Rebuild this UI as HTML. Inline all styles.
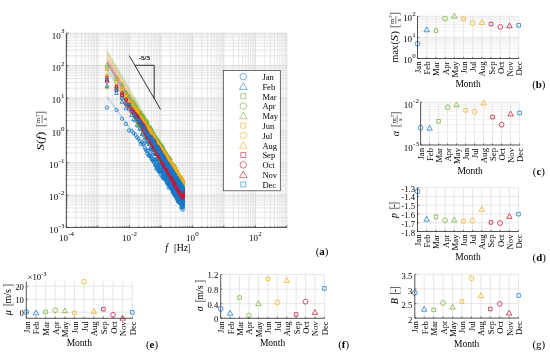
<!DOCTYPE html><html><head><meta charset="utf-8"><style>html,body{margin:0;padding:0;background:#fff;overflow:hidden}svg{display:block}</style></head><body><svg width="550" height="358" viewBox="0 0 550 358" font-family="'Liberation Serif', 'Times New Roman', serif">
<rect width="550" height="358" fill="#fff"/>
<path d="M75.83 33.2V227.42M81.38 33.2V227.42M85.31 33.2V227.42M88.37 33.2V227.42M90.86 33.2V227.42M92.97 33.2V227.42M94.8 33.2V227.42M96.41 33.2V227.42M107.33 33.2V227.42M112.88 33.2V227.42M116.81 33.2V227.42M119.87 33.2V227.42M122.36 33.2V227.42M124.47 33.2V227.42M126.3 33.2V227.42M127.91 33.2V227.42M138.83 33.2V227.42M144.38 33.2V227.42M148.31 33.2V227.42M151.37 33.2V227.42M153.86 33.2V227.42M155.97 33.2V227.42M157.8 33.2V227.42M159.41 33.2V227.42M170.33 33.2V227.42M175.88 33.2V227.42M179.81 33.2V227.42M182.87 33.2V227.42M185.36 33.2V227.42M187.47 33.2V227.42M189.3 33.2V227.42M190.91 33.2V227.42M201.83 33.2V227.42M207.38 33.2V227.42M211.31 33.2V227.42M214.37 33.2V227.42M216.86 33.2V227.42M218.97 33.2V227.42M220.8 33.2V227.42M222.41 33.2V227.42M233.33 33.2V227.42M238.88 33.2V227.42M242.81 33.2V227.42M245.87 33.2V227.42M248.36 33.2V227.42M250.47 33.2V227.42M252.3 33.2V227.42M253.91 33.2V227.42M264.83 33.2V227.42M270.38 33.2V227.42M274.31 33.2V227.42M277.37 33.2V227.42M279.86 33.2V227.42M281.97 33.2V227.42M283.8 33.2V227.42M285.41 33.2V227.42M66.35 217.68H286.85M66.35 211.98H286.85M66.35 207.93H286.85M66.35 204.79H286.85M66.35 202.23H286.85M66.35 200.06H286.85M66.35 198.19H286.85M66.35 196.53H286.85M66.35 185.31H286.85M66.35 179.61H286.85M66.35 175.56H286.85M66.35 172.42H286.85M66.35 169.86H286.85M66.35 167.69H286.85M66.35 165.82H286.85M66.35 164.16H286.85M66.35 152.94H286.85M66.35 147.24H286.85M66.35 143.19H286.85M66.35 140.05H286.85M66.35 137.49H286.85M66.35 135.32H286.85M66.35 133.45H286.85M66.35 131.79H286.85M66.35 120.57H286.85M66.35 114.87H286.85M66.35 110.82H286.85M66.35 107.68H286.85M66.35 105.12H286.85M66.35 102.95H286.85M66.35 101.08H286.85M66.35 99.42H286.85M66.35 88.2H286.85M66.35 82.5H286.85M66.35 78.45H286.85M66.35 75.31H286.85M66.35 72.75H286.85M66.35 70.58H286.85M66.35 68.71H286.85M66.35 67.05H286.85M66.35 55.83H286.85M66.35 50.13H286.85M66.35 46.08H286.85M66.35 42.94H286.85M66.35 40.38H286.85M66.35 38.21H286.85M66.35 36.34H286.85M66.35 34.68H286.85" stroke="#dddddd" stroke-width="0.7" fill="none"/>
<path d="M66.35 33.2V227.42M97.85 33.2V227.42M129.35 33.2V227.42M160.85 33.2V227.42M192.35 33.2V227.42M223.85 33.2V227.42M255.35 33.2V227.42M286.85 33.2V227.42M66.35 227.42H286.85M66.35 195.05H286.85M66.35 162.68H286.85M66.35 130.31H286.85M66.35 97.94H286.85M66.35 65.57H286.85M66.35 33.2H286.85" stroke="#d2d2d2" stroke-width="0.75" fill="none"/>
<path d="M107.01 96.62L182.87 201.23" stroke="#1978c8" stroke-opacity="0.25" stroke-width="1.5" fill="none"/>
<path d="M107.01 69.22L182.87 198.39" stroke="#1978c8" stroke-opacity="0.25" stroke-width="1.5" fill="none"/>
<path d="M107.01 66.15L182.87 193.53" stroke="#78af32" stroke-opacity="0.25" stroke-width="1.5" fill="none"/>
<path d="M107.01 52.29L182.87 182.55" stroke="#78af32" stroke-opacity="0.25" stroke-width="1.5" fill="none"/>
<path d="M107.01 50.78L182.87 180.57" stroke="#78af32" stroke-opacity="0.25" stroke-width="1.5" fill="none"/>
<path d="M107.01 53.59L182.87 184.71" stroke="#f0af19" stroke-opacity="0.25" stroke-width="1.5" fill="none"/>
<path d="M107.01 55.25L182.87 185.9" stroke="#f0af19" stroke-opacity="0.25" stroke-width="1.5" fill="none"/>
<path d="M107.01 60.03L182.87 180.39" stroke="#f0af19" stroke-opacity="0.25" stroke-width="1.5" fill="none"/>
<path d="M107.01 57.54L182.87 189.76" stroke="#c3193c" stroke-opacity="0.25" stroke-width="1.5" fill="none"/>
<path d="M107.01 62.69L182.87 195.45" stroke="#c3193c" stroke-opacity="0.25" stroke-width="1.5" fill="none"/>
<path d="M107.01 61.25L182.87 187.92" stroke="#c3193c" stroke-opacity="0.25" stroke-width="1.5" fill="none"/>
<path d="M107.01 62.67L182.87 187.48" stroke="#1978c8" stroke-opacity="0.25" stroke-width="1.5" fill="none"/>
<path d="M105.36 107.65a1.65 1.65 0 1 0 3.3 0a1.65 1.65 0 1 0 -3.3 0M114.84 110.03a1.65 1.65 0 1 0 3.3 0a1.65 1.65 0 1 0 -3.3 0M120.39 118.73a1.65 1.65 0 1 0 3.3 0a1.65 1.65 0 1 0 -3.3 0M124.32 123.89a1.65 1.65 0 1 0 3.3 0a1.65 1.65 0 1 0 -3.3 0M127.38 130.47a1.65 1.65 0 1 0 3.3 0a1.65 1.65 0 1 0 -3.3 0M129.87 130.68a1.65 1.65 0 1 0 3.3 0a1.65 1.65 0 1 0 -3.3 0M131.98 133.16a1.65 1.65 0 1 0 3.3 0a1.65 1.65 0 1 0 -3.3 0M133.81 134.75a1.65 1.65 0 1 0 3.3 0a1.65 1.65 0 1 0 -3.3 0M135.42 137.47a1.65 1.65 0 1 0 3.3 0a1.65 1.65 0 1 0 -3.3 0M136.86 138.6a1.65 1.65 0 1 0 3.3 0a1.65 1.65 0 1 0 -3.3 0M138.16 141.18a1.65 1.65 0 1 0 3.3 0a1.65 1.65 0 1 0 -3.3 0M139.35 144.25a1.65 1.65 0 1 0 3.3 0a1.65 1.65 0 1 0 -3.3 0M140.45 142.26a1.65 1.65 0 1 0 3.3 0a1.65 1.65 0 1 0 -3.3 0M141.46 143.72a1.65 1.65 0 1 0 3.3 0a1.65 1.65 0 1 0 -3.3 0M142.4 143.74a1.65 1.65 0 1 0 3.3 0a1.65 1.65 0 1 0 -3.3 0M143.29 147.7a1.65 1.65 0 1 0 3.3 0a1.65 1.65 0 1 0 -3.3 0M144.12 149.62a1.65 1.65 0 1 0 3.3 0a1.65 1.65 0 1 0 -3.3 0M144.9 150.98a1.65 1.65 0 1 0 3.3 0a1.65 1.65 0 1 0 -3.3 0M145.64 153.66a1.65 1.65 0 1 0 3.3 0a1.65 1.65 0 1 0 -3.3 0M146.34 150.58a1.65 1.65 0 1 0 3.3 0a1.65 1.65 0 1 0 -3.3 0M147.01 154.96a1.65 1.65 0 1 0 3.3 0a1.65 1.65 0 1 0 -3.3 0M147.64 156.06a1.65 1.65 0 1 0 3.3 0a1.65 1.65 0 1 0 -3.3 0M148.25 155.4a1.65 1.65 0 1 0 3.3 0a1.65 1.65 0 1 0 -3.3 0M148.83 153.54a1.65 1.65 0 1 0 3.3 0a1.65 1.65 0 1 0 -3.3 0M149.39 156.41a1.65 1.65 0 1 0 3.3 0a1.65 1.65 0 1 0 -3.3 0M149.93 159.27a1.65 1.65 0 1 0 3.3 0a1.65 1.65 0 1 0 -3.3 0M150.45 159.55a1.65 1.65 0 1 0 3.3 0a1.65 1.65 0 1 0 -3.3 0M150.94 158.14a1.65 1.65 0 1 0 3.3 0a1.65 1.65 0 1 0 -3.3 0M151.42 160.13a1.65 1.65 0 1 0 3.3 0a1.65 1.65 0 1 0 -3.3 0M151.89 161.82a1.65 1.65 0 1 0 3.3 0a1.65 1.65 0 1 0 -3.3 0M152.34 161.63a1.65 1.65 0 1 0 3.3 0a1.65 1.65 0 1 0 -3.3 0M152.77 160.71a1.65 1.65 0 1 0 3.3 0a1.65 1.65 0 1 0 -3.3 0M153.19 159.36a1.65 1.65 0 1 0 3.3 0a1.65 1.65 0 1 0 -3.3 0M153.6 165.19a1.65 1.65 0 1 0 3.3 0a1.65 1.65 0 1 0 -3.3 0M154 164.79a1.65 1.65 0 1 0 3.3 0a1.65 1.65 0 1 0 -3.3 0M154.38 165.66a1.65 1.65 0 1 0 3.3 0a1.65 1.65 0 1 0 -3.3 0M154.76 168.84a1.65 1.65 0 1 0 3.3 0a1.65 1.65 0 1 0 -3.3 0M155.12 166.98a1.65 1.65 0 1 0 3.3 0a1.65 1.65 0 1 0 -3.3 0M155.48 167.68a1.65 1.65 0 1 0 3.3 0a1.65 1.65 0 1 0 -3.3 0M155.82 164.72a1.65 1.65 0 1 0 3.3 0a1.65 1.65 0 1 0 -3.3 0M156.16 167.26a1.65 1.65 0 1 0 3.3 0a1.65 1.65 0 1 0 -3.3 0M156.49 170.16a1.65 1.65 0 1 0 3.3 0a1.65 1.65 0 1 0 -3.3 0M156.81 166.96a1.65 1.65 0 1 0 3.3 0a1.65 1.65 0 1 0 -3.3 0M157.13 169.05a1.65 1.65 0 1 0 3.3 0a1.65 1.65 0 1 0 -3.3 0M157.43 171.75a1.65 1.65 0 1 0 3.3 0a1.65 1.65 0 1 0 -3.3 0M157.73 170.34a1.65 1.65 0 1 0 3.3 0a1.65 1.65 0 1 0 -3.3 0M158.03 170.76a1.65 1.65 0 1 0 3.3 0a1.65 1.65 0 1 0 -3.3 0M158.32 171.65a1.65 1.65 0 1 0 3.3 0a1.65 1.65 0 1 0 -3.3 0M158.6 170.61a1.65 1.65 0 1 0 3.3 0a1.65 1.65 0 1 0 -3.3 0M158.88 174.71a1.65 1.65 0 1 0 3.3 0a1.65 1.65 0 1 0 -3.3 0M159.15 171.9a1.65 1.65 0 1 0 3.3 0a1.65 1.65 0 1 0 -3.3 0M159.41 170.22a1.65 1.65 0 1 0 3.3 0a1.65 1.65 0 1 0 -3.3 0M159.67 170.87a1.65 1.65 0 1 0 3.3 0a1.65 1.65 0 1 0 -3.3 0M159.93 170.83a1.65 1.65 0 1 0 3.3 0a1.65 1.65 0 1 0 -3.3 0M160.18 171.19a1.65 1.65 0 1 0 3.3 0a1.65 1.65 0 1 0 -3.3 0M160.43 170.96a1.65 1.65 0 1 0 3.3 0a1.65 1.65 0 1 0 -3.3 0M160.67 175.53a1.65 1.65 0 1 0 3.3 0a1.65 1.65 0 1 0 -3.3 0M160.91 172.71a1.65 1.65 0 1 0 3.3 0a1.65 1.65 0 1 0 -3.3 0M161.14 177.43a1.65 1.65 0 1 0 3.3 0a1.65 1.65 0 1 0 -3.3 0M161.37 175.74a1.65 1.65 0 1 0 3.3 0a1.65 1.65 0 1 0 -3.3 0M161.6 178.2a1.65 1.65 0 1 0 3.3 0a1.65 1.65 0 1 0 -3.3 0M161.82 173.73a1.65 1.65 0 1 0 3.3 0a1.65 1.65 0 1 0 -3.3 0M162.04 173.59a1.65 1.65 0 1 0 3.3 0a1.65 1.65 0 1 0 -3.3 0M162.25 176.39a1.65 1.65 0 1 0 3.3 0a1.65 1.65 0 1 0 -3.3 0M162.46 173.51a1.65 1.65 0 1 0 3.3 0a1.65 1.65 0 1 0 -3.3 0M162.67 177.79a1.65 1.65 0 1 0 3.3 0a1.65 1.65 0 1 0 -3.3 0M162.88 176.76a1.65 1.65 0 1 0 3.3 0a1.65 1.65 0 1 0 -3.3 0M163.08 177.05a1.65 1.65 0 1 0 3.3 0a1.65 1.65 0 1 0 -3.3 0M163.28 179.32a1.65 1.65 0 1 0 3.3 0a1.65 1.65 0 1 0 -3.3 0M163.48 177.18a1.65 1.65 0 1 0 3.3 0a1.65 1.65 0 1 0 -3.3 0M163.67 175.04a1.65 1.65 0 1 0 3.3 0a1.65 1.65 0 1 0 -3.3 0M163.86 180.12a1.65 1.65 0 1 0 3.3 0a1.65 1.65 0 1 0 -3.3 0M164.05 177.28a1.65 1.65 0 1 0 3.3 0a1.65 1.65 0 1 0 -3.3 0M164.24 179.26a1.65 1.65 0 1 0 3.3 0a1.65 1.65 0 1 0 -3.3 0M164.42 176.42a1.65 1.65 0 1 0 3.3 0a1.65 1.65 0 1 0 -3.3 0M164.6 178.77a1.65 1.65 0 1 0 3.3 0a1.65 1.65 0 1 0 -3.3 0M164.78 178.72a1.65 1.65 0 1 0 3.3 0a1.65 1.65 0 1 0 -3.3 0M164.96 179.04a1.65 1.65 0 1 0 3.3 0a1.65 1.65 0 1 0 -3.3 0M165.13 179.94a1.65 1.65 0 1 0 3.3 0a1.65 1.65 0 1 0 -3.3 0M165.31 182.85a1.65 1.65 0 1 0 3.3 0a1.65 1.65 0 1 0 -3.3 0M165.48 178.59a1.65 1.65 0 1 0 3.3 0a1.65 1.65 0 1 0 -3.3 0M165.64 183.31a1.65 1.65 0 1 0 3.3 0a1.65 1.65 0 1 0 -3.3 0M165.81 180.95a1.65 1.65 0 1 0 3.3 0a1.65 1.65 0 1 0 -3.3 0M165.97 180.59a1.65 1.65 0 1 0 3.3 0a1.65 1.65 0 1 0 -3.3 0M166.13 183.18a1.65 1.65 0 1 0 3.3 0a1.65 1.65 0 1 0 -3.3 0M166.29 181.83a1.65 1.65 0 1 0 3.3 0a1.65 1.65 0 1 0 -3.3 0M166.45 180.4a1.65 1.65 0 1 0 3.3 0a1.65 1.65 0 1 0 -3.3 0M166.61 182.57a1.65 1.65 0 1 0 3.3 0a1.65 1.65 0 1 0 -3.3 0M166.76 184.19a1.65 1.65 0 1 0 3.3 0a1.65 1.65 0 1 0 -3.3 0M166.92 187.7a1.65 1.65 0 1 0 3.3 0a1.65 1.65 0 1 0 -3.3 0M167.07 184.78a1.65 1.65 0 1 0 3.3 0a1.65 1.65 0 1 0 -3.3 0M167.22 184.38a1.65 1.65 0 1 0 3.3 0a1.65 1.65 0 1 0 -3.3 0M167.37 184.48a1.65 1.65 0 1 0 3.3 0a1.65 1.65 0 1 0 -3.3 0M167.51 185.42a1.65 1.65 0 1 0 3.3 0a1.65 1.65 0 1 0 -3.3 0M167.66 183.47a1.65 1.65 0 1 0 3.3 0a1.65 1.65 0 1 0 -3.3 0M167.8 185.22a1.65 1.65 0 1 0 3.3 0a1.65 1.65 0 1 0 -3.3 0M167.94 184.68a1.65 1.65 0 1 0 3.3 0a1.65 1.65 0 1 0 -3.3 0M168.08 183.61a1.65 1.65 0 1 0 3.3 0a1.65 1.65 0 1 0 -3.3 0M168.22 186.3a1.65 1.65 0 1 0 3.3 0a1.65 1.65 0 1 0 -3.3 0M168.36 185.6a1.65 1.65 0 1 0 3.3 0a1.65 1.65 0 1 0 -3.3 0M168.49 181.85a1.65 1.65 0 1 0 3.3 0a1.65 1.65 0 1 0 -3.3 0M168.63 184.14a1.65 1.65 0 1 0 3.3 0a1.65 1.65 0 1 0 -3.3 0M168.76 187.87a1.65 1.65 0 1 0 3.3 0a1.65 1.65 0 1 0 -3.3 0M168.89 186.12a1.65 1.65 0 1 0 3.3 0a1.65 1.65 0 1 0 -3.3 0M169.03 185.29a1.65 1.65 0 1 0 3.3 0a1.65 1.65 0 1 0 -3.3 0M169.16 184.42a1.65 1.65 0 1 0 3.3 0a1.65 1.65 0 1 0 -3.3 0M169.28 186.38a1.65 1.65 0 1 0 3.3 0a1.65 1.65 0 1 0 -3.3 0M169.41 187.69a1.65 1.65 0 1 0 3.3 0a1.65 1.65 0 1 0 -3.3 0M169.54 188.22a1.65 1.65 0 1 0 3.3 0a1.65 1.65 0 1 0 -3.3 0M169.66 186.2a1.65 1.65 0 1 0 3.3 0a1.65 1.65 0 1 0 -3.3 0M169.79 186.94a1.65 1.65 0 1 0 3.3 0a1.65 1.65 0 1 0 -3.3 0M169.91 188.48a1.65 1.65 0 1 0 3.3 0a1.65 1.65 0 1 0 -3.3 0M170.03 188.15a1.65 1.65 0 1 0 3.3 0a1.65 1.65 0 1 0 -3.3 0M170.15 188.71a1.65 1.65 0 1 0 3.3 0a1.65 1.65 0 1 0 -3.3 0M170.27 187.06a1.65 1.65 0 1 0 3.3 0a1.65 1.65 0 1 0 -3.3 0M170.39 189.54a1.65 1.65 0 1 0 3.3 0a1.65 1.65 0 1 0 -3.3 0M170.51 187.83a1.65 1.65 0 1 0 3.3 0a1.65 1.65 0 1 0 -3.3 0M170.62 187.43a1.65 1.65 0 1 0 3.3 0a1.65 1.65 0 1 0 -3.3 0M170.74 188.21a1.65 1.65 0 1 0 3.3 0a1.65 1.65 0 1 0 -3.3 0M170.85 190.53a1.65 1.65 0 1 0 3.3 0a1.65 1.65 0 1 0 -3.3 0M170.97 187.19a1.65 1.65 0 1 0 3.3 0a1.65 1.65 0 1 0 -3.3 0M171.08 190.65a1.65 1.65 0 1 0 3.3 0a1.65 1.65 0 1 0 -3.3 0M171.19 189.04a1.65 1.65 0 1 0 3.3 0a1.65 1.65 0 1 0 -3.3 0M171.3 191.13a1.65 1.65 0 1 0 3.3 0a1.65 1.65 0 1 0 -3.3 0M171.41 192.92a1.65 1.65 0 1 0 3.3 0a1.65 1.65 0 1 0 -3.3 0M171.52 189.9a1.65 1.65 0 1 0 3.3 0a1.65 1.65 0 1 0 -3.3 0M171.63 189.98a1.65 1.65 0 1 0 3.3 0a1.65 1.65 0 1 0 -3.3 0M171.74 190.75a1.65 1.65 0 1 0 3.3 0a1.65 1.65 0 1 0 -3.3 0M171.84 190.35a1.65 1.65 0 1 0 3.3 0a1.65 1.65 0 1 0 -3.3 0M171.95 192.02a1.65 1.65 0 1 0 3.3 0a1.65 1.65 0 1 0 -3.3 0M172.05 192.33a1.65 1.65 0 1 0 3.3 0a1.65 1.65 0 1 0 -3.3 0M172.16 191.58a1.65 1.65 0 1 0 3.3 0a1.65 1.65 0 1 0 -3.3 0M172.26 188.39a1.65 1.65 0 1 0 3.3 0a1.65 1.65 0 1 0 -3.3 0M172.36 190.32a1.65 1.65 0 1 0 3.3 0a1.65 1.65 0 1 0 -3.3 0M172.46 192.65a1.65 1.65 0 1 0 3.3 0a1.65 1.65 0 1 0 -3.3 0M172.56 191.07a1.65 1.65 0 1 0 3.3 0a1.65 1.65 0 1 0 -3.3 0M172.66 192.91a1.65 1.65 0 1 0 3.3 0a1.65 1.65 0 1 0 -3.3 0M172.76 193.04a1.65 1.65 0 1 0 3.3 0a1.65 1.65 0 1 0 -3.3 0M172.86 191.07a1.65 1.65 0 1 0 3.3 0a1.65 1.65 0 1 0 -3.3 0M172.96 193.47a1.65 1.65 0 1 0 3.3 0a1.65 1.65 0 1 0 -3.3 0M173.06 195.49a1.65 1.65 0 1 0 3.3 0a1.65 1.65 0 1 0 -3.3 0M173.16 194.4a1.65 1.65 0 1 0 3.3 0a1.65 1.65 0 1 0 -3.3 0M173.25 192.95a1.65 1.65 0 1 0 3.3 0a1.65 1.65 0 1 0 -3.3 0M173.35 193.04a1.65 1.65 0 1 0 3.3 0a1.65 1.65 0 1 0 -3.3 0M173.44 191.39a1.65 1.65 0 1 0 3.3 0a1.65 1.65 0 1 0 -3.3 0M173.54 194.71a1.65 1.65 0 1 0 3.3 0a1.65 1.65 0 1 0 -3.3 0M173.63 192.52a1.65 1.65 0 1 0 3.3 0a1.65 1.65 0 1 0 -3.3 0M173.72 193.17a1.65 1.65 0 1 0 3.3 0a1.65 1.65 0 1 0 -3.3 0M173.81 194.25a1.65 1.65 0 1 0 3.3 0a1.65 1.65 0 1 0 -3.3 0M173.9 192.8a1.65 1.65 0 1 0 3.3 0a1.65 1.65 0 1 0 -3.3 0M174 193.51a1.65 1.65 0 1 0 3.3 0a1.65 1.65 0 1 0 -3.3 0M174.09 195.85a1.65 1.65 0 1 0 3.3 0a1.65 1.65 0 1 0 -3.3 0M174.18 192.86a1.65 1.65 0 1 0 3.3 0a1.65 1.65 0 1 0 -3.3 0M174.26 196.72a1.65 1.65 0 1 0 3.3 0a1.65 1.65 0 1 0 -3.3 0M174.35 194.79a1.65 1.65 0 1 0 3.3 0a1.65 1.65 0 1 0 -3.3 0M174.44 195.03a1.65 1.65 0 1 0 3.3 0a1.65 1.65 0 1 0 -3.3 0M174.53 194.49a1.65 1.65 0 1 0 3.3 0a1.65 1.65 0 1 0 -3.3 0M174.62 196.49a1.65 1.65 0 1 0 3.3 0a1.65 1.65 0 1 0 -3.3 0M174.7 195.51a1.65 1.65 0 1 0 3.3 0a1.65 1.65 0 1 0 -3.3 0M174.79 195.82a1.65 1.65 0 1 0 3.3 0a1.65 1.65 0 1 0 -3.3 0M174.87 194.12a1.65 1.65 0 1 0 3.3 0a1.65 1.65 0 1 0 -3.3 0M174.96 197.16a1.65 1.65 0 1 0 3.3 0a1.65 1.65 0 1 0 -3.3 0M175.04 195.89a1.65 1.65 0 1 0 3.3 0a1.65 1.65 0 1 0 -3.3 0M175.13 196.57a1.65 1.65 0 1 0 3.3 0a1.65 1.65 0 1 0 -3.3 0M175.21 198.38a1.65 1.65 0 1 0 3.3 0a1.65 1.65 0 1 0 -3.3 0M175.29 192.09a1.65 1.65 0 1 0 3.3 0a1.65 1.65 0 1 0 -3.3 0M175.37 196.67a1.65 1.65 0 1 0 3.3 0a1.65 1.65 0 1 0 -3.3 0M175.46 199.09a1.65 1.65 0 1 0 3.3 0a1.65 1.65 0 1 0 -3.3 0M175.54 194.54a1.65 1.65 0 1 0 3.3 0a1.65 1.65 0 1 0 -3.3 0M175.62 198.68a1.65 1.65 0 1 0 3.3 0a1.65 1.65 0 1 0 -3.3 0M175.7 196.48a1.65 1.65 0 1 0 3.3 0a1.65 1.65 0 1 0 -3.3 0M175.78 195.81a1.65 1.65 0 1 0 3.3 0a1.65 1.65 0 1 0 -3.3 0M175.86 198.39a1.65 1.65 0 1 0 3.3 0a1.65 1.65 0 1 0 -3.3 0M175.94 198.16a1.65 1.65 0 1 0 3.3 0a1.65 1.65 0 1 0 -3.3 0M176.01 198.47a1.65 1.65 0 1 0 3.3 0a1.65 1.65 0 1 0 -3.3 0M176.09 197.93a1.65 1.65 0 1 0 3.3 0a1.65 1.65 0 1 0 -3.3 0M176.17 200.47a1.65 1.65 0 1 0 3.3 0a1.65 1.65 0 1 0 -3.3 0M176.25 199.97a1.65 1.65 0 1 0 3.3 0a1.65 1.65 0 1 0 -3.3 0M176.32 198.33a1.65 1.65 0 1 0 3.3 0a1.65 1.65 0 1 0 -3.3 0M176.4 196.54a1.65 1.65 0 1 0 3.3 0a1.65 1.65 0 1 0 -3.3 0M176.47 197.32a1.65 1.65 0 1 0 3.3 0a1.65 1.65 0 1 0 -3.3 0M176.55 195.67a1.65 1.65 0 1 0 3.3 0a1.65 1.65 0 1 0 -3.3 0M176.63 197.47a1.65 1.65 0 1 0 3.3 0a1.65 1.65 0 1 0 -3.3 0M176.7 199.54a1.65 1.65 0 1 0 3.3 0a1.65 1.65 0 1 0 -3.3 0M176.77 199.03a1.65 1.65 0 1 0 3.3 0a1.65 1.65 0 1 0 -3.3 0M176.85 202.24a1.65 1.65 0 1 0 3.3 0a1.65 1.65 0 1 0 -3.3 0M176.92 200.63a1.65 1.65 0 1 0 3.3 0a1.65 1.65 0 1 0 -3.3 0M176.99 200.84a1.65 1.65 0 1 0 3.3 0a1.65 1.65 0 1 0 -3.3 0M177.07 198.87a1.65 1.65 0 1 0 3.3 0a1.65 1.65 0 1 0 -3.3 0M177.14 198.38a1.65 1.65 0 1 0 3.3 0a1.65 1.65 0 1 0 -3.3 0M177.21 200.45a1.65 1.65 0 1 0 3.3 0a1.65 1.65 0 1 0 -3.3 0M177.28 200.61a1.65 1.65 0 1 0 3.3 0a1.65 1.65 0 1 0 -3.3 0M177.35 202.28a1.65 1.65 0 1 0 3.3 0a1.65 1.65 0 1 0 -3.3 0M177.42 200.1a1.65 1.65 0 1 0 3.3 0a1.65 1.65 0 1 0 -3.3 0M177.49 199.61a1.65 1.65 0 1 0 3.3 0a1.65 1.65 0 1 0 -3.3 0M177.56 199.4a1.65 1.65 0 1 0 3.3 0a1.65 1.65 0 1 0 -3.3 0M177.63 201.5a1.65 1.65 0 1 0 3.3 0a1.65 1.65 0 1 0 -3.3 0M177.7 197.13a1.65 1.65 0 1 0 3.3 0a1.65 1.65 0 1 0 -3.3 0M177.77 198.53a1.65 1.65 0 1 0 3.3 0a1.65 1.65 0 1 0 -3.3 0M177.84 200.73a1.65 1.65 0 1 0 3.3 0a1.65 1.65 0 1 0 -3.3 0M177.91 201.54a1.65 1.65 0 1 0 3.3 0a1.65 1.65 0 1 0 -3.3 0M177.98 201.31a1.65 1.65 0 1 0 3.3 0a1.65 1.65 0 1 0 -3.3 0M178.04 200.66a1.65 1.65 0 1 0 3.3 0a1.65 1.65 0 1 0 -3.3 0M178.11 201.04a1.65 1.65 0 1 0 3.3 0a1.65 1.65 0 1 0 -3.3 0M178.18 200.34a1.65 1.65 0 1 0 3.3 0a1.65 1.65 0 1 0 -3.3 0M178.24 199.99a1.65 1.65 0 1 0 3.3 0a1.65 1.65 0 1 0 -3.3 0M178.31 199.13a1.65 1.65 0 1 0 3.3 0a1.65 1.65 0 1 0 -3.3 0M178.38 199.59a1.65 1.65 0 1 0 3.3 0a1.65 1.65 0 1 0 -3.3 0M178.44 201.73a1.65 1.65 0 1 0 3.3 0a1.65 1.65 0 1 0 -3.3 0M178.51 201.03a1.65 1.65 0 1 0 3.3 0a1.65 1.65 0 1 0 -3.3 0M178.57 202.39a1.65 1.65 0 1 0 3.3 0a1.65 1.65 0 1 0 -3.3 0M178.64 202.82a1.65 1.65 0 1 0 3.3 0a1.65 1.65 0 1 0 -3.3 0M178.7 198.88a1.65 1.65 0 1 0 3.3 0a1.65 1.65 0 1 0 -3.3 0M178.77 202.82a1.65 1.65 0 1 0 3.3 0a1.65 1.65 0 1 0 -3.3 0M178.83 198.96a1.65 1.65 0 1 0 3.3 0a1.65 1.65 0 1 0 -3.3 0M178.89 202.85a1.65 1.65 0 1 0 3.3 0a1.65 1.65 0 1 0 -3.3 0M178.96 201.98a1.65 1.65 0 1 0 3.3 0a1.65 1.65 0 1 0 -3.3 0M179.02 200.73a1.65 1.65 0 1 0 3.3 0a1.65 1.65 0 1 0 -3.3 0M179.08 202.56a1.65 1.65 0 1 0 3.3 0a1.65 1.65 0 1 0 -3.3 0M179.14 202.06a1.65 1.65 0 1 0 3.3 0a1.65 1.65 0 1 0 -3.3 0M179.21 203.19a1.65 1.65 0 1 0 3.3 0a1.65 1.65 0 1 0 -3.3 0M179.27 203.67a1.65 1.65 0 1 0 3.3 0a1.65 1.65 0 1 0 -3.3 0M179.33 203.27a1.65 1.65 0 1 0 3.3 0a1.65 1.65 0 1 0 -3.3 0M179.39 204.15a1.65 1.65 0 1 0 3.3 0a1.65 1.65 0 1 0 -3.3 0M179.45 200.56a1.65 1.65 0 1 0 3.3 0a1.65 1.65 0 1 0 -3.3 0M179.51 203.57a1.65 1.65 0 1 0 3.3 0a1.65 1.65 0 1 0 -3.3 0M179.57 200.61a1.65 1.65 0 1 0 3.3 0a1.65 1.65 0 1 0 -3.3 0M179.63 207.84a1.65 1.65 0 1 0 3.3 0a1.65 1.65 0 1 0 -3.3 0M179.69 203.56a1.65 1.65 0 1 0 3.3 0a1.65 1.65 0 1 0 -3.3 0M179.75 202.78a1.65 1.65 0 1 0 3.3 0a1.65 1.65 0 1 0 -3.3 0M179.81 204.26a1.65 1.65 0 1 0 3.3 0a1.65 1.65 0 1 0 -3.3 0M179.87 202.11a1.65 1.65 0 1 0 3.3 0a1.65 1.65 0 1 0 -3.3 0M179.93 202.94a1.65 1.65 0 1 0 3.3 0a1.65 1.65 0 1 0 -3.3 0M179.99 204.52a1.65 1.65 0 1 0 3.3 0a1.65 1.65 0 1 0 -3.3 0M180.05 203.46a1.65 1.65 0 1 0 3.3 0a1.65 1.65 0 1 0 -3.3 0M180.1 199.71a1.65 1.65 0 1 0 3.3 0a1.65 1.65 0 1 0 -3.3 0M180.16 203.95a1.65 1.65 0 1 0 3.3 0a1.65 1.65 0 1 0 -3.3 0M180.22 203.96a1.65 1.65 0 1 0 3.3 0a1.65 1.65 0 1 0 -3.3 0M180.28 205.26a1.65 1.65 0 1 0 3.3 0a1.65 1.65 0 1 0 -3.3 0M180.33 204.42a1.65 1.65 0 1 0 3.3 0a1.65 1.65 0 1 0 -3.3 0M180.39 206.82a1.65 1.65 0 1 0 3.3 0a1.65 1.65 0 1 0 -3.3 0M180.45 205.14a1.65 1.65 0 1 0 3.3 0a1.65 1.65 0 1 0 -3.3 0M180.5 200.94a1.65 1.65 0 1 0 3.3 0a1.65 1.65 0 1 0 -3.3 0M180.56 203.28a1.65 1.65 0 1 0 3.3 0a1.65 1.65 0 1 0 -3.3 0M180.62 204.06a1.65 1.65 0 1 0 3.3 0a1.65 1.65 0 1 0 -3.3 0M180.67 203.4a1.65 1.65 0 1 0 3.3 0a1.65 1.65 0 1 0 -3.3 0M180.73 202.23a1.65 1.65 0 1 0 3.3 0a1.65 1.65 0 1 0 -3.3 0M180.78 204.41a1.65 1.65 0 1 0 3.3 0a1.65 1.65 0 1 0 -3.3 0M180.84 202.11a1.65 1.65 0 1 0 3.3 0a1.65 1.65 0 1 0 -3.3 0M180.89 203.81a1.65 1.65 0 1 0 3.3 0a1.65 1.65 0 1 0 -3.3 0M180.95 205.37a1.65 1.65 0 1 0 3.3 0a1.65 1.65 0 1 0 -3.3 0M181 202.94a1.65 1.65 0 1 0 3.3 0a1.65 1.65 0 1 0 -3.3 0M181.06 209.63a1.65 1.65 0 1 0 3.3 0a1.65 1.65 0 1 0 -3.3 0M181.11 206.82a1.65 1.65 0 1 0 3.3 0a1.65 1.65 0 1 0 -3.3 0M181.16 205.56a1.65 1.65 0 1 0 3.3 0a1.65 1.65 0 1 0 -3.3 0M181.22 207.55a1.65 1.65 0 1 0 3.3 0a1.65 1.65 0 1 0 -3.3 0" stroke="#1978c8" stroke-width="0.85" fill="none"/>
<path d="M107.01 84.15l1.9 3.3h-3.79zM116.49 91.09l1.9 3.3h-3.79zM122.04 99.98l1.9 3.3h-3.79zM125.97 106.02l1.9 3.3h-3.79zM129.03 106.92l1.9 3.3h-3.79zM131.52 113.17l1.9 3.3h-3.79zM133.63 117.25l1.9 3.3h-3.79zM135.46 118.58l1.9 3.3h-3.79zM137.07 122.89l1.9 3.3h-3.79zM138.51 123.9l1.9 3.3h-3.79zM139.81 126.59l1.9 3.3h-3.79zM141 127.04l1.9 3.3h-3.79zM142.1 132.24l1.9 3.3h-3.79zM143.11 131.39l1.9 3.3h-3.79zM144.05 133.64l1.9 3.3h-3.79zM144.94 136.5l1.9 3.3h-3.79zM145.77 135.32l1.9 3.3h-3.79zM146.55 138.78l1.9 3.3h-3.79zM147.29 137.15l1.9 3.3h-3.79zM147.99 139.54l1.9 3.3h-3.79zM148.66 140.41l1.9 3.3h-3.79zM149.29 142.14l1.9 3.3h-3.79zM149.9 142.19l1.9 3.3h-3.79zM150.48 146.27l1.9 3.3h-3.79zM151.04 144.98l1.9 3.3h-3.79zM151.58 146.65l1.9 3.3h-3.79zM152.1 146.46l1.9 3.3h-3.79zM152.59 147.64l1.9 3.3h-3.79zM153.07 147.67l1.9 3.3h-3.79zM153.54 150.07l1.9 3.3h-3.79zM153.99 147.77l1.9 3.3h-3.79zM154.42 147.94l1.9 3.3h-3.79zM154.84 151.49l1.9 3.3h-3.79zM155.25 151.94l1.9 3.3h-3.79zM155.65 152.24l1.9 3.3h-3.79zM156.03 151.76l1.9 3.3h-3.79zM156.41 151.66l1.9 3.3h-3.79zM156.77 155.77l1.9 3.3h-3.79zM157.13 155.68l1.9 3.3h-3.79zM157.47 156.76l1.9 3.3h-3.79zM157.81 157.37l1.9 3.3h-3.79zM158.14 158.51l1.9 3.3h-3.79zM158.46 156.76l1.9 3.3h-3.79zM158.78 159l1.9 3.3h-3.79zM159.08 156.49l1.9 3.3h-3.79zM159.38 157.66l1.9 3.3h-3.79zM159.68 160.34l1.9 3.3h-3.79zM159.97 160.81l1.9 3.3h-3.79zM160.25 160.8l1.9 3.3h-3.79zM160.53 158.98l1.9 3.3h-3.79zM160.8 161.97l1.9 3.3h-3.79zM161.06 163.14l1.9 3.3h-3.79zM161.32 161.93l1.9 3.3h-3.79zM161.58 161.87l1.9 3.3h-3.79zM161.83 163.45l1.9 3.3h-3.79zM162.08 161.28l1.9 3.3h-3.79zM162.32 163.24l1.9 3.3h-3.79zM162.56 163.39l1.9 3.3h-3.79zM162.79 165.26l1.9 3.3h-3.79zM163.02 164.71l1.9 3.3h-3.79zM163.25 165.22l1.9 3.3h-3.79zM163.47 167.98l1.9 3.3h-3.79zM163.69 165.44l1.9 3.3h-3.79zM163.9 168.16l1.9 3.3h-3.79zM164.11 166.5l1.9 3.3h-3.79zM164.32 168.49l1.9 3.3h-3.79zM164.53 164.87l1.9 3.3h-3.79zM164.73 167.12l1.9 3.3h-3.79zM164.93 166.84l1.9 3.3h-3.79zM165.13 167.1l1.9 3.3h-3.79zM165.32 169.97l1.9 3.3h-3.79zM165.51 171.37l1.9 3.3h-3.79zM165.7 169.47l1.9 3.3h-3.79zM165.89 168.38l1.9 3.3h-3.79zM166.07 169.6l1.9 3.3h-3.79zM166.25 169.11l1.9 3.3h-3.79zM166.43 169.24l1.9 3.3h-3.79zM166.61 172.28l1.9 3.3h-3.79zM166.78 170.55l1.9 3.3h-3.79zM166.96 168.94l1.9 3.3h-3.79zM167.13 172.09l1.9 3.3h-3.79zM167.29 174.02l1.9 3.3h-3.79zM167.46 172.26l1.9 3.3h-3.79zM167.62 172.79l1.9 3.3h-3.79zM167.78 172.06l1.9 3.3h-3.79zM167.94 173.81l1.9 3.3h-3.79zM168.1 172.96l1.9 3.3h-3.79zM168.26 175.83l1.9 3.3h-3.79zM168.41 172.61l1.9 3.3h-3.79zM168.57 172.03l1.9 3.3h-3.79zM168.72 172.61l1.9 3.3h-3.79zM168.87 176.04l1.9 3.3h-3.79zM169.02 174.21l1.9 3.3h-3.79zM169.16 178.2l1.9 3.3h-3.79zM169.31 174.73l1.9 3.3h-3.79zM169.45 175.36l1.9 3.3h-3.79zM169.59 176.66l1.9 3.3h-3.79zM169.73 175.37l1.9 3.3h-3.79zM169.87 175.83l1.9 3.3h-3.79zM170.01 175.15l1.9 3.3h-3.79zM170.14 176.3l1.9 3.3h-3.79zM170.28 176.4l1.9 3.3h-3.79zM170.41 179.09l1.9 3.3h-3.79zM170.54 178.42l1.9 3.3h-3.79zM170.68 177.86l1.9 3.3h-3.79zM170.81 177.2l1.9 3.3h-3.79zM170.93 177.76l1.9 3.3h-3.79zM171.06 176.26l1.9 3.3h-3.79zM171.19 179.16l1.9 3.3h-3.79zM171.31 178.65l1.9 3.3h-3.79zM171.44 178.3l1.9 3.3h-3.79zM171.56 179.05l1.9 3.3h-3.79zM171.68 178.43l1.9 3.3h-3.79zM171.8 179.84l1.9 3.3h-3.79zM171.92 177.78l1.9 3.3h-3.79zM172.04 179.95l1.9 3.3h-3.79zM172.16 178.52l1.9 3.3h-3.79zM172.27 180.01l1.9 3.3h-3.79zM172.39 178.48l1.9 3.3h-3.79zM172.5 181.94l1.9 3.3h-3.79zM172.62 179.96l1.9 3.3h-3.79zM172.73 181.22l1.9 3.3h-3.79zM172.84 180.66l1.9 3.3h-3.79zM172.95 179.75l1.9 3.3h-3.79zM173.06 182.57l1.9 3.3h-3.79zM173.17 182.96l1.9 3.3h-3.79zM173.28 182.78l1.9 3.3h-3.79zM173.39 181.54l1.9 3.3h-3.79zM173.49 184.14l1.9 3.3h-3.79zM173.6 182.07l1.9 3.3h-3.79zM173.7 183.81l1.9 3.3h-3.79zM173.81 183.82l1.9 3.3h-3.79zM173.91 183.11l1.9 3.3h-3.79zM174.01 182.43l1.9 3.3h-3.79zM174.11 183.74l1.9 3.3h-3.79zM174.21 183.76l1.9 3.3h-3.79zM174.31 183.42l1.9 3.3h-3.79zM174.41 183.84l1.9 3.3h-3.79zM174.51 186.73l1.9 3.3h-3.79zM174.61 184.35l1.9 3.3h-3.79zM174.71 183.93l1.9 3.3h-3.79zM174.81 182.94l1.9 3.3h-3.79zM174.9 182.03l1.9 3.3h-3.79zM175 183.75l1.9 3.3h-3.79zM175.09 184.57l1.9 3.3h-3.79zM175.19 185.91l1.9 3.3h-3.79zM175.28 184.87l1.9 3.3h-3.79zM175.37 184.24l1.9 3.3h-3.79zM175.46 183.85l1.9 3.3h-3.79zM175.55 186.43l1.9 3.3h-3.79zM175.65 185.32l1.9 3.3h-3.79zM175.74 184.81l1.9 3.3h-3.79zM175.83 183.78l1.9 3.3h-3.79zM175.91 185.74l1.9 3.3h-3.79zM176 186.79l1.9 3.3h-3.79zM176.09 187.11l1.9 3.3h-3.79zM176.18 186.88l1.9 3.3h-3.79zM176.27 187.35l1.9 3.3h-3.79zM176.35 185.82l1.9 3.3h-3.79zM176.44 185.69l1.9 3.3h-3.79zM176.52 186.22l1.9 3.3h-3.79zM176.61 185.83l1.9 3.3h-3.79zM176.69 187.84l1.9 3.3h-3.79zM176.78 187.03l1.9 3.3h-3.79zM176.86 188.04l1.9 3.3h-3.79zM176.94 187.69l1.9 3.3h-3.79zM177.02 186.49l1.9 3.3h-3.79zM177.11 188.05l1.9 3.3h-3.79zM177.19 190.26l1.9 3.3h-3.79zM177.27 188.57l1.9 3.3h-3.79zM177.35 189.23l1.9 3.3h-3.79zM177.43 190.26l1.9 3.3h-3.79zM177.51 189.58l1.9 3.3h-3.79zM177.59 187.73l1.9 3.3h-3.79zM177.66 187.04l1.9 3.3h-3.79zM177.74 189.63l1.9 3.3h-3.79zM177.82 188.07l1.9 3.3h-3.79zM177.9 188l1.9 3.3h-3.79zM177.97 190.77l1.9 3.3h-3.79zM178.05 189.63l1.9 3.3h-3.79zM178.12 189.76l1.9 3.3h-3.79zM178.2 189.64l1.9 3.3h-3.79zM178.28 191.77l1.9 3.3h-3.79zM178.35 190.48l1.9 3.3h-3.79zM178.42 189.01l1.9 3.3h-3.79zM178.5 188.91l1.9 3.3h-3.79zM178.57 188.38l1.9 3.3h-3.79zM178.64 190.96l1.9 3.3h-3.79zM178.72 188.58l1.9 3.3h-3.79zM178.79 190.07l1.9 3.3h-3.79zM178.86 192.48l1.9 3.3h-3.79zM178.93 190.2l1.9 3.3h-3.79zM179 191.58l1.9 3.3h-3.79zM179.07 190.71l1.9 3.3h-3.79zM179.14 191.53l1.9 3.3h-3.79zM179.21 190.16l1.9 3.3h-3.79zM179.28 191.36l1.9 3.3h-3.79zM179.35 192.08l1.9 3.3h-3.79zM179.42 190.78l1.9 3.3h-3.79zM179.49 191.7l1.9 3.3h-3.79zM179.56 192.57l1.9 3.3h-3.79zM179.63 190.77l1.9 3.3h-3.79zM179.69 192.79l1.9 3.3h-3.79zM179.76 193.17l1.9 3.3h-3.79zM179.83 193.17l1.9 3.3h-3.79zM179.89 194.33l1.9 3.3h-3.79zM179.96 193.4l1.9 3.3h-3.79zM180.03 190.78l1.9 3.3h-3.79zM180.09 194.03l1.9 3.3h-3.79zM180.16 193.1l1.9 3.3h-3.79zM180.22 194.47l1.9 3.3h-3.79zM180.29 194.01l1.9 3.3h-3.79zM180.35 191.71l1.9 3.3h-3.79zM180.42 192.52l1.9 3.3h-3.79zM180.48 194.33l1.9 3.3h-3.79zM180.54 193.74l1.9 3.3h-3.79zM180.61 194.79l1.9 3.3h-3.79zM180.67 194.85l1.9 3.3h-3.79zM180.73 195.1l1.9 3.3h-3.79zM180.79 195.18l1.9 3.3h-3.79zM180.86 193.9l1.9 3.3h-3.79zM180.92 193.7l1.9 3.3h-3.79zM180.98 193.92l1.9 3.3h-3.79zM181.04 194.77l1.9 3.3h-3.79zM181.1 196.22l1.9 3.3h-3.79zM181.16 194.86l1.9 3.3h-3.79zM181.22 195.93l1.9 3.3h-3.79zM181.28 193.99l1.9 3.3h-3.79zM181.34 194.45l1.9 3.3h-3.79zM181.4 194.34l1.9 3.3h-3.79zM181.46 195.68l1.9 3.3h-3.79zM181.52 197.43l1.9 3.3h-3.79zM181.58 194.39l1.9 3.3h-3.79zM181.64 194.19l1.9 3.3h-3.79zM181.7 197.36l1.9 3.3h-3.79zM181.75 195.62l1.9 3.3h-3.79zM181.81 194.52l1.9 3.3h-3.79zM181.87 197.18l1.9 3.3h-3.79zM181.93 194.06l1.9 3.3h-3.79zM181.98 196.55l1.9 3.3h-3.79zM182.04 197.47l1.9 3.3h-3.79zM182.1 194.79l1.9 3.3h-3.79zM182.15 196.11l1.9 3.3h-3.79zM182.21 197.27l1.9 3.3h-3.79zM182.27 195.63l1.9 3.3h-3.79zM182.32 198.94l1.9 3.3h-3.79zM182.38 194.76l1.9 3.3h-3.79zM182.43 197.83l1.9 3.3h-3.79zM182.49 196.67l1.9 3.3h-3.79zM182.54 197.54l1.9 3.3h-3.79zM182.6 196.69l1.9 3.3h-3.79zM182.65 196.27l1.9 3.3h-3.79zM182.71 198.3l1.9 3.3h-3.79zM182.76 196.56l1.9 3.3h-3.79zM182.81 197.88l1.9 3.3h-3.79zM182.87 198.41l1.9 3.3h-3.79z" stroke="#1978c8" stroke-width="0.85" fill="none"/>
<path d="M105.77 86.34h2.47v2.47h-2.47zM115.25 88.45h2.47v2.47h-2.47zM120.8 97.55h2.47v2.47h-2.47zM124.74 103.24h2.47v2.47h-2.47zM127.79 105.91h2.47v2.47h-2.47zM130.28 110.99h2.47v2.47h-2.47zM132.39 112.78h2.47v2.47h-2.47zM134.22 116.42h2.47v2.47h-2.47zM135.83 120.58h2.47v2.47h-2.47zM137.27 123.83h2.47v2.47h-2.47zM138.57 124.5h2.47v2.47h-2.47zM139.76 125.29h2.47v2.47h-2.47zM140.86 127.31h2.47v2.47h-2.47zM141.87 129.86h2.47v2.47h-2.47zM142.82 129.26h2.47v2.47h-2.47zM143.7 133.79h2.47v2.47h-2.47zM144.53 134.55h2.47v2.47h-2.47zM145.31 134.22h2.47v2.47h-2.47zM146.05 133.06h2.47v2.47h-2.47zM146.75 136.19h2.47v2.47h-2.47zM147.42 138.86h2.47v2.47h-2.47zM148.06 138.07h2.47v2.47h-2.47zM148.66 138.94h2.47v2.47h-2.47zM149.25 139.58h2.47v2.47h-2.47zM149.81 142h2.47v2.47h-2.47zM150.34 143.3h2.47v2.47h-2.47zM150.86 143.09h2.47v2.47h-2.47zM151.36 143.55h2.47v2.47h-2.47zM151.84 142.98h2.47v2.47h-2.47zM152.3 143.17h2.47v2.47h-2.47zM152.75 147.09h2.47v2.47h-2.47zM153.18 147.55h2.47v2.47h-2.47zM153.6 147.71h2.47v2.47h-2.47zM154.01 148.57h2.47v2.47h-2.47zM154.41 148.38h2.47v2.47h-2.47zM154.79 149h2.47v2.47h-2.47zM155.17 149.86h2.47v2.47h-2.47zM155.53 149.22h2.47v2.47h-2.47zM155.89 151.5h2.47v2.47h-2.47zM156.24 153.06h2.47v2.47h-2.47zM156.57 154.19h2.47v2.47h-2.47zM156.9 154.12h2.47v2.47h-2.47zM157.22 154.66h2.47v2.47h-2.47zM157.54 156.11h2.47v2.47h-2.47zM157.85 153.73h2.47v2.47h-2.47zM158.15 154.75h2.47v2.47h-2.47zM158.44 155.92h2.47v2.47h-2.47zM158.73 156.91h2.47v2.47h-2.47zM159.01 158.15h2.47v2.47h-2.47zM159.29 157.85h2.47v2.47h-2.47zM159.56 155.16h2.47v2.47h-2.47zM159.82 160.18h2.47v2.47h-2.47zM160.09 157.94h2.47v2.47h-2.47zM160.34 157.67h2.47v2.47h-2.47zM160.59 158.77h2.47v2.47h-2.47zM160.84 159.68h2.47v2.47h-2.47zM161.08 158.85h2.47v2.47h-2.47zM161.32 161.35h2.47v2.47h-2.47zM161.55 159.85h2.47v2.47h-2.47zM161.78 159.23h2.47v2.47h-2.47zM162.01 162.4h2.47v2.47h-2.47zM162.23 162.51h2.47v2.47h-2.47zM162.45 161.79h2.47v2.47h-2.47zM162.67 161.17h2.47v2.47h-2.47zM162.88 161.12h2.47v2.47h-2.47zM163.09 162.2h2.47v2.47h-2.47zM163.29 164.07h2.47v2.47h-2.47zM163.49 164.9h2.47v2.47h-2.47zM163.69 163.69h2.47v2.47h-2.47zM163.89 163.83h2.47v2.47h-2.47zM164.09 165.85h2.47v2.47h-2.47zM164.28 164.84h2.47v2.47h-2.47zM164.47 164.84h2.47v2.47h-2.47zM164.65 164.34h2.47v2.47h-2.47zM164.83 166.94h2.47v2.47h-2.47zM165.02 165.48h2.47v2.47h-2.47zM165.19 167.73h2.47v2.47h-2.47zM165.37 167.18h2.47v2.47h-2.47zM165.55 167.07h2.47v2.47h-2.47zM165.72 165.54h2.47v2.47h-2.47zM165.89 163.78h2.47v2.47h-2.47zM166.06 167.52h2.47v2.47h-2.47zM166.22 167.52h2.47v2.47h-2.47zM166.39 167.21h2.47v2.47h-2.47zM166.55 170.15h2.47v2.47h-2.47zM166.71 168h2.47v2.47h-2.47zM166.87 170.54h2.47v2.47h-2.47zM167.02 167.54h2.47v2.47h-2.47zM167.18 168h2.47v2.47h-2.47zM167.33 169.32h2.47v2.47h-2.47zM167.48 171.05h2.47v2.47h-2.47zM167.63 168.49h2.47v2.47h-2.47zM167.78 170.33h2.47v2.47h-2.47zM167.92 170.73h2.47v2.47h-2.47zM168.07 170.44h2.47v2.47h-2.47zM168.21 173.27h2.47v2.47h-2.47zM168.35 171.07h2.47v2.47h-2.47zM168.49 170.66h2.47v2.47h-2.47zM168.63 171.63h2.47v2.47h-2.47zM168.77 172.08h2.47v2.47h-2.47zM168.91 173.54h2.47v2.47h-2.47zM169.04 171.95h2.47v2.47h-2.47zM169.17 172.67h2.47v2.47h-2.47zM169.31 173.11h2.47v2.47h-2.47zM169.44 173.97h2.47v2.47h-2.47zM169.57 172.57h2.47v2.47h-2.47zM169.7 172.34h2.47v2.47h-2.47zM169.82 173.52h2.47v2.47h-2.47zM169.95 173.15h2.47v2.47h-2.47zM170.07 172.87h2.47v2.47h-2.47zM170.2 172.78h2.47v2.47h-2.47zM170.32 174.52h2.47v2.47h-2.47zM170.44 175.22h2.47v2.47h-2.47zM170.56 175.64h2.47v2.47h-2.47zM170.68 175.35h2.47v2.47h-2.47zM170.8 174.94h2.47v2.47h-2.47zM170.92 174.69h2.47v2.47h-2.47zM171.03 176.43h2.47v2.47h-2.47zM171.15 175.96h2.47v2.47h-2.47zM171.26 177.45h2.47v2.47h-2.47zM171.38 175.07h2.47v2.47h-2.47zM171.49 177.13h2.47v2.47h-2.47zM171.6 176.47h2.47v2.47h-2.47zM171.71 177.87h2.47v2.47h-2.47zM171.82 177.57h2.47v2.47h-2.47zM171.93 178.19h2.47v2.47h-2.47zM172.04 175.66h2.47v2.47h-2.47zM172.15 177.36h2.47v2.47h-2.47zM172.25 178.13h2.47v2.47h-2.47zM172.36 179.19h2.47v2.47h-2.47zM172.46 178.98h2.47v2.47h-2.47zM172.57 177.81h2.47v2.47h-2.47zM172.67 176.74h2.47v2.47h-2.47zM172.77 180.42h2.47v2.47h-2.47zM172.88 180h2.47v2.47h-2.47zM172.98 179.33h2.47v2.47h-2.47zM173.08 180h2.47v2.47h-2.47zM173.18 181.33h2.47v2.47h-2.47zM173.28 179.59h2.47v2.47h-2.47zM173.37 178.93h2.47v2.47h-2.47zM173.47 181.72h2.47v2.47h-2.47zM173.57 179.86h2.47v2.47h-2.47zM173.66 179.16h2.47v2.47h-2.47zM173.76 179.3h2.47v2.47h-2.47zM173.85 181.04h2.47v2.47h-2.47zM173.95 178.11h2.47v2.47h-2.47zM174.04 180.24h2.47v2.47h-2.47zM174.13 181.94h2.47v2.47h-2.47zM174.23 180.06h2.47v2.47h-2.47zM174.32 182.6h2.47v2.47h-2.47zM174.41 180.46h2.47v2.47h-2.47zM174.5 183.05h2.47v2.47h-2.47zM174.59 180.87h2.47v2.47h-2.47zM174.68 182.58h2.47v2.47h-2.47zM174.77 180.78h2.47v2.47h-2.47zM174.85 181.37h2.47v2.47h-2.47zM174.94 181.84h2.47v2.47h-2.47zM175.03 182.42h2.47v2.47h-2.47zM175.11 181.4h2.47v2.47h-2.47zM175.2 184.82h2.47v2.47h-2.47zM175.29 182.42h2.47v2.47h-2.47zM175.37 182.58h2.47v2.47h-2.47zM175.45 182.55h2.47v2.47h-2.47zM175.54 182.39h2.47v2.47h-2.47zM175.62 179.27h2.47v2.47h-2.47zM175.7 183.47h2.47v2.47h-2.47zM175.79 182.82h2.47v2.47h-2.47zM175.87 183.7h2.47v2.47h-2.47zM175.95 182.22h2.47v2.47h-2.47zM176.03 186.43h2.47v2.47h-2.47zM176.11 182.34h2.47v2.47h-2.47zM176.19 185.17h2.47v2.47h-2.47zM176.27 187.09h2.47v2.47h-2.47zM176.35 185.88h2.47v2.47h-2.47zM176.43 184.99h2.47v2.47h-2.47zM176.5 184.7h2.47v2.47h-2.47zM176.58 185.09h2.47v2.47h-2.47zM176.66 184.24h2.47v2.47h-2.47zM176.74 185.34h2.47v2.47h-2.47zM176.81 185.49h2.47v2.47h-2.47zM176.89 187.97h2.47v2.47h-2.47zM176.96 185.12h2.47v2.47h-2.47zM177.04 184.65h2.47v2.47h-2.47zM177.11 186.39h2.47v2.47h-2.47zM177.19 188.16h2.47v2.47h-2.47zM177.26 187.67h2.47v2.47h-2.47zM177.33 184.38h2.47v2.47h-2.47zM177.41 187.09h2.47v2.47h-2.47zM177.48 187.27h2.47v2.47h-2.47zM177.55 187.57h2.47v2.47h-2.47zM177.62 185.98h2.47v2.47h-2.47zM177.69 187.54h2.47v2.47h-2.47zM177.77 187.97h2.47v2.47h-2.47zM177.84 188.81h2.47v2.47h-2.47zM177.91 187.34h2.47v2.47h-2.47zM177.98 186.2h2.47v2.47h-2.47zM178.05 187.62h2.47v2.47h-2.47zM178.12 186.57h2.47v2.47h-2.47zM178.18 187.48h2.47v2.47h-2.47zM178.25 187.62h2.47v2.47h-2.47zM178.32 187.7h2.47v2.47h-2.47zM178.39 187.98h2.47v2.47h-2.47zM178.46 186.96h2.47v2.47h-2.47zM178.52 187.68h2.47v2.47h-2.47zM178.59 189h2.47v2.47h-2.47zM178.66 188.31h2.47v2.47h-2.47zM178.72 188.65h2.47v2.47h-2.47zM178.79 188.12h2.47v2.47h-2.47zM178.86 188.58h2.47v2.47h-2.47zM178.92 188.42h2.47v2.47h-2.47zM178.99 190.67h2.47v2.47h-2.47zM179.05 188.67h2.47v2.47h-2.47zM179.11 187.72h2.47v2.47h-2.47zM179.18 190.84h2.47v2.47h-2.47zM179.24 187.6h2.47v2.47h-2.47zM179.31 189.19h2.47v2.47h-2.47zM179.37 189.86h2.47v2.47h-2.47zM179.43 191.78h2.47v2.47h-2.47zM179.49 188.6h2.47v2.47h-2.47zM179.56 191.03h2.47v2.47h-2.47zM179.62 190.62h2.47v2.47h-2.47zM179.68 189.52h2.47v2.47h-2.47zM179.74 191.4h2.47v2.47h-2.47zM179.8 191.46h2.47v2.47h-2.47zM179.86 191.75h2.47v2.47h-2.47zM179.92 190.67h2.47v2.47h-2.47zM179.99 189.98h2.47v2.47h-2.47zM180.05 190.28h2.47v2.47h-2.47zM180.11 190.38h2.47v2.47h-2.47zM180.16 191.33h2.47v2.47h-2.47zM180.22 190.88h2.47v2.47h-2.47zM180.28 191.91h2.47v2.47h-2.47zM180.34 188.97h2.47v2.47h-2.47zM180.4 191.11h2.47v2.47h-2.47zM180.46 193.64h2.47v2.47h-2.47zM180.52 192.73h2.47v2.47h-2.47zM180.58 189.8h2.47v2.47h-2.47zM180.63 193.26h2.47v2.47h-2.47zM180.69 192.3h2.47v2.47h-2.47zM180.75 191.44h2.47v2.47h-2.47zM180.8 193.23h2.47v2.47h-2.47zM180.86 190.88h2.47v2.47h-2.47zM180.92 190.27h2.47v2.47h-2.47zM180.97 193.2h2.47v2.47h-2.47zM181.03 191.08h2.47v2.47h-2.47zM181.08 193.46h2.47v2.47h-2.47zM181.14 193.68h2.47v2.47h-2.47zM181.2 192.36h2.47v2.47h-2.47zM181.25 192.46h2.47v2.47h-2.47zM181.31 193.49h2.47v2.47h-2.47zM181.36 191.95h2.47v2.47h-2.47zM181.41 194.66h2.47v2.47h-2.47zM181.47 194.06h2.47v2.47h-2.47zM181.52 194.4h2.47v2.47h-2.47zM181.58 192.4h2.47v2.47h-2.47zM181.63 192.44h2.47v2.47h-2.47z" stroke="#78af32" stroke-width="0.85" fill="none"/>
<path d="M105.36 69.13a1.65 1.65 0 1 0 3.3 0a1.65 1.65 0 1 0 -3.3 0M114.84 78.49a1.65 1.65 0 1 0 3.3 0a1.65 1.65 0 1 0 -3.3 0M120.39 88.64a1.65 1.65 0 1 0 3.3 0a1.65 1.65 0 1 0 -3.3 0M124.32 92.79a1.65 1.65 0 1 0 3.3 0a1.65 1.65 0 1 0 -3.3 0M127.38 96.98a1.65 1.65 0 1 0 3.3 0a1.65 1.65 0 1 0 -3.3 0M129.87 103.09a1.65 1.65 0 1 0 3.3 0a1.65 1.65 0 1 0 -3.3 0M131.98 105.4a1.65 1.65 0 1 0 3.3 0a1.65 1.65 0 1 0 -3.3 0M133.81 106.54a1.65 1.65 0 1 0 3.3 0a1.65 1.65 0 1 0 -3.3 0M135.42 108.96a1.65 1.65 0 1 0 3.3 0a1.65 1.65 0 1 0 -3.3 0M136.86 111.7a1.65 1.65 0 1 0 3.3 0a1.65 1.65 0 1 0 -3.3 0M138.16 113.4a1.65 1.65 0 1 0 3.3 0a1.65 1.65 0 1 0 -3.3 0M139.35 115.51a1.65 1.65 0 1 0 3.3 0a1.65 1.65 0 1 0 -3.3 0M140.45 117.42a1.65 1.65 0 1 0 3.3 0a1.65 1.65 0 1 0 -3.3 0M141.46 119.31a1.65 1.65 0 1 0 3.3 0a1.65 1.65 0 1 0 -3.3 0M142.4 121.66a1.65 1.65 0 1 0 3.3 0a1.65 1.65 0 1 0 -3.3 0M143.29 122.35a1.65 1.65 0 1 0 3.3 0a1.65 1.65 0 1 0 -3.3 0M144.12 123.84a1.65 1.65 0 1 0 3.3 0a1.65 1.65 0 1 0 -3.3 0M144.9 122a1.65 1.65 0 1 0 3.3 0a1.65 1.65 0 1 0 -3.3 0M145.64 125.5a1.65 1.65 0 1 0 3.3 0a1.65 1.65 0 1 0 -3.3 0M146.34 126.93a1.65 1.65 0 1 0 3.3 0a1.65 1.65 0 1 0 -3.3 0M147.01 128.24a1.65 1.65 0 1 0 3.3 0a1.65 1.65 0 1 0 -3.3 0M147.64 129.12a1.65 1.65 0 1 0 3.3 0a1.65 1.65 0 1 0 -3.3 0M148.25 130.27a1.65 1.65 0 1 0 3.3 0a1.65 1.65 0 1 0 -3.3 0M148.83 130.28a1.65 1.65 0 1 0 3.3 0a1.65 1.65 0 1 0 -3.3 0M149.39 131.83a1.65 1.65 0 1 0 3.3 0a1.65 1.65 0 1 0 -3.3 0M149.93 131.73a1.65 1.65 0 1 0 3.3 0a1.65 1.65 0 1 0 -3.3 0M150.45 134.27a1.65 1.65 0 1 0 3.3 0a1.65 1.65 0 1 0 -3.3 0M150.94 133.89a1.65 1.65 0 1 0 3.3 0a1.65 1.65 0 1 0 -3.3 0M151.42 134.06a1.65 1.65 0 1 0 3.3 0a1.65 1.65 0 1 0 -3.3 0M151.89 137.11a1.65 1.65 0 1 0 3.3 0a1.65 1.65 0 1 0 -3.3 0M152.34 136.34a1.65 1.65 0 1 0 3.3 0a1.65 1.65 0 1 0 -3.3 0M152.77 136.95a1.65 1.65 0 1 0 3.3 0a1.65 1.65 0 1 0 -3.3 0M153.19 138.29a1.65 1.65 0 1 0 3.3 0a1.65 1.65 0 1 0 -3.3 0M153.6 139.12a1.65 1.65 0 1 0 3.3 0a1.65 1.65 0 1 0 -3.3 0M154 141.31a1.65 1.65 0 1 0 3.3 0a1.65 1.65 0 1 0 -3.3 0M154.38 138.53a1.65 1.65 0 1 0 3.3 0a1.65 1.65 0 1 0 -3.3 0M154.76 141.5a1.65 1.65 0 1 0 3.3 0a1.65 1.65 0 1 0 -3.3 0M155.12 142.43a1.65 1.65 0 1 0 3.3 0a1.65 1.65 0 1 0 -3.3 0M155.48 140.86a1.65 1.65 0 1 0 3.3 0a1.65 1.65 0 1 0 -3.3 0M155.82 144.24a1.65 1.65 0 1 0 3.3 0a1.65 1.65 0 1 0 -3.3 0M156.16 141.62a1.65 1.65 0 1 0 3.3 0a1.65 1.65 0 1 0 -3.3 0M156.49 142.76a1.65 1.65 0 1 0 3.3 0a1.65 1.65 0 1 0 -3.3 0M156.81 143.1a1.65 1.65 0 1 0 3.3 0a1.65 1.65 0 1 0 -3.3 0M157.13 144.47a1.65 1.65 0 1 0 3.3 0a1.65 1.65 0 1 0 -3.3 0M157.43 146.17a1.65 1.65 0 1 0 3.3 0a1.65 1.65 0 1 0 -3.3 0M157.73 147.42a1.65 1.65 0 1 0 3.3 0a1.65 1.65 0 1 0 -3.3 0M158.03 144.1a1.65 1.65 0 1 0 3.3 0a1.65 1.65 0 1 0 -3.3 0M158.32 146.76a1.65 1.65 0 1 0 3.3 0a1.65 1.65 0 1 0 -3.3 0M158.6 147.27a1.65 1.65 0 1 0 3.3 0a1.65 1.65 0 1 0 -3.3 0M158.88 145.34a1.65 1.65 0 1 0 3.3 0a1.65 1.65 0 1 0 -3.3 0M159.15 148.29a1.65 1.65 0 1 0 3.3 0a1.65 1.65 0 1 0 -3.3 0M159.41 148.28a1.65 1.65 0 1 0 3.3 0a1.65 1.65 0 1 0 -3.3 0M159.67 148.7a1.65 1.65 0 1 0 3.3 0a1.65 1.65 0 1 0 -3.3 0M159.93 149.01a1.65 1.65 0 1 0 3.3 0a1.65 1.65 0 1 0 -3.3 0M160.18 150.44a1.65 1.65 0 1 0 3.3 0a1.65 1.65 0 1 0 -3.3 0M160.43 150.3a1.65 1.65 0 1 0 3.3 0a1.65 1.65 0 1 0 -3.3 0M160.67 148.61a1.65 1.65 0 1 0 3.3 0a1.65 1.65 0 1 0 -3.3 0M160.91 149.59a1.65 1.65 0 1 0 3.3 0a1.65 1.65 0 1 0 -3.3 0M161.14 154.21a1.65 1.65 0 1 0 3.3 0a1.65 1.65 0 1 0 -3.3 0M161.37 153.43a1.65 1.65 0 1 0 3.3 0a1.65 1.65 0 1 0 -3.3 0M161.6 151.2a1.65 1.65 0 1 0 3.3 0a1.65 1.65 0 1 0 -3.3 0M161.82 152.07a1.65 1.65 0 1 0 3.3 0a1.65 1.65 0 1 0 -3.3 0M162.04 152.73a1.65 1.65 0 1 0 3.3 0a1.65 1.65 0 1 0 -3.3 0M162.25 151.48a1.65 1.65 0 1 0 3.3 0a1.65 1.65 0 1 0 -3.3 0M162.46 155.03a1.65 1.65 0 1 0 3.3 0a1.65 1.65 0 1 0 -3.3 0M162.67 151.99a1.65 1.65 0 1 0 3.3 0a1.65 1.65 0 1 0 -3.3 0M162.88 153.54a1.65 1.65 0 1 0 3.3 0a1.65 1.65 0 1 0 -3.3 0M163.08 153.4a1.65 1.65 0 1 0 3.3 0a1.65 1.65 0 1 0 -3.3 0M163.28 154.06a1.65 1.65 0 1 0 3.3 0a1.65 1.65 0 1 0 -3.3 0M163.48 153.71a1.65 1.65 0 1 0 3.3 0a1.65 1.65 0 1 0 -3.3 0M163.67 155.27a1.65 1.65 0 1 0 3.3 0a1.65 1.65 0 1 0 -3.3 0M163.86 155.92a1.65 1.65 0 1 0 3.3 0a1.65 1.65 0 1 0 -3.3 0M164.05 154.73a1.65 1.65 0 1 0 3.3 0a1.65 1.65 0 1 0 -3.3 0M164.24 155.72a1.65 1.65 0 1 0 3.3 0a1.65 1.65 0 1 0 -3.3 0M164.42 157.64a1.65 1.65 0 1 0 3.3 0a1.65 1.65 0 1 0 -3.3 0M164.6 154.99a1.65 1.65 0 1 0 3.3 0a1.65 1.65 0 1 0 -3.3 0M164.78 155.44a1.65 1.65 0 1 0 3.3 0a1.65 1.65 0 1 0 -3.3 0M164.96 155.47a1.65 1.65 0 1 0 3.3 0a1.65 1.65 0 1 0 -3.3 0M165.13 157.3a1.65 1.65 0 1 0 3.3 0a1.65 1.65 0 1 0 -3.3 0M165.31 157.27a1.65 1.65 0 1 0 3.3 0a1.65 1.65 0 1 0 -3.3 0M165.48 158.38a1.65 1.65 0 1 0 3.3 0a1.65 1.65 0 1 0 -3.3 0M165.64 159.33a1.65 1.65 0 1 0 3.3 0a1.65 1.65 0 1 0 -3.3 0M165.81 158.43a1.65 1.65 0 1 0 3.3 0a1.65 1.65 0 1 0 -3.3 0M165.97 158.57a1.65 1.65 0 1 0 3.3 0a1.65 1.65 0 1 0 -3.3 0M166.13 159.79a1.65 1.65 0 1 0 3.3 0a1.65 1.65 0 1 0 -3.3 0M166.29 157.23a1.65 1.65 0 1 0 3.3 0a1.65 1.65 0 1 0 -3.3 0M166.45 161.39a1.65 1.65 0 1 0 3.3 0a1.65 1.65 0 1 0 -3.3 0M166.61 160.74a1.65 1.65 0 1 0 3.3 0a1.65 1.65 0 1 0 -3.3 0M166.76 160.83a1.65 1.65 0 1 0 3.3 0a1.65 1.65 0 1 0 -3.3 0M166.92 158.86a1.65 1.65 0 1 0 3.3 0a1.65 1.65 0 1 0 -3.3 0M167.07 160.87a1.65 1.65 0 1 0 3.3 0a1.65 1.65 0 1 0 -3.3 0M167.22 161.19a1.65 1.65 0 1 0 3.3 0a1.65 1.65 0 1 0 -3.3 0M167.37 162.07a1.65 1.65 0 1 0 3.3 0a1.65 1.65 0 1 0 -3.3 0M167.51 162.17a1.65 1.65 0 1 0 3.3 0a1.65 1.65 0 1 0 -3.3 0M167.66 163.02a1.65 1.65 0 1 0 3.3 0a1.65 1.65 0 1 0 -3.3 0M167.8 160.63a1.65 1.65 0 1 0 3.3 0a1.65 1.65 0 1 0 -3.3 0M167.94 161.33a1.65 1.65 0 1 0 3.3 0a1.65 1.65 0 1 0 -3.3 0M168.08 161.13a1.65 1.65 0 1 0 3.3 0a1.65 1.65 0 1 0 -3.3 0M168.22 163.23a1.65 1.65 0 1 0 3.3 0a1.65 1.65 0 1 0 -3.3 0M168.36 159.86a1.65 1.65 0 1 0 3.3 0a1.65 1.65 0 1 0 -3.3 0M168.49 164.04a1.65 1.65 0 1 0 3.3 0a1.65 1.65 0 1 0 -3.3 0M168.63 165.48a1.65 1.65 0 1 0 3.3 0a1.65 1.65 0 1 0 -3.3 0M168.76 163.7a1.65 1.65 0 1 0 3.3 0a1.65 1.65 0 1 0 -3.3 0M168.89 163.44a1.65 1.65 0 1 0 3.3 0a1.65 1.65 0 1 0 -3.3 0M169.03 162.95a1.65 1.65 0 1 0 3.3 0a1.65 1.65 0 1 0 -3.3 0M169.16 165.17a1.65 1.65 0 1 0 3.3 0a1.65 1.65 0 1 0 -3.3 0M169.28 163.56a1.65 1.65 0 1 0 3.3 0a1.65 1.65 0 1 0 -3.3 0M169.41 162.51a1.65 1.65 0 1 0 3.3 0a1.65 1.65 0 1 0 -3.3 0M169.54 165.62a1.65 1.65 0 1 0 3.3 0a1.65 1.65 0 1 0 -3.3 0M169.66 165.7a1.65 1.65 0 1 0 3.3 0a1.65 1.65 0 1 0 -3.3 0M169.79 166.99a1.65 1.65 0 1 0 3.3 0a1.65 1.65 0 1 0 -3.3 0M169.91 164.99a1.65 1.65 0 1 0 3.3 0a1.65 1.65 0 1 0 -3.3 0M170.03 164.5a1.65 1.65 0 1 0 3.3 0a1.65 1.65 0 1 0 -3.3 0M170.15 164.8a1.65 1.65 0 1 0 3.3 0a1.65 1.65 0 1 0 -3.3 0M170.27 164.92a1.65 1.65 0 1 0 3.3 0a1.65 1.65 0 1 0 -3.3 0M170.39 164.46a1.65 1.65 0 1 0 3.3 0a1.65 1.65 0 1 0 -3.3 0M170.51 166.11a1.65 1.65 0 1 0 3.3 0a1.65 1.65 0 1 0 -3.3 0M170.62 165.37a1.65 1.65 0 1 0 3.3 0a1.65 1.65 0 1 0 -3.3 0M170.74 167.72a1.65 1.65 0 1 0 3.3 0a1.65 1.65 0 1 0 -3.3 0M170.85 167.73a1.65 1.65 0 1 0 3.3 0a1.65 1.65 0 1 0 -3.3 0M170.97 166.75a1.65 1.65 0 1 0 3.3 0a1.65 1.65 0 1 0 -3.3 0M171.08 168.13a1.65 1.65 0 1 0 3.3 0a1.65 1.65 0 1 0 -3.3 0M171.19 166.74a1.65 1.65 0 1 0 3.3 0a1.65 1.65 0 1 0 -3.3 0M171.3 166.02a1.65 1.65 0 1 0 3.3 0a1.65 1.65 0 1 0 -3.3 0M171.41 167.3a1.65 1.65 0 1 0 3.3 0a1.65 1.65 0 1 0 -3.3 0M171.52 168.77a1.65 1.65 0 1 0 3.3 0a1.65 1.65 0 1 0 -3.3 0M171.63 168.96a1.65 1.65 0 1 0 3.3 0a1.65 1.65 0 1 0 -3.3 0M171.74 166.75a1.65 1.65 0 1 0 3.3 0a1.65 1.65 0 1 0 -3.3 0M171.84 169.37a1.65 1.65 0 1 0 3.3 0a1.65 1.65 0 1 0 -3.3 0M171.95 168.54a1.65 1.65 0 1 0 3.3 0a1.65 1.65 0 1 0 -3.3 0M172.05 169.11a1.65 1.65 0 1 0 3.3 0a1.65 1.65 0 1 0 -3.3 0M172.16 168.93a1.65 1.65 0 1 0 3.3 0a1.65 1.65 0 1 0 -3.3 0M172.26 167.92a1.65 1.65 0 1 0 3.3 0a1.65 1.65 0 1 0 -3.3 0M172.36 169.94a1.65 1.65 0 1 0 3.3 0a1.65 1.65 0 1 0 -3.3 0M172.46 171.1a1.65 1.65 0 1 0 3.3 0a1.65 1.65 0 1 0 -3.3 0M172.56 168.02a1.65 1.65 0 1 0 3.3 0a1.65 1.65 0 1 0 -3.3 0M172.66 169.58a1.65 1.65 0 1 0 3.3 0a1.65 1.65 0 1 0 -3.3 0M172.76 169.18a1.65 1.65 0 1 0 3.3 0a1.65 1.65 0 1 0 -3.3 0M172.86 170.19a1.65 1.65 0 1 0 3.3 0a1.65 1.65 0 1 0 -3.3 0M172.96 169.45a1.65 1.65 0 1 0 3.3 0a1.65 1.65 0 1 0 -3.3 0M173.06 169.06a1.65 1.65 0 1 0 3.3 0a1.65 1.65 0 1 0 -3.3 0M173.16 169.1a1.65 1.65 0 1 0 3.3 0a1.65 1.65 0 1 0 -3.3 0M173.25 171.12a1.65 1.65 0 1 0 3.3 0a1.65 1.65 0 1 0 -3.3 0M173.35 171.37a1.65 1.65 0 1 0 3.3 0a1.65 1.65 0 1 0 -3.3 0M173.44 170.68a1.65 1.65 0 1 0 3.3 0a1.65 1.65 0 1 0 -3.3 0M173.54 171.05a1.65 1.65 0 1 0 3.3 0a1.65 1.65 0 1 0 -3.3 0M173.63 170.79a1.65 1.65 0 1 0 3.3 0a1.65 1.65 0 1 0 -3.3 0M173.72 172.4a1.65 1.65 0 1 0 3.3 0a1.65 1.65 0 1 0 -3.3 0M173.81 174.38a1.65 1.65 0 1 0 3.3 0a1.65 1.65 0 1 0 -3.3 0M173.9 171.39a1.65 1.65 0 1 0 3.3 0a1.65 1.65 0 1 0 -3.3 0M174 171.16a1.65 1.65 0 1 0 3.3 0a1.65 1.65 0 1 0 -3.3 0M174.09 171.47a1.65 1.65 0 1 0 3.3 0a1.65 1.65 0 1 0 -3.3 0M174.18 170.47a1.65 1.65 0 1 0 3.3 0a1.65 1.65 0 1 0 -3.3 0M174.26 171.53a1.65 1.65 0 1 0 3.3 0a1.65 1.65 0 1 0 -3.3 0M174.35 173.08a1.65 1.65 0 1 0 3.3 0a1.65 1.65 0 1 0 -3.3 0M174.44 171.67a1.65 1.65 0 1 0 3.3 0a1.65 1.65 0 1 0 -3.3 0M174.53 173.03a1.65 1.65 0 1 0 3.3 0a1.65 1.65 0 1 0 -3.3 0M174.62 171.65a1.65 1.65 0 1 0 3.3 0a1.65 1.65 0 1 0 -3.3 0M174.7 172.95a1.65 1.65 0 1 0 3.3 0a1.65 1.65 0 1 0 -3.3 0M174.79 172.85a1.65 1.65 0 1 0 3.3 0a1.65 1.65 0 1 0 -3.3 0M174.87 173.25a1.65 1.65 0 1 0 3.3 0a1.65 1.65 0 1 0 -3.3 0M174.96 173.58a1.65 1.65 0 1 0 3.3 0a1.65 1.65 0 1 0 -3.3 0M175.04 175.48a1.65 1.65 0 1 0 3.3 0a1.65 1.65 0 1 0 -3.3 0M175.13 173.86a1.65 1.65 0 1 0 3.3 0a1.65 1.65 0 1 0 -3.3 0M175.21 176.64a1.65 1.65 0 1 0 3.3 0a1.65 1.65 0 1 0 -3.3 0M175.29 173.64a1.65 1.65 0 1 0 3.3 0a1.65 1.65 0 1 0 -3.3 0M175.37 173.21a1.65 1.65 0 1 0 3.3 0a1.65 1.65 0 1 0 -3.3 0M175.46 172.15a1.65 1.65 0 1 0 3.3 0a1.65 1.65 0 1 0 -3.3 0M175.54 174.18a1.65 1.65 0 1 0 3.3 0a1.65 1.65 0 1 0 -3.3 0M175.62 175.55a1.65 1.65 0 1 0 3.3 0a1.65 1.65 0 1 0 -3.3 0M175.7 176.68a1.65 1.65 0 1 0 3.3 0a1.65 1.65 0 1 0 -3.3 0M175.78 172.8a1.65 1.65 0 1 0 3.3 0a1.65 1.65 0 1 0 -3.3 0M175.86 176.76a1.65 1.65 0 1 0 3.3 0a1.65 1.65 0 1 0 -3.3 0M175.94 174.26a1.65 1.65 0 1 0 3.3 0a1.65 1.65 0 1 0 -3.3 0M176.01 178.02a1.65 1.65 0 1 0 3.3 0a1.65 1.65 0 1 0 -3.3 0M176.09 175.59a1.65 1.65 0 1 0 3.3 0a1.65 1.65 0 1 0 -3.3 0M176.17 174.89a1.65 1.65 0 1 0 3.3 0a1.65 1.65 0 1 0 -3.3 0M176.25 175.42a1.65 1.65 0 1 0 3.3 0a1.65 1.65 0 1 0 -3.3 0M176.32 175.96a1.65 1.65 0 1 0 3.3 0a1.65 1.65 0 1 0 -3.3 0M176.4 176.98a1.65 1.65 0 1 0 3.3 0a1.65 1.65 0 1 0 -3.3 0M176.47 177.2a1.65 1.65 0 1 0 3.3 0a1.65 1.65 0 1 0 -3.3 0M176.55 175.15a1.65 1.65 0 1 0 3.3 0a1.65 1.65 0 1 0 -3.3 0M176.63 175.93a1.65 1.65 0 1 0 3.3 0a1.65 1.65 0 1 0 -3.3 0M176.7 176.73a1.65 1.65 0 1 0 3.3 0a1.65 1.65 0 1 0 -3.3 0M176.77 176.43a1.65 1.65 0 1 0 3.3 0a1.65 1.65 0 1 0 -3.3 0M176.85 177.84a1.65 1.65 0 1 0 3.3 0a1.65 1.65 0 1 0 -3.3 0M176.92 175.76a1.65 1.65 0 1 0 3.3 0a1.65 1.65 0 1 0 -3.3 0M176.99 175.61a1.65 1.65 0 1 0 3.3 0a1.65 1.65 0 1 0 -3.3 0M177.07 178.04a1.65 1.65 0 1 0 3.3 0a1.65 1.65 0 1 0 -3.3 0M177.14 177.16a1.65 1.65 0 1 0 3.3 0a1.65 1.65 0 1 0 -3.3 0M177.21 176.21a1.65 1.65 0 1 0 3.3 0a1.65 1.65 0 1 0 -3.3 0M177.28 178.24a1.65 1.65 0 1 0 3.3 0a1.65 1.65 0 1 0 -3.3 0M177.35 175.33a1.65 1.65 0 1 0 3.3 0a1.65 1.65 0 1 0 -3.3 0M177.42 176.04a1.65 1.65 0 1 0 3.3 0a1.65 1.65 0 1 0 -3.3 0M177.49 178.19a1.65 1.65 0 1 0 3.3 0a1.65 1.65 0 1 0 -3.3 0M177.56 176.88a1.65 1.65 0 1 0 3.3 0a1.65 1.65 0 1 0 -3.3 0M177.63 176.22a1.65 1.65 0 1 0 3.3 0a1.65 1.65 0 1 0 -3.3 0M177.7 179.63a1.65 1.65 0 1 0 3.3 0a1.65 1.65 0 1 0 -3.3 0M177.77 177.63a1.65 1.65 0 1 0 3.3 0a1.65 1.65 0 1 0 -3.3 0M177.84 178.61a1.65 1.65 0 1 0 3.3 0a1.65 1.65 0 1 0 -3.3 0M177.91 178.81a1.65 1.65 0 1 0 3.3 0a1.65 1.65 0 1 0 -3.3 0M177.98 177.87a1.65 1.65 0 1 0 3.3 0a1.65 1.65 0 1 0 -3.3 0M178.04 179.33a1.65 1.65 0 1 0 3.3 0a1.65 1.65 0 1 0 -3.3 0M178.11 180.48a1.65 1.65 0 1 0 3.3 0a1.65 1.65 0 1 0 -3.3 0M178.18 180.62a1.65 1.65 0 1 0 3.3 0a1.65 1.65 0 1 0 -3.3 0M178.24 179.14a1.65 1.65 0 1 0 3.3 0a1.65 1.65 0 1 0 -3.3 0M178.31 178.52a1.65 1.65 0 1 0 3.3 0a1.65 1.65 0 1 0 -3.3 0M178.38 179.37a1.65 1.65 0 1 0 3.3 0a1.65 1.65 0 1 0 -3.3 0M178.44 179.62a1.65 1.65 0 1 0 3.3 0a1.65 1.65 0 1 0 -3.3 0M178.51 179.6a1.65 1.65 0 1 0 3.3 0a1.65 1.65 0 1 0 -3.3 0M178.57 178.21a1.65 1.65 0 1 0 3.3 0a1.65 1.65 0 1 0 -3.3 0M178.64 179.18a1.65 1.65 0 1 0 3.3 0a1.65 1.65 0 1 0 -3.3 0M178.7 180.73a1.65 1.65 0 1 0 3.3 0a1.65 1.65 0 1 0 -3.3 0M178.77 180.32a1.65 1.65 0 1 0 3.3 0a1.65 1.65 0 1 0 -3.3 0M178.83 178.73a1.65 1.65 0 1 0 3.3 0a1.65 1.65 0 1 0 -3.3 0M178.89 180.86a1.65 1.65 0 1 0 3.3 0a1.65 1.65 0 1 0 -3.3 0M178.96 180.76a1.65 1.65 0 1 0 3.3 0a1.65 1.65 0 1 0 -3.3 0M179.02 180.44a1.65 1.65 0 1 0 3.3 0a1.65 1.65 0 1 0 -3.3 0M179.08 181.72a1.65 1.65 0 1 0 3.3 0a1.65 1.65 0 1 0 -3.3 0M179.14 179.6a1.65 1.65 0 1 0 3.3 0a1.65 1.65 0 1 0 -3.3 0M179.21 183.21a1.65 1.65 0 1 0 3.3 0a1.65 1.65 0 1 0 -3.3 0M179.27 179.18a1.65 1.65 0 1 0 3.3 0a1.65 1.65 0 1 0 -3.3 0M179.33 181.42a1.65 1.65 0 1 0 3.3 0a1.65 1.65 0 1 0 -3.3 0M179.39 182.46a1.65 1.65 0 1 0 3.3 0a1.65 1.65 0 1 0 -3.3 0M179.45 180.82a1.65 1.65 0 1 0 3.3 0a1.65 1.65 0 1 0 -3.3 0M179.51 183.18a1.65 1.65 0 1 0 3.3 0a1.65 1.65 0 1 0 -3.3 0M179.57 180.73a1.65 1.65 0 1 0 3.3 0a1.65 1.65 0 1 0 -3.3 0M179.63 180.56a1.65 1.65 0 1 0 3.3 0a1.65 1.65 0 1 0 -3.3 0M179.69 182.19a1.65 1.65 0 1 0 3.3 0a1.65 1.65 0 1 0 -3.3 0M179.75 182.08a1.65 1.65 0 1 0 3.3 0a1.65 1.65 0 1 0 -3.3 0M179.81 180.66a1.65 1.65 0 1 0 3.3 0a1.65 1.65 0 1 0 -3.3 0M179.87 182.6a1.65 1.65 0 1 0 3.3 0a1.65 1.65 0 1 0 -3.3 0M179.93 181.91a1.65 1.65 0 1 0 3.3 0a1.65 1.65 0 1 0 -3.3 0M179.99 181.64a1.65 1.65 0 1 0 3.3 0a1.65 1.65 0 1 0 -3.3 0M180.05 180.36a1.65 1.65 0 1 0 3.3 0a1.65 1.65 0 1 0 -3.3 0M180.1 182.8a1.65 1.65 0 1 0 3.3 0a1.65 1.65 0 1 0 -3.3 0M180.16 182.28a1.65 1.65 0 1 0 3.3 0a1.65 1.65 0 1 0 -3.3 0M180.22 181.14a1.65 1.65 0 1 0 3.3 0a1.65 1.65 0 1 0 -3.3 0M180.28 185.41a1.65 1.65 0 1 0 3.3 0a1.65 1.65 0 1 0 -3.3 0M180.33 182.92a1.65 1.65 0 1 0 3.3 0a1.65 1.65 0 1 0 -3.3 0M180.39 184.87a1.65 1.65 0 1 0 3.3 0a1.65 1.65 0 1 0 -3.3 0M180.45 184.89a1.65 1.65 0 1 0 3.3 0a1.65 1.65 0 1 0 -3.3 0M180.5 180.68a1.65 1.65 0 1 0 3.3 0a1.65 1.65 0 1 0 -3.3 0M180.56 182.75a1.65 1.65 0 1 0 3.3 0a1.65 1.65 0 1 0 -3.3 0M180.62 181.4a1.65 1.65 0 1 0 3.3 0a1.65 1.65 0 1 0 -3.3 0M180.67 183.45a1.65 1.65 0 1 0 3.3 0a1.65 1.65 0 1 0 -3.3 0M180.73 182.66a1.65 1.65 0 1 0 3.3 0a1.65 1.65 0 1 0 -3.3 0M180.78 183.85a1.65 1.65 0 1 0 3.3 0a1.65 1.65 0 1 0 -3.3 0M180.84 184.07a1.65 1.65 0 1 0 3.3 0a1.65 1.65 0 1 0 -3.3 0M180.89 183.63a1.65 1.65 0 1 0 3.3 0a1.65 1.65 0 1 0 -3.3 0M180.95 183.49a1.65 1.65 0 1 0 3.3 0a1.65 1.65 0 1 0 -3.3 0M181 181.99a1.65 1.65 0 1 0 3.3 0a1.65 1.65 0 1 0 -3.3 0M181.06 184.04a1.65 1.65 0 1 0 3.3 0a1.65 1.65 0 1 0 -3.3 0M181.11 183.48a1.65 1.65 0 1 0 3.3 0a1.65 1.65 0 1 0 -3.3 0M181.16 184.29a1.65 1.65 0 1 0 3.3 0a1.65 1.65 0 1 0 -3.3 0M181.22 183.92a1.65 1.65 0 1 0 3.3 0a1.65 1.65 0 1 0 -3.3 0" stroke="#78af32" stroke-width="0.85" fill="none"/>
<path d="M107.01 63.11l1.9 3.3h-3.79zM116.49 77.35l1.9 3.3h-3.79zM122.04 82.52l1.9 3.3h-3.79zM125.97 90.09l1.9 3.3h-3.79zM129.03 93.99l1.9 3.3h-3.79zM131.52 98.02l1.9 3.3h-3.79zM133.63 99.86l1.9 3.3h-3.79zM135.46 103.18l1.9 3.3h-3.79zM137.07 106.23l1.9 3.3h-3.79zM138.51 108.27l1.9 3.3h-3.79zM139.81 110.1l1.9 3.3h-3.79zM141 111.48l1.9 3.3h-3.79zM142.1 113.47l1.9 3.3h-3.79zM143.11 114.18l1.9 3.3h-3.79zM144.05 115.28l1.9 3.3h-3.79zM144.94 117.81l1.9 3.3h-3.79zM145.77 121.31l1.9 3.3h-3.79zM146.55 119.07l1.9 3.3h-3.79zM147.29 119.78l1.9 3.3h-3.79zM147.99 123.75l1.9 3.3h-3.79zM148.66 124.86l1.9 3.3h-3.79zM149.29 127.74l1.9 3.3h-3.79zM149.9 125.49l1.9 3.3h-3.79zM150.48 128.44l1.9 3.3h-3.79zM151.04 126.12l1.9 3.3h-3.79zM151.58 131.86l1.9 3.3h-3.79zM152.1 129.79l1.9 3.3h-3.79zM152.59 129.91l1.9 3.3h-3.79zM153.07 131.9l1.9 3.3h-3.79zM153.54 133.09l1.9 3.3h-3.79zM153.99 132.63l1.9 3.3h-3.79zM154.42 134.2l1.9 3.3h-3.79zM154.84 134.67l1.9 3.3h-3.79zM155.25 134.99l1.9 3.3h-3.79zM155.65 136.21l1.9 3.3h-3.79zM156.03 136.46l1.9 3.3h-3.79zM156.41 135.91l1.9 3.3h-3.79zM156.77 137.84l1.9 3.3h-3.79zM157.13 137.78l1.9 3.3h-3.79zM157.47 139.38l1.9 3.3h-3.79zM157.81 138.04l1.9 3.3h-3.79zM158.14 141.07l1.9 3.3h-3.79zM158.46 139.05l1.9 3.3h-3.79zM158.78 144.07l1.9 3.3h-3.79zM159.08 142.17l1.9 3.3h-3.79zM159.38 143.43l1.9 3.3h-3.79zM159.68 140.95l1.9 3.3h-3.79zM159.97 142.27l1.9 3.3h-3.79zM160.25 144.51l1.9 3.3h-3.79zM160.53 144.13l1.9 3.3h-3.79zM160.8 142.4l1.9 3.3h-3.79zM161.06 144.43l1.9 3.3h-3.79zM161.32 144.15l1.9 3.3h-3.79zM161.58 146.91l1.9 3.3h-3.79zM161.83 147.32l1.9 3.3h-3.79zM162.08 145.37l1.9 3.3h-3.79zM162.32 143.8l1.9 3.3h-3.79zM162.56 147.41l1.9 3.3h-3.79zM162.79 146.52l1.9 3.3h-3.79zM163.02 148.63l1.9 3.3h-3.79zM163.25 146.51l1.9 3.3h-3.79zM163.47 148.81l1.9 3.3h-3.79zM163.69 149.15l1.9 3.3h-3.79zM163.9 151.15l1.9 3.3h-3.79zM164.11 149.83l1.9 3.3h-3.79zM164.32 149.49l1.9 3.3h-3.79zM164.53 148.47l1.9 3.3h-3.79zM164.73 151.7l1.9 3.3h-3.79zM164.93 149.58l1.9 3.3h-3.79zM165.13 151.41l1.9 3.3h-3.79zM165.32 151.66l1.9 3.3h-3.79zM165.51 152.72l1.9 3.3h-3.79zM165.7 153.89l1.9 3.3h-3.79zM165.89 153.64l1.9 3.3h-3.79zM166.07 150.73l1.9 3.3h-3.79zM166.25 154.22l1.9 3.3h-3.79zM166.43 153.66l1.9 3.3h-3.79zM166.61 152.2l1.9 3.3h-3.79zM166.78 156.14l1.9 3.3h-3.79zM166.96 153.52l1.9 3.3h-3.79zM167.13 154.89l1.9 3.3h-3.79zM167.29 154.37l1.9 3.3h-3.79zM167.46 153.88l1.9 3.3h-3.79zM167.62 155.3l1.9 3.3h-3.79zM167.78 155.62l1.9 3.3h-3.79zM167.94 154.83l1.9 3.3h-3.79zM168.1 155.19l1.9 3.3h-3.79zM168.26 156.99l1.9 3.3h-3.79zM168.41 156.64l1.9 3.3h-3.79zM168.57 158.2l1.9 3.3h-3.79zM168.72 155.46l1.9 3.3h-3.79zM168.87 158.54l1.9 3.3h-3.79zM169.02 157.2l1.9 3.3h-3.79zM169.16 155.68l1.9 3.3h-3.79zM169.31 156.98l1.9 3.3h-3.79zM169.45 158.46l1.9 3.3h-3.79zM169.59 159.18l1.9 3.3h-3.79zM169.73 159.3l1.9 3.3h-3.79zM169.87 157.77l1.9 3.3h-3.79zM170.01 158.65l1.9 3.3h-3.79zM170.14 159.26l1.9 3.3h-3.79zM170.28 156.53l1.9 3.3h-3.79zM170.41 160.64l1.9 3.3h-3.79zM170.54 160.47l1.9 3.3h-3.79zM170.68 160.55l1.9 3.3h-3.79zM170.81 160.09l1.9 3.3h-3.79zM170.93 160.2l1.9 3.3h-3.79zM171.06 161.07l1.9 3.3h-3.79zM171.19 160.13l1.9 3.3h-3.79zM171.31 160.56l1.9 3.3h-3.79zM171.44 161.72l1.9 3.3h-3.79zM171.56 164.36l1.9 3.3h-3.79zM171.68 160.89l1.9 3.3h-3.79zM171.8 163.07l1.9 3.3h-3.79zM171.92 162.93l1.9 3.3h-3.79zM172.04 162.55l1.9 3.3h-3.79zM172.16 163.99l1.9 3.3h-3.79zM172.27 163.7l1.9 3.3h-3.79zM172.39 162.91l1.9 3.3h-3.79zM172.5 163.57l1.9 3.3h-3.79zM172.62 163.02l1.9 3.3h-3.79zM172.73 164.54l1.9 3.3h-3.79zM172.84 164.02l1.9 3.3h-3.79zM172.95 165.14l1.9 3.3h-3.79zM173.06 164.44l1.9 3.3h-3.79zM173.17 163.98l1.9 3.3h-3.79zM173.28 164.76l1.9 3.3h-3.79zM173.39 166.28l1.9 3.3h-3.79zM173.49 165.05l1.9 3.3h-3.79zM173.6 164.84l1.9 3.3h-3.79zM173.7 163.9l1.9 3.3h-3.79zM173.81 165.4l1.9 3.3h-3.79zM173.91 165.99l1.9 3.3h-3.79zM174.01 167.02l1.9 3.3h-3.79zM174.11 163.6l1.9 3.3h-3.79zM174.21 167.1l1.9 3.3h-3.79zM174.31 167.47l1.9 3.3h-3.79zM174.41 166.52l1.9 3.3h-3.79zM174.51 168.58l1.9 3.3h-3.79zM174.61 165.46l1.9 3.3h-3.79zM174.71 166.63l1.9 3.3h-3.79zM174.81 166.44l1.9 3.3h-3.79zM174.9 168.26l1.9 3.3h-3.79zM175 167.89l1.9 3.3h-3.79zM175.09 166.49l1.9 3.3h-3.79zM175.19 166.6l1.9 3.3h-3.79zM175.28 164.56l1.9 3.3h-3.79zM175.37 166.68l1.9 3.3h-3.79zM175.46 170.22l1.9 3.3h-3.79zM175.55 168.12l1.9 3.3h-3.79zM175.65 168.78l1.9 3.3h-3.79zM175.74 167.28l1.9 3.3h-3.79zM175.83 168.77l1.9 3.3h-3.79zM175.91 168.26l1.9 3.3h-3.79zM176 169.32l1.9 3.3h-3.79zM176.09 168.41l1.9 3.3h-3.79zM176.18 167.59l1.9 3.3h-3.79zM176.27 170.08l1.9 3.3h-3.79zM176.35 171.84l1.9 3.3h-3.79zM176.44 170.84l1.9 3.3h-3.79zM176.52 168.04l1.9 3.3h-3.79zM176.61 169.7l1.9 3.3h-3.79zM176.69 170.43l1.9 3.3h-3.79zM176.78 171.32l1.9 3.3h-3.79zM176.86 169.18l1.9 3.3h-3.79zM176.94 170.18l1.9 3.3h-3.79zM177.02 170.77l1.9 3.3h-3.79zM177.11 171.39l1.9 3.3h-3.79zM177.19 171.08l1.9 3.3h-3.79zM177.27 171.4l1.9 3.3h-3.79zM177.35 170.53l1.9 3.3h-3.79zM177.43 169.86l1.9 3.3h-3.79zM177.51 173.66l1.9 3.3h-3.79zM177.59 173.21l1.9 3.3h-3.79zM177.66 171.81l1.9 3.3h-3.79zM177.74 171.74l1.9 3.3h-3.79zM177.82 173.71l1.9 3.3h-3.79zM177.9 172.79l1.9 3.3h-3.79zM177.97 172.67l1.9 3.3h-3.79zM178.05 172.84l1.9 3.3h-3.79zM178.12 172.99l1.9 3.3h-3.79zM178.2 172.69l1.9 3.3h-3.79zM178.28 171.71l1.9 3.3h-3.79zM178.35 172l1.9 3.3h-3.79zM178.42 172.29l1.9 3.3h-3.79zM178.5 172.77l1.9 3.3h-3.79zM178.57 174.02l1.9 3.3h-3.79zM178.64 173.87l1.9 3.3h-3.79zM178.72 172.66l1.9 3.3h-3.79zM178.79 173.44l1.9 3.3h-3.79zM178.86 172.78l1.9 3.3h-3.79zM178.93 173.5l1.9 3.3h-3.79zM179 173.85l1.9 3.3h-3.79zM179.07 173.54l1.9 3.3h-3.79zM179.14 175.9l1.9 3.3h-3.79zM179.21 174.45l1.9 3.3h-3.79zM179.28 175.05l1.9 3.3h-3.79zM179.35 173.55l1.9 3.3h-3.79zM179.42 175.38l1.9 3.3h-3.79zM179.49 174.47l1.9 3.3h-3.79zM179.56 175.34l1.9 3.3h-3.79zM179.63 174.42l1.9 3.3h-3.79zM179.69 174.26l1.9 3.3h-3.79zM179.76 175.43l1.9 3.3h-3.79zM179.83 175.18l1.9 3.3h-3.79zM179.89 175.21l1.9 3.3h-3.79zM179.96 174.65l1.9 3.3h-3.79zM180.03 176.01l1.9 3.3h-3.79zM180.09 175.7l1.9 3.3h-3.79zM180.16 176.34l1.9 3.3h-3.79zM180.22 177.05l1.9 3.3h-3.79zM180.29 175.88l1.9 3.3h-3.79zM180.35 175.7l1.9 3.3h-3.79zM180.42 177.21l1.9 3.3h-3.79zM180.48 174.61l1.9 3.3h-3.79zM180.54 177.35l1.9 3.3h-3.79zM180.61 175.76l1.9 3.3h-3.79zM180.67 176.29l1.9 3.3h-3.79zM180.73 178.75l1.9 3.3h-3.79zM180.79 176.95l1.9 3.3h-3.79zM180.86 178.81l1.9 3.3h-3.79zM180.92 177.25l1.9 3.3h-3.79zM180.98 176.47l1.9 3.3h-3.79zM181.04 175.24l1.9 3.3h-3.79zM181.1 176.55l1.9 3.3h-3.79zM181.16 179.27l1.9 3.3h-3.79zM181.22 178.04l1.9 3.3h-3.79zM181.28 176.04l1.9 3.3h-3.79zM181.34 177.64l1.9 3.3h-3.79zM181.4 175.94l1.9 3.3h-3.79zM181.46 178.86l1.9 3.3h-3.79zM181.52 178.77l1.9 3.3h-3.79zM181.58 179.77l1.9 3.3h-3.79zM181.64 178.77l1.9 3.3h-3.79zM181.7 177.01l1.9 3.3h-3.79zM181.75 179.58l1.9 3.3h-3.79zM181.81 177.68l1.9 3.3h-3.79zM181.87 178.2l1.9 3.3h-3.79zM181.93 177.92l1.9 3.3h-3.79zM181.98 179.21l1.9 3.3h-3.79zM182.04 178.98l1.9 3.3h-3.79zM182.1 176.68l1.9 3.3h-3.79zM182.15 180.61l1.9 3.3h-3.79zM182.21 178.43l1.9 3.3h-3.79zM182.27 177.66l1.9 3.3h-3.79zM182.32 178.95l1.9 3.3h-3.79zM182.38 177.69l1.9 3.3h-3.79zM182.43 183.02l1.9 3.3h-3.79zM182.49 180.1l1.9 3.3h-3.79zM182.54 181.17l1.9 3.3h-3.79zM182.6 180.41l1.9 3.3h-3.79zM182.65 180.15l1.9 3.3h-3.79zM182.71 179.58l1.9 3.3h-3.79zM182.76 181.18l1.9 3.3h-3.79zM182.81 179.31l1.9 3.3h-3.79zM182.87 182.18l1.9 3.3h-3.79z" stroke="#78af32" stroke-width="0.85" fill="none"/>
<path d="M105.77 68.22h2.47v2.47h-2.47zM115.25 78.43h2.47v2.47h-2.47zM120.8 87.8h2.47v2.47h-2.47zM124.74 95.35h2.47v2.47h-2.47zM127.79 99.94h2.47v2.47h-2.47zM130.28 103.75h2.47v2.47h-2.47zM132.39 106.08h2.47v2.47h-2.47zM134.22 107.64h2.47v2.47h-2.47zM135.83 108.78h2.47v2.47h-2.47zM137.27 111.64h2.47v2.47h-2.47zM138.57 116.09h2.47v2.47h-2.47zM139.76 119.06h2.47v2.47h-2.47zM140.86 118.53h2.47v2.47h-2.47zM141.87 121.41h2.47v2.47h-2.47zM142.82 121.49h2.47v2.47h-2.47zM143.7 123.48h2.47v2.47h-2.47zM144.53 121.11h2.47v2.47h-2.47zM145.31 127.23h2.47v2.47h-2.47zM146.05 126.1h2.47v2.47h-2.47zM146.75 125.48h2.47v2.47h-2.47zM147.42 129.13h2.47v2.47h-2.47zM148.06 130.57h2.47v2.47h-2.47zM148.66 128.76h2.47v2.47h-2.47zM149.25 134.01h2.47v2.47h-2.47zM149.81 134.46h2.47v2.47h-2.47zM150.34 134.77h2.47v2.47h-2.47zM150.86 133.76h2.47v2.47h-2.47zM151.36 134.14h2.47v2.47h-2.47zM151.84 135.94h2.47v2.47h-2.47zM152.3 134.07h2.47v2.47h-2.47zM152.75 137.51h2.47v2.47h-2.47zM153.18 137.98h2.47v2.47h-2.47zM153.6 139.01h2.47v2.47h-2.47zM154.01 137.92h2.47v2.47h-2.47zM154.41 139.95h2.47v2.47h-2.47zM154.79 141.04h2.47v2.47h-2.47zM155.17 139.28h2.47v2.47h-2.47zM155.53 140.32h2.47v2.47h-2.47zM155.89 141.22h2.47v2.47h-2.47zM156.24 144.37h2.47v2.47h-2.47zM156.57 144.69h2.47v2.47h-2.47zM156.9 144.28h2.47v2.47h-2.47zM157.22 144.83h2.47v2.47h-2.47zM157.54 145.53h2.47v2.47h-2.47zM157.85 145.8h2.47v2.47h-2.47zM158.15 145.29h2.47v2.47h-2.47zM158.44 147.67h2.47v2.47h-2.47zM158.73 146.7h2.47v2.47h-2.47zM159.01 147.89h2.47v2.47h-2.47zM159.29 148.44h2.47v2.47h-2.47zM159.56 148.66h2.47v2.47h-2.47zM159.82 147.93h2.47v2.47h-2.47zM160.09 148.87h2.47v2.47h-2.47zM160.34 150.51h2.47v2.47h-2.47zM160.59 149.64h2.47v2.47h-2.47zM160.84 150.27h2.47v2.47h-2.47zM161.08 150.34h2.47v2.47h-2.47zM161.32 151.5h2.47v2.47h-2.47zM161.55 150.44h2.47v2.47h-2.47zM161.78 151.52h2.47v2.47h-2.47zM162.01 153.63h2.47v2.47h-2.47zM162.23 154.15h2.47v2.47h-2.47zM162.45 154.65h2.47v2.47h-2.47zM162.67 152.94h2.47v2.47h-2.47zM162.88 154.53h2.47v2.47h-2.47zM163.09 154.49h2.47v2.47h-2.47zM163.29 154.5h2.47v2.47h-2.47zM163.49 153.36h2.47v2.47h-2.47zM163.69 152.6h2.47v2.47h-2.47zM163.89 155.53h2.47v2.47h-2.47zM164.09 153.46h2.47v2.47h-2.47zM164.28 155.41h2.47v2.47h-2.47zM164.47 154.98h2.47v2.47h-2.47zM164.65 156.97h2.47v2.47h-2.47zM164.83 158.37h2.47v2.47h-2.47zM165.02 156.71h2.47v2.47h-2.47zM165.19 156.08h2.47v2.47h-2.47zM165.37 159.62h2.47v2.47h-2.47zM165.55 158.2h2.47v2.47h-2.47zM165.72 158.17h2.47v2.47h-2.47zM165.89 158.02h2.47v2.47h-2.47zM166.06 160.21h2.47v2.47h-2.47zM166.22 159.89h2.47v2.47h-2.47zM166.39 158.47h2.47v2.47h-2.47zM166.55 157.74h2.47v2.47h-2.47zM166.71 159.94h2.47v2.47h-2.47zM166.87 159.21h2.47v2.47h-2.47zM167.02 160.38h2.47v2.47h-2.47zM167.18 160.34h2.47v2.47h-2.47zM167.33 161.53h2.47v2.47h-2.47zM167.48 161.6h2.47v2.47h-2.47zM167.63 162.24h2.47v2.47h-2.47zM167.78 161.72h2.47v2.47h-2.47zM167.92 160.82h2.47v2.47h-2.47zM168.07 162.1h2.47v2.47h-2.47zM168.21 161.81h2.47v2.47h-2.47zM168.35 163.52h2.47v2.47h-2.47zM168.49 162.21h2.47v2.47h-2.47zM168.63 166.85h2.47v2.47h-2.47zM168.77 165.11h2.47v2.47h-2.47zM168.91 164.1h2.47v2.47h-2.47zM169.04 166.01h2.47v2.47h-2.47zM169.17 163.52h2.47v2.47h-2.47zM169.31 164.14h2.47v2.47h-2.47zM169.44 165.64h2.47v2.47h-2.47zM169.57 164.71h2.47v2.47h-2.47zM169.7 166.75h2.47v2.47h-2.47zM169.82 166.27h2.47v2.47h-2.47zM169.95 165.89h2.47v2.47h-2.47zM170.07 167.49h2.47v2.47h-2.47zM170.2 164.67h2.47v2.47h-2.47zM170.32 166.82h2.47v2.47h-2.47zM170.44 165.11h2.47v2.47h-2.47zM170.56 166.64h2.47v2.47h-2.47zM170.68 166.32h2.47v2.47h-2.47zM170.8 167.91h2.47v2.47h-2.47zM170.92 167.41h2.47v2.47h-2.47zM171.03 167.74h2.47v2.47h-2.47zM171.15 167.18h2.47v2.47h-2.47zM171.26 166.08h2.47v2.47h-2.47zM171.38 168.47h2.47v2.47h-2.47zM171.49 168.2h2.47v2.47h-2.47zM171.6 167.79h2.47v2.47h-2.47zM171.71 167.41h2.47v2.47h-2.47zM171.82 168.7h2.47v2.47h-2.47zM171.93 169.19h2.47v2.47h-2.47zM172.04 169.6h2.47v2.47h-2.47zM172.15 169.1h2.47v2.47h-2.47zM172.25 169.01h2.47v2.47h-2.47zM172.36 170.24h2.47v2.47h-2.47zM172.46 169.99h2.47v2.47h-2.47zM172.57 168.95h2.47v2.47h-2.47zM172.67 170.01h2.47v2.47h-2.47zM172.77 170.81h2.47v2.47h-2.47zM172.88 169.52h2.47v2.47h-2.47zM172.98 169.68h2.47v2.47h-2.47zM173.08 169.97h2.47v2.47h-2.47zM173.18 170.07h2.47v2.47h-2.47zM173.28 171.44h2.47v2.47h-2.47zM173.37 170.92h2.47v2.47h-2.47zM173.47 170.96h2.47v2.47h-2.47zM173.57 171.34h2.47v2.47h-2.47zM173.66 173.63h2.47v2.47h-2.47zM173.76 171.82h2.47v2.47h-2.47zM173.85 171.56h2.47v2.47h-2.47zM173.95 171.55h2.47v2.47h-2.47zM174.04 172.61h2.47v2.47h-2.47zM174.13 172.39h2.47v2.47h-2.47zM174.23 174.63h2.47v2.47h-2.47zM174.32 174.43h2.47v2.47h-2.47zM174.41 176.25h2.47v2.47h-2.47zM174.5 173.3h2.47v2.47h-2.47zM174.59 171.34h2.47v2.47h-2.47zM174.68 171.35h2.47v2.47h-2.47zM174.77 174.76h2.47v2.47h-2.47zM174.85 172.89h2.47v2.47h-2.47zM174.94 172.35h2.47v2.47h-2.47zM175.03 174.27h2.47v2.47h-2.47zM175.11 176.3h2.47v2.47h-2.47zM175.2 172.6h2.47v2.47h-2.47zM175.29 174.76h2.47v2.47h-2.47zM175.37 174.94h2.47v2.47h-2.47zM175.45 172.69h2.47v2.47h-2.47zM175.54 174.24h2.47v2.47h-2.47zM175.62 173.96h2.47v2.47h-2.47zM175.7 173.23h2.47v2.47h-2.47zM175.79 175.35h2.47v2.47h-2.47zM175.87 176.43h2.47v2.47h-2.47zM175.95 174.56h2.47v2.47h-2.47zM176.03 175.58h2.47v2.47h-2.47zM176.11 174.87h2.47v2.47h-2.47zM176.19 175.39h2.47v2.47h-2.47zM176.27 176.84h2.47v2.47h-2.47zM176.35 176.07h2.47v2.47h-2.47zM176.43 176.61h2.47v2.47h-2.47zM176.5 176.63h2.47v2.47h-2.47zM176.58 176.53h2.47v2.47h-2.47zM176.66 176.22h2.47v2.47h-2.47zM176.74 176.51h2.47v2.47h-2.47zM176.81 178.31h2.47v2.47h-2.47zM176.89 176.28h2.47v2.47h-2.47zM176.96 178.75h2.47v2.47h-2.47zM177.04 174.73h2.47v2.47h-2.47zM177.11 178.23h2.47v2.47h-2.47zM177.19 177.56h2.47v2.47h-2.47zM177.26 176.1h2.47v2.47h-2.47zM177.33 177.96h2.47v2.47h-2.47zM177.41 179.3h2.47v2.47h-2.47zM177.48 179.6h2.47v2.47h-2.47zM177.55 177.78h2.47v2.47h-2.47zM177.62 177.75h2.47v2.47h-2.47zM177.69 177.4h2.47v2.47h-2.47zM177.77 178.15h2.47v2.47h-2.47zM177.84 179.13h2.47v2.47h-2.47zM177.91 178.16h2.47v2.47h-2.47zM177.98 177.18h2.47v2.47h-2.47zM178.05 179.84h2.47v2.47h-2.47zM178.12 174.99h2.47v2.47h-2.47zM178.18 179.64h2.47v2.47h-2.47zM178.25 177.86h2.47v2.47h-2.47zM178.32 177.25h2.47v2.47h-2.47zM178.39 178.47h2.47v2.47h-2.47zM178.46 179.28h2.47v2.47h-2.47zM178.52 178.91h2.47v2.47h-2.47zM178.59 178.33h2.47v2.47h-2.47zM178.66 182.95h2.47v2.47h-2.47zM178.72 179.55h2.47v2.47h-2.47zM178.79 180.64h2.47v2.47h-2.47zM178.86 181.08h2.47v2.47h-2.47zM178.92 180.27h2.47v2.47h-2.47zM178.99 180.31h2.47v2.47h-2.47zM179.05 180.06h2.47v2.47h-2.47zM179.11 181.4h2.47v2.47h-2.47zM179.18 179.57h2.47v2.47h-2.47zM179.24 183.33h2.47v2.47h-2.47zM179.31 182.17h2.47v2.47h-2.47zM179.37 182.56h2.47v2.47h-2.47zM179.43 181.17h2.47v2.47h-2.47zM179.49 181.96h2.47v2.47h-2.47zM179.56 180.9h2.47v2.47h-2.47zM179.62 182.5h2.47v2.47h-2.47zM179.68 180.26h2.47v2.47h-2.47zM179.74 180.98h2.47v2.47h-2.47zM179.8 182.51h2.47v2.47h-2.47zM179.86 183.95h2.47v2.47h-2.47zM179.92 183.49h2.47v2.47h-2.47zM179.99 184h2.47v2.47h-2.47zM180.05 180.93h2.47v2.47h-2.47zM180.11 181.58h2.47v2.47h-2.47zM180.16 183.98h2.47v2.47h-2.47zM180.22 180.5h2.47v2.47h-2.47zM180.28 183.08h2.47v2.47h-2.47zM180.34 185.4h2.47v2.47h-2.47zM180.4 181.7h2.47v2.47h-2.47zM180.46 181.56h2.47v2.47h-2.47zM180.52 183.13h2.47v2.47h-2.47zM180.58 184.25h2.47v2.47h-2.47zM180.63 181.93h2.47v2.47h-2.47zM180.69 184h2.47v2.47h-2.47zM180.75 183.54h2.47v2.47h-2.47zM180.8 183.08h2.47v2.47h-2.47zM180.86 183.37h2.47v2.47h-2.47zM180.92 184.33h2.47v2.47h-2.47zM180.97 185.08h2.47v2.47h-2.47zM181.03 183.14h2.47v2.47h-2.47zM181.08 186.6h2.47v2.47h-2.47zM181.14 183.81h2.47v2.47h-2.47zM181.2 183.97h2.47v2.47h-2.47zM181.25 183.77h2.47v2.47h-2.47zM181.31 184.88h2.47v2.47h-2.47zM181.36 184.3h2.47v2.47h-2.47zM181.41 183.74h2.47v2.47h-2.47zM181.47 185.92h2.47v2.47h-2.47zM181.52 184.76h2.47v2.47h-2.47zM181.58 184.48h2.47v2.47h-2.47zM181.63 186.43h2.47v2.47h-2.47z" stroke="#f0af19" stroke-width="0.85" fill="none"/>
<path d="M105.36 75.93a1.65 1.65 0 1 0 3.3 0a1.65 1.65 0 1 0 -3.3 0M114.84 83.33a1.65 1.65 0 1 0 3.3 0a1.65 1.65 0 1 0 -3.3 0M120.39 88.41a1.65 1.65 0 1 0 3.3 0a1.65 1.65 0 1 0 -3.3 0M124.32 94.82a1.65 1.65 0 1 0 3.3 0a1.65 1.65 0 1 0 -3.3 0M127.38 101.41a1.65 1.65 0 1 0 3.3 0a1.65 1.65 0 1 0 -3.3 0M129.87 103.52a1.65 1.65 0 1 0 3.3 0a1.65 1.65 0 1 0 -3.3 0M131.98 107.1a1.65 1.65 0 1 0 3.3 0a1.65 1.65 0 1 0 -3.3 0M133.81 108.78a1.65 1.65 0 1 0 3.3 0a1.65 1.65 0 1 0 -3.3 0M135.42 111.57a1.65 1.65 0 1 0 3.3 0a1.65 1.65 0 1 0 -3.3 0M136.86 117.86a1.65 1.65 0 1 0 3.3 0a1.65 1.65 0 1 0 -3.3 0M138.16 117.48a1.65 1.65 0 1 0 3.3 0a1.65 1.65 0 1 0 -3.3 0M139.35 117.44a1.65 1.65 0 1 0 3.3 0a1.65 1.65 0 1 0 -3.3 0M140.45 118.87a1.65 1.65 0 1 0 3.3 0a1.65 1.65 0 1 0 -3.3 0M141.46 123.03a1.65 1.65 0 1 0 3.3 0a1.65 1.65 0 1 0 -3.3 0M142.4 125.22a1.65 1.65 0 1 0 3.3 0a1.65 1.65 0 1 0 -3.3 0M143.29 124.93a1.65 1.65 0 1 0 3.3 0a1.65 1.65 0 1 0 -3.3 0M144.12 127.26a1.65 1.65 0 1 0 3.3 0a1.65 1.65 0 1 0 -3.3 0M144.9 127.8a1.65 1.65 0 1 0 3.3 0a1.65 1.65 0 1 0 -3.3 0M145.64 130.29a1.65 1.65 0 1 0 3.3 0a1.65 1.65 0 1 0 -3.3 0M146.34 129.21a1.65 1.65 0 1 0 3.3 0a1.65 1.65 0 1 0 -3.3 0M147.01 130.5a1.65 1.65 0 1 0 3.3 0a1.65 1.65 0 1 0 -3.3 0M147.64 131.64a1.65 1.65 0 1 0 3.3 0a1.65 1.65 0 1 0 -3.3 0M148.25 134.39a1.65 1.65 0 1 0 3.3 0a1.65 1.65 0 1 0 -3.3 0M148.83 135.99a1.65 1.65 0 1 0 3.3 0a1.65 1.65 0 1 0 -3.3 0M149.39 136.42a1.65 1.65 0 1 0 3.3 0a1.65 1.65 0 1 0 -3.3 0M149.93 135.28a1.65 1.65 0 1 0 3.3 0a1.65 1.65 0 1 0 -3.3 0M150.45 138.71a1.65 1.65 0 1 0 3.3 0a1.65 1.65 0 1 0 -3.3 0M150.94 136.73a1.65 1.65 0 1 0 3.3 0a1.65 1.65 0 1 0 -3.3 0M151.42 136.24a1.65 1.65 0 1 0 3.3 0a1.65 1.65 0 1 0 -3.3 0M151.89 139.71a1.65 1.65 0 1 0 3.3 0a1.65 1.65 0 1 0 -3.3 0M152.34 139.93a1.65 1.65 0 1 0 3.3 0a1.65 1.65 0 1 0 -3.3 0M152.77 139.31a1.65 1.65 0 1 0 3.3 0a1.65 1.65 0 1 0 -3.3 0M153.19 140.07a1.65 1.65 0 1 0 3.3 0a1.65 1.65 0 1 0 -3.3 0M153.6 142.47a1.65 1.65 0 1 0 3.3 0a1.65 1.65 0 1 0 -3.3 0M154 142.61a1.65 1.65 0 1 0 3.3 0a1.65 1.65 0 1 0 -3.3 0M154.38 142.9a1.65 1.65 0 1 0 3.3 0a1.65 1.65 0 1 0 -3.3 0M154.76 143.95a1.65 1.65 0 1 0 3.3 0a1.65 1.65 0 1 0 -3.3 0M155.12 143.58a1.65 1.65 0 1 0 3.3 0a1.65 1.65 0 1 0 -3.3 0M155.48 144.44a1.65 1.65 0 1 0 3.3 0a1.65 1.65 0 1 0 -3.3 0M155.82 143.9a1.65 1.65 0 1 0 3.3 0a1.65 1.65 0 1 0 -3.3 0M156.16 147.86a1.65 1.65 0 1 0 3.3 0a1.65 1.65 0 1 0 -3.3 0M156.49 145.12a1.65 1.65 0 1 0 3.3 0a1.65 1.65 0 1 0 -3.3 0M156.81 146.06a1.65 1.65 0 1 0 3.3 0a1.65 1.65 0 1 0 -3.3 0M157.13 147.65a1.65 1.65 0 1 0 3.3 0a1.65 1.65 0 1 0 -3.3 0M157.43 147.53a1.65 1.65 0 1 0 3.3 0a1.65 1.65 0 1 0 -3.3 0M157.73 147.39a1.65 1.65 0 1 0 3.3 0a1.65 1.65 0 1 0 -3.3 0M158.03 148.63a1.65 1.65 0 1 0 3.3 0a1.65 1.65 0 1 0 -3.3 0M158.32 149.73a1.65 1.65 0 1 0 3.3 0a1.65 1.65 0 1 0 -3.3 0M158.6 149.59a1.65 1.65 0 1 0 3.3 0a1.65 1.65 0 1 0 -3.3 0M158.88 151.15a1.65 1.65 0 1 0 3.3 0a1.65 1.65 0 1 0 -3.3 0M159.15 152.29a1.65 1.65 0 1 0 3.3 0a1.65 1.65 0 1 0 -3.3 0M159.41 152.23a1.65 1.65 0 1 0 3.3 0a1.65 1.65 0 1 0 -3.3 0M159.67 152.54a1.65 1.65 0 1 0 3.3 0a1.65 1.65 0 1 0 -3.3 0M159.93 151.87a1.65 1.65 0 1 0 3.3 0a1.65 1.65 0 1 0 -3.3 0M160.18 151.59a1.65 1.65 0 1 0 3.3 0a1.65 1.65 0 1 0 -3.3 0M160.43 152.62a1.65 1.65 0 1 0 3.3 0a1.65 1.65 0 1 0 -3.3 0M160.67 151.64a1.65 1.65 0 1 0 3.3 0a1.65 1.65 0 1 0 -3.3 0M160.91 153.78a1.65 1.65 0 1 0 3.3 0a1.65 1.65 0 1 0 -3.3 0M161.14 154.8a1.65 1.65 0 1 0 3.3 0a1.65 1.65 0 1 0 -3.3 0M161.37 155.27a1.65 1.65 0 1 0 3.3 0a1.65 1.65 0 1 0 -3.3 0M161.6 155.84a1.65 1.65 0 1 0 3.3 0a1.65 1.65 0 1 0 -3.3 0M161.82 155.52a1.65 1.65 0 1 0 3.3 0a1.65 1.65 0 1 0 -3.3 0M162.04 153.98a1.65 1.65 0 1 0 3.3 0a1.65 1.65 0 1 0 -3.3 0M162.25 157.56a1.65 1.65 0 1 0 3.3 0a1.65 1.65 0 1 0 -3.3 0M162.46 155.61a1.65 1.65 0 1 0 3.3 0a1.65 1.65 0 1 0 -3.3 0M162.67 156.59a1.65 1.65 0 1 0 3.3 0a1.65 1.65 0 1 0 -3.3 0M162.88 155.97a1.65 1.65 0 1 0 3.3 0a1.65 1.65 0 1 0 -3.3 0M163.08 157.78a1.65 1.65 0 1 0 3.3 0a1.65 1.65 0 1 0 -3.3 0M163.28 156.75a1.65 1.65 0 1 0 3.3 0a1.65 1.65 0 1 0 -3.3 0M163.48 158.46a1.65 1.65 0 1 0 3.3 0a1.65 1.65 0 1 0 -3.3 0M163.67 157.49a1.65 1.65 0 1 0 3.3 0a1.65 1.65 0 1 0 -3.3 0M163.86 160.74a1.65 1.65 0 1 0 3.3 0a1.65 1.65 0 1 0 -3.3 0M164.05 158.27a1.65 1.65 0 1 0 3.3 0a1.65 1.65 0 1 0 -3.3 0M164.24 158.29a1.65 1.65 0 1 0 3.3 0a1.65 1.65 0 1 0 -3.3 0M164.42 161.24a1.65 1.65 0 1 0 3.3 0a1.65 1.65 0 1 0 -3.3 0M164.6 158.77a1.65 1.65 0 1 0 3.3 0a1.65 1.65 0 1 0 -3.3 0M164.78 161.31a1.65 1.65 0 1 0 3.3 0a1.65 1.65 0 1 0 -3.3 0M164.96 159.2a1.65 1.65 0 1 0 3.3 0a1.65 1.65 0 1 0 -3.3 0M165.13 160.6a1.65 1.65 0 1 0 3.3 0a1.65 1.65 0 1 0 -3.3 0M165.31 160.1a1.65 1.65 0 1 0 3.3 0a1.65 1.65 0 1 0 -3.3 0M165.48 160.74a1.65 1.65 0 1 0 3.3 0a1.65 1.65 0 1 0 -3.3 0M165.64 162.79a1.65 1.65 0 1 0 3.3 0a1.65 1.65 0 1 0 -3.3 0M165.81 159.95a1.65 1.65 0 1 0 3.3 0a1.65 1.65 0 1 0 -3.3 0M165.97 160.6a1.65 1.65 0 1 0 3.3 0a1.65 1.65 0 1 0 -3.3 0M166.13 163.4a1.65 1.65 0 1 0 3.3 0a1.65 1.65 0 1 0 -3.3 0M166.29 161.86a1.65 1.65 0 1 0 3.3 0a1.65 1.65 0 1 0 -3.3 0M166.45 162.24a1.65 1.65 0 1 0 3.3 0a1.65 1.65 0 1 0 -3.3 0M166.61 163.79a1.65 1.65 0 1 0 3.3 0a1.65 1.65 0 1 0 -3.3 0M166.76 164.45a1.65 1.65 0 1 0 3.3 0a1.65 1.65 0 1 0 -3.3 0M166.92 162.07a1.65 1.65 0 1 0 3.3 0a1.65 1.65 0 1 0 -3.3 0M167.07 164.22a1.65 1.65 0 1 0 3.3 0a1.65 1.65 0 1 0 -3.3 0M167.22 162.99a1.65 1.65 0 1 0 3.3 0a1.65 1.65 0 1 0 -3.3 0M167.37 162.11a1.65 1.65 0 1 0 3.3 0a1.65 1.65 0 1 0 -3.3 0M167.51 163.95a1.65 1.65 0 1 0 3.3 0a1.65 1.65 0 1 0 -3.3 0M167.66 165.74a1.65 1.65 0 1 0 3.3 0a1.65 1.65 0 1 0 -3.3 0M167.8 163.86a1.65 1.65 0 1 0 3.3 0a1.65 1.65 0 1 0 -3.3 0M167.94 166.77a1.65 1.65 0 1 0 3.3 0a1.65 1.65 0 1 0 -3.3 0M168.08 166.47a1.65 1.65 0 1 0 3.3 0a1.65 1.65 0 1 0 -3.3 0M168.22 162.35a1.65 1.65 0 1 0 3.3 0a1.65 1.65 0 1 0 -3.3 0M168.36 166.8a1.65 1.65 0 1 0 3.3 0a1.65 1.65 0 1 0 -3.3 0M168.49 165.73a1.65 1.65 0 1 0 3.3 0a1.65 1.65 0 1 0 -3.3 0M168.63 167.55a1.65 1.65 0 1 0 3.3 0a1.65 1.65 0 1 0 -3.3 0M168.76 166.71a1.65 1.65 0 1 0 3.3 0a1.65 1.65 0 1 0 -3.3 0M168.89 166.56a1.65 1.65 0 1 0 3.3 0a1.65 1.65 0 1 0 -3.3 0M169.03 170.01a1.65 1.65 0 1 0 3.3 0a1.65 1.65 0 1 0 -3.3 0M169.16 167.97a1.65 1.65 0 1 0 3.3 0a1.65 1.65 0 1 0 -3.3 0M169.28 166.69a1.65 1.65 0 1 0 3.3 0a1.65 1.65 0 1 0 -3.3 0M169.41 166.66a1.65 1.65 0 1 0 3.3 0a1.65 1.65 0 1 0 -3.3 0M169.54 167.48a1.65 1.65 0 1 0 3.3 0a1.65 1.65 0 1 0 -3.3 0M169.66 169.14a1.65 1.65 0 1 0 3.3 0a1.65 1.65 0 1 0 -3.3 0M169.79 167.82a1.65 1.65 0 1 0 3.3 0a1.65 1.65 0 1 0 -3.3 0M169.91 169.03a1.65 1.65 0 1 0 3.3 0a1.65 1.65 0 1 0 -3.3 0M170.03 169.55a1.65 1.65 0 1 0 3.3 0a1.65 1.65 0 1 0 -3.3 0M170.15 168.88a1.65 1.65 0 1 0 3.3 0a1.65 1.65 0 1 0 -3.3 0M170.27 166.5a1.65 1.65 0 1 0 3.3 0a1.65 1.65 0 1 0 -3.3 0M170.39 170.3a1.65 1.65 0 1 0 3.3 0a1.65 1.65 0 1 0 -3.3 0M170.51 168.29a1.65 1.65 0 1 0 3.3 0a1.65 1.65 0 1 0 -3.3 0M170.62 169.38a1.65 1.65 0 1 0 3.3 0a1.65 1.65 0 1 0 -3.3 0M170.74 171.54a1.65 1.65 0 1 0 3.3 0a1.65 1.65 0 1 0 -3.3 0M170.85 171.08a1.65 1.65 0 1 0 3.3 0a1.65 1.65 0 1 0 -3.3 0M170.97 170.43a1.65 1.65 0 1 0 3.3 0a1.65 1.65 0 1 0 -3.3 0M171.08 170.96a1.65 1.65 0 1 0 3.3 0a1.65 1.65 0 1 0 -3.3 0M171.19 170.32a1.65 1.65 0 1 0 3.3 0a1.65 1.65 0 1 0 -3.3 0M171.3 171.92a1.65 1.65 0 1 0 3.3 0a1.65 1.65 0 1 0 -3.3 0M171.41 172.13a1.65 1.65 0 1 0 3.3 0a1.65 1.65 0 1 0 -3.3 0M171.52 170.02a1.65 1.65 0 1 0 3.3 0a1.65 1.65 0 1 0 -3.3 0M171.63 171.38a1.65 1.65 0 1 0 3.3 0a1.65 1.65 0 1 0 -3.3 0M171.74 172.49a1.65 1.65 0 1 0 3.3 0a1.65 1.65 0 1 0 -3.3 0M171.84 171.7a1.65 1.65 0 1 0 3.3 0a1.65 1.65 0 1 0 -3.3 0M171.95 169.8a1.65 1.65 0 1 0 3.3 0a1.65 1.65 0 1 0 -3.3 0M172.05 172.71a1.65 1.65 0 1 0 3.3 0a1.65 1.65 0 1 0 -3.3 0M172.16 173.91a1.65 1.65 0 1 0 3.3 0a1.65 1.65 0 1 0 -3.3 0M172.26 171.34a1.65 1.65 0 1 0 3.3 0a1.65 1.65 0 1 0 -3.3 0M172.36 170.34a1.65 1.65 0 1 0 3.3 0a1.65 1.65 0 1 0 -3.3 0M172.46 171.31a1.65 1.65 0 1 0 3.3 0a1.65 1.65 0 1 0 -3.3 0M172.56 174.4a1.65 1.65 0 1 0 3.3 0a1.65 1.65 0 1 0 -3.3 0M172.66 175.41a1.65 1.65 0 1 0 3.3 0a1.65 1.65 0 1 0 -3.3 0M172.76 171.82a1.65 1.65 0 1 0 3.3 0a1.65 1.65 0 1 0 -3.3 0M172.86 173.62a1.65 1.65 0 1 0 3.3 0a1.65 1.65 0 1 0 -3.3 0M172.96 173.01a1.65 1.65 0 1 0 3.3 0a1.65 1.65 0 1 0 -3.3 0M173.06 173.96a1.65 1.65 0 1 0 3.3 0a1.65 1.65 0 1 0 -3.3 0M173.16 172a1.65 1.65 0 1 0 3.3 0a1.65 1.65 0 1 0 -3.3 0M173.25 173.99a1.65 1.65 0 1 0 3.3 0a1.65 1.65 0 1 0 -3.3 0M173.35 174.59a1.65 1.65 0 1 0 3.3 0a1.65 1.65 0 1 0 -3.3 0M173.44 174.23a1.65 1.65 0 1 0 3.3 0a1.65 1.65 0 1 0 -3.3 0M173.54 175.91a1.65 1.65 0 1 0 3.3 0a1.65 1.65 0 1 0 -3.3 0M173.63 174.52a1.65 1.65 0 1 0 3.3 0a1.65 1.65 0 1 0 -3.3 0M173.72 174.97a1.65 1.65 0 1 0 3.3 0a1.65 1.65 0 1 0 -3.3 0M173.81 177.42a1.65 1.65 0 1 0 3.3 0a1.65 1.65 0 1 0 -3.3 0M173.9 176.47a1.65 1.65 0 1 0 3.3 0a1.65 1.65 0 1 0 -3.3 0M174 176.75a1.65 1.65 0 1 0 3.3 0a1.65 1.65 0 1 0 -3.3 0M174.09 177.26a1.65 1.65 0 1 0 3.3 0a1.65 1.65 0 1 0 -3.3 0M174.18 175.23a1.65 1.65 0 1 0 3.3 0a1.65 1.65 0 1 0 -3.3 0M174.26 174.51a1.65 1.65 0 1 0 3.3 0a1.65 1.65 0 1 0 -3.3 0M174.35 175.57a1.65 1.65 0 1 0 3.3 0a1.65 1.65 0 1 0 -3.3 0M174.44 177.77a1.65 1.65 0 1 0 3.3 0a1.65 1.65 0 1 0 -3.3 0M174.53 178.25a1.65 1.65 0 1 0 3.3 0a1.65 1.65 0 1 0 -3.3 0M174.62 175.5a1.65 1.65 0 1 0 3.3 0a1.65 1.65 0 1 0 -3.3 0M174.7 176.88a1.65 1.65 0 1 0 3.3 0a1.65 1.65 0 1 0 -3.3 0M174.79 176.79a1.65 1.65 0 1 0 3.3 0a1.65 1.65 0 1 0 -3.3 0M174.87 178.29a1.65 1.65 0 1 0 3.3 0a1.65 1.65 0 1 0 -3.3 0M174.96 179.26a1.65 1.65 0 1 0 3.3 0a1.65 1.65 0 1 0 -3.3 0M175.04 174.59a1.65 1.65 0 1 0 3.3 0a1.65 1.65 0 1 0 -3.3 0M175.13 177.93a1.65 1.65 0 1 0 3.3 0a1.65 1.65 0 1 0 -3.3 0M175.21 177.61a1.65 1.65 0 1 0 3.3 0a1.65 1.65 0 1 0 -3.3 0M175.29 178.82a1.65 1.65 0 1 0 3.3 0a1.65 1.65 0 1 0 -3.3 0M175.37 175.93a1.65 1.65 0 1 0 3.3 0a1.65 1.65 0 1 0 -3.3 0M175.46 178.21a1.65 1.65 0 1 0 3.3 0a1.65 1.65 0 1 0 -3.3 0M175.54 178.13a1.65 1.65 0 1 0 3.3 0a1.65 1.65 0 1 0 -3.3 0M175.62 178.03a1.65 1.65 0 1 0 3.3 0a1.65 1.65 0 1 0 -3.3 0M175.7 178.23a1.65 1.65 0 1 0 3.3 0a1.65 1.65 0 1 0 -3.3 0M175.78 176.75a1.65 1.65 0 1 0 3.3 0a1.65 1.65 0 1 0 -3.3 0M175.86 180.55a1.65 1.65 0 1 0 3.3 0a1.65 1.65 0 1 0 -3.3 0M175.94 177.91a1.65 1.65 0 1 0 3.3 0a1.65 1.65 0 1 0 -3.3 0M176.01 179.45a1.65 1.65 0 1 0 3.3 0a1.65 1.65 0 1 0 -3.3 0M176.09 179.35a1.65 1.65 0 1 0 3.3 0a1.65 1.65 0 1 0 -3.3 0M176.17 179.71a1.65 1.65 0 1 0 3.3 0a1.65 1.65 0 1 0 -3.3 0M176.25 178.66a1.65 1.65 0 1 0 3.3 0a1.65 1.65 0 1 0 -3.3 0M176.32 180.73a1.65 1.65 0 1 0 3.3 0a1.65 1.65 0 1 0 -3.3 0M176.4 180.01a1.65 1.65 0 1 0 3.3 0a1.65 1.65 0 1 0 -3.3 0M176.47 178.89a1.65 1.65 0 1 0 3.3 0a1.65 1.65 0 1 0 -3.3 0M176.55 180.31a1.65 1.65 0 1 0 3.3 0a1.65 1.65 0 1 0 -3.3 0M176.63 180.32a1.65 1.65 0 1 0 3.3 0a1.65 1.65 0 1 0 -3.3 0M176.7 179.48a1.65 1.65 0 1 0 3.3 0a1.65 1.65 0 1 0 -3.3 0M176.77 179.93a1.65 1.65 0 1 0 3.3 0a1.65 1.65 0 1 0 -3.3 0M176.85 180.54a1.65 1.65 0 1 0 3.3 0a1.65 1.65 0 1 0 -3.3 0M176.92 180.22a1.65 1.65 0 1 0 3.3 0a1.65 1.65 0 1 0 -3.3 0M176.99 181.41a1.65 1.65 0 1 0 3.3 0a1.65 1.65 0 1 0 -3.3 0M177.07 179.56a1.65 1.65 0 1 0 3.3 0a1.65 1.65 0 1 0 -3.3 0M177.14 181.89a1.65 1.65 0 1 0 3.3 0a1.65 1.65 0 1 0 -3.3 0M177.21 182.59a1.65 1.65 0 1 0 3.3 0a1.65 1.65 0 1 0 -3.3 0M177.28 180.41a1.65 1.65 0 1 0 3.3 0a1.65 1.65 0 1 0 -3.3 0M177.35 182.5a1.65 1.65 0 1 0 3.3 0a1.65 1.65 0 1 0 -3.3 0M177.42 182.21a1.65 1.65 0 1 0 3.3 0a1.65 1.65 0 1 0 -3.3 0M177.49 181.5a1.65 1.65 0 1 0 3.3 0a1.65 1.65 0 1 0 -3.3 0M177.56 180.57a1.65 1.65 0 1 0 3.3 0a1.65 1.65 0 1 0 -3.3 0M177.63 182.03a1.65 1.65 0 1 0 3.3 0a1.65 1.65 0 1 0 -3.3 0M177.7 182.11a1.65 1.65 0 1 0 3.3 0a1.65 1.65 0 1 0 -3.3 0M177.77 182.21a1.65 1.65 0 1 0 3.3 0a1.65 1.65 0 1 0 -3.3 0M177.84 181.41a1.65 1.65 0 1 0 3.3 0a1.65 1.65 0 1 0 -3.3 0M177.91 182.53a1.65 1.65 0 1 0 3.3 0a1.65 1.65 0 1 0 -3.3 0M177.98 181.8a1.65 1.65 0 1 0 3.3 0a1.65 1.65 0 1 0 -3.3 0M178.04 180.65a1.65 1.65 0 1 0 3.3 0a1.65 1.65 0 1 0 -3.3 0M178.11 182.55a1.65 1.65 0 1 0 3.3 0a1.65 1.65 0 1 0 -3.3 0M178.18 182.83a1.65 1.65 0 1 0 3.3 0a1.65 1.65 0 1 0 -3.3 0M178.24 183.58a1.65 1.65 0 1 0 3.3 0a1.65 1.65 0 1 0 -3.3 0M178.31 183.5a1.65 1.65 0 1 0 3.3 0a1.65 1.65 0 1 0 -3.3 0M178.38 184.16a1.65 1.65 0 1 0 3.3 0a1.65 1.65 0 1 0 -3.3 0M178.44 184.11a1.65 1.65 0 1 0 3.3 0a1.65 1.65 0 1 0 -3.3 0M178.51 183.63a1.65 1.65 0 1 0 3.3 0a1.65 1.65 0 1 0 -3.3 0M178.57 182.7a1.65 1.65 0 1 0 3.3 0a1.65 1.65 0 1 0 -3.3 0M178.64 182.64a1.65 1.65 0 1 0 3.3 0a1.65 1.65 0 1 0 -3.3 0M178.7 183.79a1.65 1.65 0 1 0 3.3 0a1.65 1.65 0 1 0 -3.3 0M178.77 183.04a1.65 1.65 0 1 0 3.3 0a1.65 1.65 0 1 0 -3.3 0M178.83 184.99a1.65 1.65 0 1 0 3.3 0a1.65 1.65 0 1 0 -3.3 0M178.89 181.28a1.65 1.65 0 1 0 3.3 0a1.65 1.65 0 1 0 -3.3 0M178.96 180.93a1.65 1.65 0 1 0 3.3 0a1.65 1.65 0 1 0 -3.3 0M179.02 183.97a1.65 1.65 0 1 0 3.3 0a1.65 1.65 0 1 0 -3.3 0M179.08 183.37a1.65 1.65 0 1 0 3.3 0a1.65 1.65 0 1 0 -3.3 0M179.14 183.93a1.65 1.65 0 1 0 3.3 0a1.65 1.65 0 1 0 -3.3 0M179.21 183.27a1.65 1.65 0 1 0 3.3 0a1.65 1.65 0 1 0 -3.3 0M179.27 184.96a1.65 1.65 0 1 0 3.3 0a1.65 1.65 0 1 0 -3.3 0M179.33 186.07a1.65 1.65 0 1 0 3.3 0a1.65 1.65 0 1 0 -3.3 0M179.39 183.54a1.65 1.65 0 1 0 3.3 0a1.65 1.65 0 1 0 -3.3 0M179.45 185.79a1.65 1.65 0 1 0 3.3 0a1.65 1.65 0 1 0 -3.3 0M179.51 184.26a1.65 1.65 0 1 0 3.3 0a1.65 1.65 0 1 0 -3.3 0M179.57 185.8a1.65 1.65 0 1 0 3.3 0a1.65 1.65 0 1 0 -3.3 0M179.63 185.73a1.65 1.65 0 1 0 3.3 0a1.65 1.65 0 1 0 -3.3 0M179.69 183.85a1.65 1.65 0 1 0 3.3 0a1.65 1.65 0 1 0 -3.3 0M179.75 183.24a1.65 1.65 0 1 0 3.3 0a1.65 1.65 0 1 0 -3.3 0M179.81 185.33a1.65 1.65 0 1 0 3.3 0a1.65 1.65 0 1 0 -3.3 0M179.87 185.74a1.65 1.65 0 1 0 3.3 0a1.65 1.65 0 1 0 -3.3 0M179.93 185.02a1.65 1.65 0 1 0 3.3 0a1.65 1.65 0 1 0 -3.3 0M179.99 186.07a1.65 1.65 0 1 0 3.3 0a1.65 1.65 0 1 0 -3.3 0M180.05 187.51a1.65 1.65 0 1 0 3.3 0a1.65 1.65 0 1 0 -3.3 0M180.1 185.67a1.65 1.65 0 1 0 3.3 0a1.65 1.65 0 1 0 -3.3 0M180.16 188.28a1.65 1.65 0 1 0 3.3 0a1.65 1.65 0 1 0 -3.3 0M180.22 185.36a1.65 1.65 0 1 0 3.3 0a1.65 1.65 0 1 0 -3.3 0M180.28 186.51a1.65 1.65 0 1 0 3.3 0a1.65 1.65 0 1 0 -3.3 0M180.33 185.82a1.65 1.65 0 1 0 3.3 0a1.65 1.65 0 1 0 -3.3 0M180.39 187.8a1.65 1.65 0 1 0 3.3 0a1.65 1.65 0 1 0 -3.3 0M180.45 187.07a1.65 1.65 0 1 0 3.3 0a1.65 1.65 0 1 0 -3.3 0M180.5 185.68a1.65 1.65 0 1 0 3.3 0a1.65 1.65 0 1 0 -3.3 0M180.56 184.87a1.65 1.65 0 1 0 3.3 0a1.65 1.65 0 1 0 -3.3 0M180.62 185.56a1.65 1.65 0 1 0 3.3 0a1.65 1.65 0 1 0 -3.3 0M180.67 186.17a1.65 1.65 0 1 0 3.3 0a1.65 1.65 0 1 0 -3.3 0M180.73 187.96a1.65 1.65 0 1 0 3.3 0a1.65 1.65 0 1 0 -3.3 0M180.78 186.14a1.65 1.65 0 1 0 3.3 0a1.65 1.65 0 1 0 -3.3 0M180.84 186.73a1.65 1.65 0 1 0 3.3 0a1.65 1.65 0 1 0 -3.3 0M180.89 187.33a1.65 1.65 0 1 0 3.3 0a1.65 1.65 0 1 0 -3.3 0M180.95 185.59a1.65 1.65 0 1 0 3.3 0a1.65 1.65 0 1 0 -3.3 0M181 188.03a1.65 1.65 0 1 0 3.3 0a1.65 1.65 0 1 0 -3.3 0M181.06 185.26a1.65 1.65 0 1 0 3.3 0a1.65 1.65 0 1 0 -3.3 0M181.11 188.07a1.65 1.65 0 1 0 3.3 0a1.65 1.65 0 1 0 -3.3 0M181.16 188.19a1.65 1.65 0 1 0 3.3 0a1.65 1.65 0 1 0 -3.3 0M181.22 187.63a1.65 1.65 0 1 0 3.3 0a1.65 1.65 0 1 0 -3.3 0" stroke="#f0af19" stroke-width="0.85" fill="none"/>
<path d="M107.01 72.82l1.9 3.3h-3.79zM116.49 85.51l1.9 3.3h-3.79zM122.04 91.75l1.9 3.3h-3.79zM125.97 96.39l1.9 3.3h-3.79zM129.03 102.55l1.9 3.3h-3.79zM131.52 105.01l1.9 3.3h-3.79zM133.63 108.58l1.9 3.3h-3.79zM135.46 110.06l1.9 3.3h-3.79zM137.07 110.55l1.9 3.3h-3.79zM138.51 114.38l1.9 3.3h-3.79zM139.81 115.96l1.9 3.3h-3.79zM141 117.19l1.9 3.3h-3.79zM142.1 120.28l1.9 3.3h-3.79zM143.11 120.23l1.9 3.3h-3.79zM144.05 122.44l1.9 3.3h-3.79zM144.94 123.86l1.9 3.3h-3.79zM145.77 126.27l1.9 3.3h-3.79zM146.55 126.19l1.9 3.3h-3.79zM147.29 125.38l1.9 3.3h-3.79zM147.99 126.21l1.9 3.3h-3.79zM148.66 128.89l1.9 3.3h-3.79zM149.29 129.4l1.9 3.3h-3.79zM149.9 130.85l1.9 3.3h-3.79zM150.48 132.48l1.9 3.3h-3.79zM151.04 134.09l1.9 3.3h-3.79zM151.58 130.91l1.9 3.3h-3.79zM152.1 134.72l1.9 3.3h-3.79zM152.59 134.1l1.9 3.3h-3.79zM153.07 133.29l1.9 3.3h-3.79zM153.54 136.16l1.9 3.3h-3.79zM153.99 136.58l1.9 3.3h-3.79zM154.42 136.73l1.9 3.3h-3.79zM154.84 138.05l1.9 3.3h-3.79zM155.25 137.97l1.9 3.3h-3.79zM155.65 139.22l1.9 3.3h-3.79zM156.03 138.13l1.9 3.3h-3.79zM156.41 139.41l1.9 3.3h-3.79zM156.77 141.85l1.9 3.3h-3.79zM157.13 142.54l1.9 3.3h-3.79zM157.47 142.27l1.9 3.3h-3.79zM157.81 142.74l1.9 3.3h-3.79zM158.14 143.38l1.9 3.3h-3.79zM158.46 141.97l1.9 3.3h-3.79zM158.78 144.3l1.9 3.3h-3.79zM159.08 144.46l1.9 3.3h-3.79zM159.38 144.23l1.9 3.3h-3.79zM159.68 147.08l1.9 3.3h-3.79zM159.97 144.77l1.9 3.3h-3.79zM160.25 145.03l1.9 3.3h-3.79zM160.53 144.51l1.9 3.3h-3.79zM160.8 147.61l1.9 3.3h-3.79zM161.06 147.42l1.9 3.3h-3.79zM161.32 147.05l1.9 3.3h-3.79zM161.58 148.09l1.9 3.3h-3.79zM161.83 149.69l1.9 3.3h-3.79zM162.08 147.39l1.9 3.3h-3.79zM162.32 149.1l1.9 3.3h-3.79zM162.56 148.74l1.9 3.3h-3.79zM162.79 150.7l1.9 3.3h-3.79zM163.02 148.75l1.9 3.3h-3.79zM163.25 150.57l1.9 3.3h-3.79zM163.47 151.32l1.9 3.3h-3.79zM163.69 149.94l1.9 3.3h-3.79zM163.9 149.91l1.9 3.3h-3.79zM164.11 152.53l1.9 3.3h-3.79zM164.32 150.67l1.9 3.3h-3.79zM164.53 150.27l1.9 3.3h-3.79zM164.73 152.11l1.9 3.3h-3.79zM164.93 154.3l1.9 3.3h-3.79zM165.13 152.36l1.9 3.3h-3.79zM165.32 152.09l1.9 3.3h-3.79zM165.51 154.74l1.9 3.3h-3.79zM165.7 151.98l1.9 3.3h-3.79zM165.89 154.37l1.9 3.3h-3.79zM166.07 154.56l1.9 3.3h-3.79zM166.25 153.46l1.9 3.3h-3.79zM166.43 154.74l1.9 3.3h-3.79zM166.61 153.83l1.9 3.3h-3.79zM166.78 155.52l1.9 3.3h-3.79zM166.96 155.32l1.9 3.3h-3.79zM167.13 156l1.9 3.3h-3.79zM167.29 156.01l1.9 3.3h-3.79zM167.46 155.87l1.9 3.3h-3.79zM167.62 156.23l1.9 3.3h-3.79zM167.78 157.36l1.9 3.3h-3.79zM167.94 156.2l1.9 3.3h-3.79zM168.1 157.6l1.9 3.3h-3.79zM168.26 156.38l1.9 3.3h-3.79zM168.41 157.28l1.9 3.3h-3.79zM168.57 158.31l1.9 3.3h-3.79zM168.72 159.26l1.9 3.3h-3.79zM168.87 158.62l1.9 3.3h-3.79zM169.02 157.32l1.9 3.3h-3.79zM169.16 158.89l1.9 3.3h-3.79zM169.31 158.23l1.9 3.3h-3.79zM169.45 159.64l1.9 3.3h-3.79zM169.59 160.12l1.9 3.3h-3.79zM169.73 160.77l1.9 3.3h-3.79zM169.87 162.39l1.9 3.3h-3.79zM170.01 160.04l1.9 3.3h-3.79zM170.14 160.56l1.9 3.3h-3.79zM170.28 160.87l1.9 3.3h-3.79zM170.41 160.13l1.9 3.3h-3.79zM170.54 162.33l1.9 3.3h-3.79zM170.68 159.5l1.9 3.3h-3.79zM170.81 163.27l1.9 3.3h-3.79zM170.93 161.53l1.9 3.3h-3.79zM171.06 163.35l1.9 3.3h-3.79zM171.19 162.51l1.9 3.3h-3.79zM171.31 161.08l1.9 3.3h-3.79zM171.44 164.27l1.9 3.3h-3.79zM171.56 162.57l1.9 3.3h-3.79zM171.68 162.83l1.9 3.3h-3.79zM171.8 162.94l1.9 3.3h-3.79zM171.92 163.03l1.9 3.3h-3.79zM172.04 162.59l1.9 3.3h-3.79zM172.16 163.12l1.9 3.3h-3.79zM172.27 163.43l1.9 3.3h-3.79zM172.39 163.03l1.9 3.3h-3.79zM172.5 163.46l1.9 3.3h-3.79zM172.62 164.53l1.9 3.3h-3.79zM172.73 165.95l1.9 3.3h-3.79zM172.84 163.83l1.9 3.3h-3.79zM172.95 165.29l1.9 3.3h-3.79zM173.06 163.2l1.9 3.3h-3.79zM173.17 165.87l1.9 3.3h-3.79zM173.28 166.76l1.9 3.3h-3.79zM173.39 164.28l1.9 3.3h-3.79zM173.49 166.57l1.9 3.3h-3.79zM173.6 167.58l1.9 3.3h-3.79zM173.7 164.72l1.9 3.3h-3.79zM173.81 167.85l1.9 3.3h-3.79zM173.91 164.88l1.9 3.3h-3.79zM174.01 167.6l1.9 3.3h-3.79zM174.11 166.22l1.9 3.3h-3.79zM174.21 166.58l1.9 3.3h-3.79zM174.31 169.04l1.9 3.3h-3.79zM174.41 167.16l1.9 3.3h-3.79zM174.51 167.77l1.9 3.3h-3.79zM174.61 167.3l1.9 3.3h-3.79zM174.71 166.99l1.9 3.3h-3.79zM174.81 165.95l1.9 3.3h-3.79zM174.9 168.16l1.9 3.3h-3.79zM175 168.15l1.9 3.3h-3.79zM175.09 165.74l1.9 3.3h-3.79zM175.19 167.5l1.9 3.3h-3.79zM175.28 167.6l1.9 3.3h-3.79zM175.37 170.34l1.9 3.3h-3.79zM175.46 170.33l1.9 3.3h-3.79zM175.55 169.51l1.9 3.3h-3.79zM175.65 169.24l1.9 3.3h-3.79zM175.74 168.61l1.9 3.3h-3.79zM175.83 166.21l1.9 3.3h-3.79zM175.91 170.86l1.9 3.3h-3.79zM176 170.04l1.9 3.3h-3.79zM176.09 169l1.9 3.3h-3.79zM176.18 169.54l1.9 3.3h-3.79zM176.27 168.71l1.9 3.3h-3.79zM176.35 170.44l1.9 3.3h-3.79zM176.44 171.26l1.9 3.3h-3.79zM176.52 168.01l1.9 3.3h-3.79zM176.61 170.01l1.9 3.3h-3.79zM176.69 171.99l1.9 3.3h-3.79zM176.78 171.15l1.9 3.3h-3.79zM176.86 170.96l1.9 3.3h-3.79zM176.94 172.71l1.9 3.3h-3.79zM177.02 170.27l1.9 3.3h-3.79zM177.11 171.11l1.9 3.3h-3.79zM177.19 171.82l1.9 3.3h-3.79zM177.27 172.27l1.9 3.3h-3.79zM177.35 169.79l1.9 3.3h-3.79zM177.43 171.87l1.9 3.3h-3.79zM177.51 172.78l1.9 3.3h-3.79zM177.59 174.34l1.9 3.3h-3.79zM177.66 173.35l1.9 3.3h-3.79zM177.74 171.48l1.9 3.3h-3.79zM177.82 170.7l1.9 3.3h-3.79zM177.9 173.83l1.9 3.3h-3.79zM177.97 174.94l1.9 3.3h-3.79zM178.05 172.71l1.9 3.3h-3.79zM178.12 172.92l1.9 3.3h-3.79zM178.2 172l1.9 3.3h-3.79zM178.28 173.9l1.9 3.3h-3.79zM178.35 173.09l1.9 3.3h-3.79zM178.42 175.43l1.9 3.3h-3.79zM178.5 174.84l1.9 3.3h-3.79zM178.57 174.17l1.9 3.3h-3.79zM178.64 174.17l1.9 3.3h-3.79zM178.72 173.17l1.9 3.3h-3.79zM178.79 172.5l1.9 3.3h-3.79zM178.86 175.61l1.9 3.3h-3.79zM178.93 172.2l1.9 3.3h-3.79zM179 175.06l1.9 3.3h-3.79zM179.07 174.8l1.9 3.3h-3.79zM179.14 173.15l1.9 3.3h-3.79zM179.21 177.25l1.9 3.3h-3.79zM179.28 176.29l1.9 3.3h-3.79zM179.35 175.68l1.9 3.3h-3.79zM179.42 174.76l1.9 3.3h-3.79zM179.49 173.73l1.9 3.3h-3.79zM179.56 173.82l1.9 3.3h-3.79zM179.63 176.2l1.9 3.3h-3.79zM179.69 174.42l1.9 3.3h-3.79zM179.76 175.84l1.9 3.3h-3.79zM179.83 173.78l1.9 3.3h-3.79zM179.89 175.89l1.9 3.3h-3.79zM179.96 174.47l1.9 3.3h-3.79zM180.03 176.94l1.9 3.3h-3.79zM180.09 174.99l1.9 3.3h-3.79zM180.16 177.52l1.9 3.3h-3.79zM180.22 175.95l1.9 3.3h-3.79zM180.29 178.01l1.9 3.3h-3.79zM180.35 176.43l1.9 3.3h-3.79zM180.42 177.26l1.9 3.3h-3.79zM180.48 177.57l1.9 3.3h-3.79zM180.54 176.29l1.9 3.3h-3.79zM180.61 175.76l1.9 3.3h-3.79zM180.67 176.62l1.9 3.3h-3.79zM180.73 176.5l1.9 3.3h-3.79zM180.79 176.12l1.9 3.3h-3.79zM180.86 175.65l1.9 3.3h-3.79zM180.92 175.97l1.9 3.3h-3.79zM180.98 176.77l1.9 3.3h-3.79zM181.04 175.05l1.9 3.3h-3.79zM181.1 177.99l1.9 3.3h-3.79zM181.16 176.6l1.9 3.3h-3.79zM181.22 178.89l1.9 3.3h-3.79zM181.28 174.98l1.9 3.3h-3.79zM181.34 178.06l1.9 3.3h-3.79zM181.4 177.7l1.9 3.3h-3.79zM181.46 176.4l1.9 3.3h-3.79zM181.52 178.28l1.9 3.3h-3.79zM181.58 179.11l1.9 3.3h-3.79zM181.64 180.34l1.9 3.3h-3.79zM181.7 178.64l1.9 3.3h-3.79zM181.75 176.1l1.9 3.3h-3.79zM181.81 178.32l1.9 3.3h-3.79zM181.87 176.64l1.9 3.3h-3.79zM181.93 177.75l1.9 3.3h-3.79zM181.98 179.29l1.9 3.3h-3.79zM182.04 180.47l1.9 3.3h-3.79zM182.1 179.18l1.9 3.3h-3.79zM182.15 178.34l1.9 3.3h-3.79zM182.21 179.38l1.9 3.3h-3.79zM182.27 179.02l1.9 3.3h-3.79zM182.32 178.65l1.9 3.3h-3.79zM182.38 179.81l1.9 3.3h-3.79zM182.43 181.13l1.9 3.3h-3.79zM182.49 179.94l1.9 3.3h-3.79zM182.54 179.01l1.9 3.3h-3.79zM182.6 180.68l1.9 3.3h-3.79zM182.65 181.03l1.9 3.3h-3.79zM182.71 181.05l1.9 3.3h-3.79zM182.76 180.27l1.9 3.3h-3.79zM182.81 180.23l1.9 3.3h-3.79zM182.87 180.24l1.9 3.3h-3.79z" stroke="#f0af19" stroke-width="0.85" fill="none"/>
<path d="M105.77 76.31h2.47v2.47h-2.47zM115.25 85.01h2.47v2.47h-2.47zM120.8 91.61h2.47v2.47h-2.47zM124.74 98.23h2.47v2.47h-2.47zM127.79 103.22h2.47v2.47h-2.47zM130.28 108.07h2.47v2.47h-2.47zM132.39 110.5h2.47v2.47h-2.47zM134.22 112.79h2.47v2.47h-2.47zM135.83 114.46h2.47v2.47h-2.47zM137.27 116.43h2.47v2.47h-2.47zM138.57 118.92h2.47v2.47h-2.47zM139.76 120.58h2.47v2.47h-2.47zM140.86 123.87h2.47v2.47h-2.47zM141.87 123.3h2.47v2.47h-2.47zM142.82 124.79h2.47v2.47h-2.47zM143.7 126.36h2.47v2.47h-2.47zM144.53 129.03h2.47v2.47h-2.47zM145.31 129.82h2.47v2.47h-2.47zM146.05 131.45h2.47v2.47h-2.47zM146.75 133.55h2.47v2.47h-2.47zM147.42 133.52h2.47v2.47h-2.47zM148.06 135.92h2.47v2.47h-2.47zM148.66 137.16h2.47v2.47h-2.47zM149.25 135.47h2.47v2.47h-2.47zM149.81 136.39h2.47v2.47h-2.47zM150.34 136.93h2.47v2.47h-2.47zM150.86 139.22h2.47v2.47h-2.47zM151.36 139.5h2.47v2.47h-2.47zM151.84 139.72h2.47v2.47h-2.47zM152.3 141.5h2.47v2.47h-2.47zM152.75 144.12h2.47v2.47h-2.47zM153.18 139.98h2.47v2.47h-2.47zM153.6 141.8h2.47v2.47h-2.47zM154.01 142.45h2.47v2.47h-2.47zM154.41 144.42h2.47v2.47h-2.47zM154.79 146.06h2.47v2.47h-2.47zM155.17 145.67h2.47v2.47h-2.47zM155.53 146.04h2.47v2.47h-2.47zM155.89 148.5h2.47v2.47h-2.47zM156.24 148.05h2.47v2.47h-2.47zM156.57 147.43h2.47v2.47h-2.47zM156.9 146.9h2.47v2.47h-2.47zM157.22 148.45h2.47v2.47h-2.47zM157.54 150.11h2.47v2.47h-2.47zM157.85 151.61h2.47v2.47h-2.47zM158.15 148.35h2.47v2.47h-2.47zM158.44 151h2.47v2.47h-2.47zM158.73 150.74h2.47v2.47h-2.47zM159.01 152.04h2.47v2.47h-2.47zM159.29 154.05h2.47v2.47h-2.47zM159.56 150.52h2.47v2.47h-2.47zM159.82 152.66h2.47v2.47h-2.47zM160.09 152.47h2.47v2.47h-2.47zM160.34 155.17h2.47v2.47h-2.47zM160.59 154.73h2.47v2.47h-2.47zM160.84 153.55h2.47v2.47h-2.47zM161.08 155.91h2.47v2.47h-2.47zM161.32 156.72h2.47v2.47h-2.47zM161.55 157.57h2.47v2.47h-2.47zM161.78 158.21h2.47v2.47h-2.47zM162.01 156.11h2.47v2.47h-2.47zM162.23 157.48h2.47v2.47h-2.47zM162.45 159.82h2.47v2.47h-2.47zM162.67 156.41h2.47v2.47h-2.47zM162.88 157.04h2.47v2.47h-2.47zM163.09 157.53h2.47v2.47h-2.47zM163.29 161.28h2.47v2.47h-2.47zM163.49 159.4h2.47v2.47h-2.47zM163.69 158.38h2.47v2.47h-2.47zM163.89 161.36h2.47v2.47h-2.47zM164.09 161.41h2.47v2.47h-2.47zM164.28 161.1h2.47v2.47h-2.47zM164.47 163.43h2.47v2.47h-2.47zM164.65 161.21h2.47v2.47h-2.47zM164.83 160.63h2.47v2.47h-2.47zM165.02 161.31h2.47v2.47h-2.47zM165.19 160.66h2.47v2.47h-2.47zM165.37 162.55h2.47v2.47h-2.47zM165.55 162.98h2.47v2.47h-2.47zM165.72 163.44h2.47v2.47h-2.47zM165.89 164.31h2.47v2.47h-2.47zM166.06 165.01h2.47v2.47h-2.47zM166.22 164.92h2.47v2.47h-2.47zM166.39 164.44h2.47v2.47h-2.47zM166.55 165.23h2.47v2.47h-2.47zM166.71 164.77h2.47v2.47h-2.47zM166.87 165.06h2.47v2.47h-2.47zM167.02 164.69h2.47v2.47h-2.47zM167.18 166.26h2.47v2.47h-2.47zM167.33 168.28h2.47v2.47h-2.47zM167.48 167.27h2.47v2.47h-2.47zM167.63 164.26h2.47v2.47h-2.47zM167.78 165.83h2.47v2.47h-2.47zM167.92 167.39h2.47v2.47h-2.47zM168.07 167.4h2.47v2.47h-2.47zM168.21 167.5h2.47v2.47h-2.47zM168.35 168.18h2.47v2.47h-2.47zM168.49 167.66h2.47v2.47h-2.47zM168.63 167.33h2.47v2.47h-2.47zM168.77 166.96h2.47v2.47h-2.47zM168.91 168.98h2.47v2.47h-2.47zM169.04 169.13h2.47v2.47h-2.47zM169.17 169.4h2.47v2.47h-2.47zM169.31 169.21h2.47v2.47h-2.47zM169.44 168.26h2.47v2.47h-2.47zM169.57 170.53h2.47v2.47h-2.47zM169.7 167.39h2.47v2.47h-2.47zM169.82 169.48h2.47v2.47h-2.47zM169.95 169.06h2.47v2.47h-2.47zM170.07 171.55h2.47v2.47h-2.47zM170.2 171.16h2.47v2.47h-2.47zM170.32 171.54h2.47v2.47h-2.47zM170.44 171.09h2.47v2.47h-2.47zM170.56 173.66h2.47v2.47h-2.47zM170.68 170.98h2.47v2.47h-2.47zM170.8 173.65h2.47v2.47h-2.47zM170.92 171.51h2.47v2.47h-2.47zM171.03 170.98h2.47v2.47h-2.47zM171.15 172.39h2.47v2.47h-2.47zM171.26 172.71h2.47v2.47h-2.47zM171.38 172.89h2.47v2.47h-2.47zM171.49 173.14h2.47v2.47h-2.47zM171.6 172.78h2.47v2.47h-2.47zM171.71 172.23h2.47v2.47h-2.47zM171.82 172.7h2.47v2.47h-2.47zM171.93 171.91h2.47v2.47h-2.47zM172.04 173.68h2.47v2.47h-2.47zM172.15 174.54h2.47v2.47h-2.47zM172.25 174.67h2.47v2.47h-2.47zM172.36 175.72h2.47v2.47h-2.47zM172.46 174.92h2.47v2.47h-2.47zM172.57 175.33h2.47v2.47h-2.47zM172.67 172.8h2.47v2.47h-2.47zM172.77 174.4h2.47v2.47h-2.47zM172.88 173.13h2.47v2.47h-2.47zM172.98 177.49h2.47v2.47h-2.47zM173.08 175.15h2.47v2.47h-2.47zM173.18 174.5h2.47v2.47h-2.47zM173.28 175.46h2.47v2.47h-2.47zM173.37 176.51h2.47v2.47h-2.47zM173.47 175.96h2.47v2.47h-2.47zM173.57 176.2h2.47v2.47h-2.47zM173.66 176.32h2.47v2.47h-2.47zM173.76 176.33h2.47v2.47h-2.47zM173.85 175.72h2.47v2.47h-2.47zM173.95 176.69h2.47v2.47h-2.47zM174.04 176.77h2.47v2.47h-2.47zM174.13 177.23h2.47v2.47h-2.47zM174.23 176.89h2.47v2.47h-2.47zM174.32 178.36h2.47v2.47h-2.47zM174.41 177.05h2.47v2.47h-2.47zM174.5 178.22h2.47v2.47h-2.47zM174.59 177.04h2.47v2.47h-2.47zM174.68 178.81h2.47v2.47h-2.47zM174.77 178.36h2.47v2.47h-2.47zM174.85 178.64h2.47v2.47h-2.47zM174.94 179.74h2.47v2.47h-2.47zM175.03 177.55h2.47v2.47h-2.47zM175.11 178.46h2.47v2.47h-2.47zM175.2 178.98h2.47v2.47h-2.47zM175.29 177.78h2.47v2.47h-2.47zM175.37 179.68h2.47v2.47h-2.47zM175.45 179.48h2.47v2.47h-2.47zM175.54 178.35h2.47v2.47h-2.47zM175.62 176.98h2.47v2.47h-2.47zM175.7 179.78h2.47v2.47h-2.47zM175.79 178.18h2.47v2.47h-2.47zM175.87 179.95h2.47v2.47h-2.47zM175.95 181.18h2.47v2.47h-2.47zM176.03 179.85h2.47v2.47h-2.47zM176.11 179.16h2.47v2.47h-2.47zM176.19 180.47h2.47v2.47h-2.47zM176.27 180.3h2.47v2.47h-2.47zM176.35 182.18h2.47v2.47h-2.47zM176.43 183.66h2.47v2.47h-2.47zM176.5 180.97h2.47v2.47h-2.47zM176.58 183h2.47v2.47h-2.47zM176.66 181.61h2.47v2.47h-2.47zM176.74 182.42h2.47v2.47h-2.47zM176.81 181.66h2.47v2.47h-2.47zM176.89 180.99h2.47v2.47h-2.47zM176.96 184h2.47v2.47h-2.47zM177.04 182.42h2.47v2.47h-2.47zM177.11 182.55h2.47v2.47h-2.47zM177.19 181h2.47v2.47h-2.47zM177.26 182.57h2.47v2.47h-2.47zM177.33 183.69h2.47v2.47h-2.47zM177.41 183.55h2.47v2.47h-2.47zM177.48 180.99h2.47v2.47h-2.47zM177.55 184.14h2.47v2.47h-2.47zM177.62 183.21h2.47v2.47h-2.47zM177.69 183.09h2.47v2.47h-2.47zM177.77 184.8h2.47v2.47h-2.47zM177.84 184.55h2.47v2.47h-2.47zM177.91 185.97h2.47v2.47h-2.47zM177.98 184.89h2.47v2.47h-2.47zM178.05 183.24h2.47v2.47h-2.47zM178.12 183.86h2.47v2.47h-2.47zM178.18 186.35h2.47v2.47h-2.47zM178.25 182.71h2.47v2.47h-2.47zM178.32 185.94h2.47v2.47h-2.47zM178.39 185.63h2.47v2.47h-2.47zM178.46 182.86h2.47v2.47h-2.47zM178.52 184.26h2.47v2.47h-2.47zM178.59 184.98h2.47v2.47h-2.47zM178.66 183.32h2.47v2.47h-2.47zM178.72 185.21h2.47v2.47h-2.47zM178.79 184.84h2.47v2.47h-2.47zM178.86 185.98h2.47v2.47h-2.47zM178.92 185.59h2.47v2.47h-2.47zM178.99 185.64h2.47v2.47h-2.47zM179.05 184.43h2.47v2.47h-2.47zM179.11 186.49h2.47v2.47h-2.47zM179.18 186.12h2.47v2.47h-2.47zM179.24 188.45h2.47v2.47h-2.47zM179.31 188.04h2.47v2.47h-2.47zM179.37 185.44h2.47v2.47h-2.47zM179.43 186.77h2.47v2.47h-2.47zM179.49 186.83h2.47v2.47h-2.47zM179.56 185.86h2.47v2.47h-2.47zM179.62 187.02h2.47v2.47h-2.47zM179.68 186.65h2.47v2.47h-2.47zM179.74 187.18h2.47v2.47h-2.47zM179.8 189.24h2.47v2.47h-2.47zM179.86 186.38h2.47v2.47h-2.47zM179.92 185.5h2.47v2.47h-2.47zM179.99 185.95h2.47v2.47h-2.47zM180.05 187.32h2.47v2.47h-2.47zM180.11 187.19h2.47v2.47h-2.47zM180.16 187.16h2.47v2.47h-2.47zM180.22 186h2.47v2.47h-2.47zM180.28 186.45h2.47v2.47h-2.47zM180.34 188.29h2.47v2.47h-2.47zM180.4 188.15h2.47v2.47h-2.47zM180.46 188.33h2.47v2.47h-2.47zM180.52 188.86h2.47v2.47h-2.47zM180.58 189h2.47v2.47h-2.47zM180.63 188.56h2.47v2.47h-2.47zM180.69 191.23h2.47v2.47h-2.47zM180.75 188.2h2.47v2.47h-2.47zM180.8 189.24h2.47v2.47h-2.47zM180.86 190.19h2.47v2.47h-2.47zM180.92 189.13h2.47v2.47h-2.47zM180.97 189.87h2.47v2.47h-2.47zM181.03 187.76h2.47v2.47h-2.47zM181.08 190.46h2.47v2.47h-2.47zM181.14 189.23h2.47v2.47h-2.47zM181.2 189.02h2.47v2.47h-2.47zM181.25 190.44h2.47v2.47h-2.47zM181.31 190.98h2.47v2.47h-2.47zM181.36 189.26h2.47v2.47h-2.47zM181.41 190.23h2.47v2.47h-2.47zM181.47 190.92h2.47v2.47h-2.47zM181.52 191.58h2.47v2.47h-2.47zM181.58 189.37h2.47v2.47h-2.47zM181.63 188.46h2.47v2.47h-2.47z" stroke="#c3193c" stroke-width="0.85" fill="none"/>
<path d="M105.36 81.75a1.65 1.65 0 1 0 3.3 0a1.65 1.65 0 1 0 -3.3 0M114.84 87.33a1.65 1.65 0 1 0 3.3 0a1.65 1.65 0 1 0 -3.3 0M120.39 94.75a1.65 1.65 0 1 0 3.3 0a1.65 1.65 0 1 0 -3.3 0M124.32 100.32a1.65 1.65 0 1 0 3.3 0a1.65 1.65 0 1 0 -3.3 0M127.38 105.29a1.65 1.65 0 1 0 3.3 0a1.65 1.65 0 1 0 -3.3 0M129.87 111.06a1.65 1.65 0 1 0 3.3 0a1.65 1.65 0 1 0 -3.3 0M131.98 113.22a1.65 1.65 0 1 0 3.3 0a1.65 1.65 0 1 0 -3.3 0M133.81 116.01a1.65 1.65 0 1 0 3.3 0a1.65 1.65 0 1 0 -3.3 0M135.42 116.56a1.65 1.65 0 1 0 3.3 0a1.65 1.65 0 1 0 -3.3 0M136.86 121.5a1.65 1.65 0 1 0 3.3 0a1.65 1.65 0 1 0 -3.3 0M138.16 122.7a1.65 1.65 0 1 0 3.3 0a1.65 1.65 0 1 0 -3.3 0M139.35 124.91a1.65 1.65 0 1 0 3.3 0a1.65 1.65 0 1 0 -3.3 0M140.45 126.89a1.65 1.65 0 1 0 3.3 0a1.65 1.65 0 1 0 -3.3 0M141.46 130.38a1.65 1.65 0 1 0 3.3 0a1.65 1.65 0 1 0 -3.3 0M142.4 130.51a1.65 1.65 0 1 0 3.3 0a1.65 1.65 0 1 0 -3.3 0M143.29 130.62a1.65 1.65 0 1 0 3.3 0a1.65 1.65 0 1 0 -3.3 0M144.12 134.07a1.65 1.65 0 1 0 3.3 0a1.65 1.65 0 1 0 -3.3 0M144.9 134.69a1.65 1.65 0 1 0 3.3 0a1.65 1.65 0 1 0 -3.3 0M145.64 137.04a1.65 1.65 0 1 0 3.3 0a1.65 1.65 0 1 0 -3.3 0M146.34 137.04a1.65 1.65 0 1 0 3.3 0a1.65 1.65 0 1 0 -3.3 0M147.01 138.06a1.65 1.65 0 1 0 3.3 0a1.65 1.65 0 1 0 -3.3 0M147.64 138.74a1.65 1.65 0 1 0 3.3 0a1.65 1.65 0 1 0 -3.3 0M148.25 140.96a1.65 1.65 0 1 0 3.3 0a1.65 1.65 0 1 0 -3.3 0M148.83 141.96a1.65 1.65 0 1 0 3.3 0a1.65 1.65 0 1 0 -3.3 0M149.39 143.05a1.65 1.65 0 1 0 3.3 0a1.65 1.65 0 1 0 -3.3 0M149.93 143.02a1.65 1.65 0 1 0 3.3 0a1.65 1.65 0 1 0 -3.3 0M150.45 143.99a1.65 1.65 0 1 0 3.3 0a1.65 1.65 0 1 0 -3.3 0M150.94 142.53a1.65 1.65 0 1 0 3.3 0a1.65 1.65 0 1 0 -3.3 0M151.42 146.52a1.65 1.65 0 1 0 3.3 0a1.65 1.65 0 1 0 -3.3 0M151.89 145.84a1.65 1.65 0 1 0 3.3 0a1.65 1.65 0 1 0 -3.3 0M152.34 147.95a1.65 1.65 0 1 0 3.3 0a1.65 1.65 0 1 0 -3.3 0M152.77 148.6a1.65 1.65 0 1 0 3.3 0a1.65 1.65 0 1 0 -3.3 0M153.19 147.6a1.65 1.65 0 1 0 3.3 0a1.65 1.65 0 1 0 -3.3 0M153.6 149.01a1.65 1.65 0 1 0 3.3 0a1.65 1.65 0 1 0 -3.3 0M154 149.55a1.65 1.65 0 1 0 3.3 0a1.65 1.65 0 1 0 -3.3 0M154.38 152.26a1.65 1.65 0 1 0 3.3 0a1.65 1.65 0 1 0 -3.3 0M154.76 148.57a1.65 1.65 0 1 0 3.3 0a1.65 1.65 0 1 0 -3.3 0M155.12 149.74a1.65 1.65 0 1 0 3.3 0a1.65 1.65 0 1 0 -3.3 0M155.48 153.41a1.65 1.65 0 1 0 3.3 0a1.65 1.65 0 1 0 -3.3 0M155.82 154.68a1.65 1.65 0 1 0 3.3 0a1.65 1.65 0 1 0 -3.3 0M156.16 154.57a1.65 1.65 0 1 0 3.3 0a1.65 1.65 0 1 0 -3.3 0M156.49 154.07a1.65 1.65 0 1 0 3.3 0a1.65 1.65 0 1 0 -3.3 0M156.81 155.9a1.65 1.65 0 1 0 3.3 0a1.65 1.65 0 1 0 -3.3 0M157.13 155.11a1.65 1.65 0 1 0 3.3 0a1.65 1.65 0 1 0 -3.3 0M157.43 156.65a1.65 1.65 0 1 0 3.3 0a1.65 1.65 0 1 0 -3.3 0M157.73 153.41a1.65 1.65 0 1 0 3.3 0a1.65 1.65 0 1 0 -3.3 0M158.03 157.19a1.65 1.65 0 1 0 3.3 0a1.65 1.65 0 1 0 -3.3 0M158.32 157.92a1.65 1.65 0 1 0 3.3 0a1.65 1.65 0 1 0 -3.3 0M158.6 155.69a1.65 1.65 0 1 0 3.3 0a1.65 1.65 0 1 0 -3.3 0M158.88 158a1.65 1.65 0 1 0 3.3 0a1.65 1.65 0 1 0 -3.3 0M159.15 158.81a1.65 1.65 0 1 0 3.3 0a1.65 1.65 0 1 0 -3.3 0M159.41 159.32a1.65 1.65 0 1 0 3.3 0a1.65 1.65 0 1 0 -3.3 0M159.67 159.09a1.65 1.65 0 1 0 3.3 0a1.65 1.65 0 1 0 -3.3 0M159.93 160.62a1.65 1.65 0 1 0 3.3 0a1.65 1.65 0 1 0 -3.3 0M160.18 160.45a1.65 1.65 0 1 0 3.3 0a1.65 1.65 0 1 0 -3.3 0M160.43 161.59a1.65 1.65 0 1 0 3.3 0a1.65 1.65 0 1 0 -3.3 0M160.67 162.88a1.65 1.65 0 1 0 3.3 0a1.65 1.65 0 1 0 -3.3 0M160.91 162.16a1.65 1.65 0 1 0 3.3 0a1.65 1.65 0 1 0 -3.3 0M161.14 162.02a1.65 1.65 0 1 0 3.3 0a1.65 1.65 0 1 0 -3.3 0M161.37 160.84a1.65 1.65 0 1 0 3.3 0a1.65 1.65 0 1 0 -3.3 0M161.6 162.73a1.65 1.65 0 1 0 3.3 0a1.65 1.65 0 1 0 -3.3 0M161.82 163.73a1.65 1.65 0 1 0 3.3 0a1.65 1.65 0 1 0 -3.3 0M162.04 163.58a1.65 1.65 0 1 0 3.3 0a1.65 1.65 0 1 0 -3.3 0M162.25 163.44a1.65 1.65 0 1 0 3.3 0a1.65 1.65 0 1 0 -3.3 0M162.46 166.92a1.65 1.65 0 1 0 3.3 0a1.65 1.65 0 1 0 -3.3 0M162.67 165.26a1.65 1.65 0 1 0 3.3 0a1.65 1.65 0 1 0 -3.3 0M162.88 167.52a1.65 1.65 0 1 0 3.3 0a1.65 1.65 0 1 0 -3.3 0M163.08 167.41a1.65 1.65 0 1 0 3.3 0a1.65 1.65 0 1 0 -3.3 0M163.28 166.64a1.65 1.65 0 1 0 3.3 0a1.65 1.65 0 1 0 -3.3 0M163.48 166.31a1.65 1.65 0 1 0 3.3 0a1.65 1.65 0 1 0 -3.3 0M163.67 166.45a1.65 1.65 0 1 0 3.3 0a1.65 1.65 0 1 0 -3.3 0M163.86 166.68a1.65 1.65 0 1 0 3.3 0a1.65 1.65 0 1 0 -3.3 0M164.05 165.7a1.65 1.65 0 1 0 3.3 0a1.65 1.65 0 1 0 -3.3 0M164.24 166.96a1.65 1.65 0 1 0 3.3 0a1.65 1.65 0 1 0 -3.3 0M164.42 167.34a1.65 1.65 0 1 0 3.3 0a1.65 1.65 0 1 0 -3.3 0M164.6 168.42a1.65 1.65 0 1 0 3.3 0a1.65 1.65 0 1 0 -3.3 0M164.78 166.25a1.65 1.65 0 1 0 3.3 0a1.65 1.65 0 1 0 -3.3 0M164.96 167.25a1.65 1.65 0 1 0 3.3 0a1.65 1.65 0 1 0 -3.3 0M165.13 169.61a1.65 1.65 0 1 0 3.3 0a1.65 1.65 0 1 0 -3.3 0M165.31 169.9a1.65 1.65 0 1 0 3.3 0a1.65 1.65 0 1 0 -3.3 0M165.48 168.7a1.65 1.65 0 1 0 3.3 0a1.65 1.65 0 1 0 -3.3 0M165.64 168.74a1.65 1.65 0 1 0 3.3 0a1.65 1.65 0 1 0 -3.3 0M165.81 170.46a1.65 1.65 0 1 0 3.3 0a1.65 1.65 0 1 0 -3.3 0M165.97 169.16a1.65 1.65 0 1 0 3.3 0a1.65 1.65 0 1 0 -3.3 0M166.13 171.97a1.65 1.65 0 1 0 3.3 0a1.65 1.65 0 1 0 -3.3 0M166.29 171.11a1.65 1.65 0 1 0 3.3 0a1.65 1.65 0 1 0 -3.3 0M166.45 170.09a1.65 1.65 0 1 0 3.3 0a1.65 1.65 0 1 0 -3.3 0M166.61 172.1a1.65 1.65 0 1 0 3.3 0a1.65 1.65 0 1 0 -3.3 0M166.76 171.57a1.65 1.65 0 1 0 3.3 0a1.65 1.65 0 1 0 -3.3 0M166.92 172.01a1.65 1.65 0 1 0 3.3 0a1.65 1.65 0 1 0 -3.3 0M167.07 172.53a1.65 1.65 0 1 0 3.3 0a1.65 1.65 0 1 0 -3.3 0M167.22 174.56a1.65 1.65 0 1 0 3.3 0a1.65 1.65 0 1 0 -3.3 0M167.37 173.11a1.65 1.65 0 1 0 3.3 0a1.65 1.65 0 1 0 -3.3 0M167.51 172.81a1.65 1.65 0 1 0 3.3 0a1.65 1.65 0 1 0 -3.3 0M167.66 173.02a1.65 1.65 0 1 0 3.3 0a1.65 1.65 0 1 0 -3.3 0M167.8 172.65a1.65 1.65 0 1 0 3.3 0a1.65 1.65 0 1 0 -3.3 0M167.94 172.7a1.65 1.65 0 1 0 3.3 0a1.65 1.65 0 1 0 -3.3 0M168.08 174.35a1.65 1.65 0 1 0 3.3 0a1.65 1.65 0 1 0 -3.3 0M168.22 174.44a1.65 1.65 0 1 0 3.3 0a1.65 1.65 0 1 0 -3.3 0M168.36 172.58a1.65 1.65 0 1 0 3.3 0a1.65 1.65 0 1 0 -3.3 0M168.49 173.69a1.65 1.65 0 1 0 3.3 0a1.65 1.65 0 1 0 -3.3 0M168.63 174.86a1.65 1.65 0 1 0 3.3 0a1.65 1.65 0 1 0 -3.3 0M168.76 175.35a1.65 1.65 0 1 0 3.3 0a1.65 1.65 0 1 0 -3.3 0M168.89 174.17a1.65 1.65 0 1 0 3.3 0a1.65 1.65 0 1 0 -3.3 0M169.03 174.38a1.65 1.65 0 1 0 3.3 0a1.65 1.65 0 1 0 -3.3 0M169.16 175.87a1.65 1.65 0 1 0 3.3 0a1.65 1.65 0 1 0 -3.3 0M169.28 175.49a1.65 1.65 0 1 0 3.3 0a1.65 1.65 0 1 0 -3.3 0M169.41 176.17a1.65 1.65 0 1 0 3.3 0a1.65 1.65 0 1 0 -3.3 0M169.54 176.47a1.65 1.65 0 1 0 3.3 0a1.65 1.65 0 1 0 -3.3 0M169.66 174.58a1.65 1.65 0 1 0 3.3 0a1.65 1.65 0 1 0 -3.3 0M169.79 178.25a1.65 1.65 0 1 0 3.3 0a1.65 1.65 0 1 0 -3.3 0M169.91 176.22a1.65 1.65 0 1 0 3.3 0a1.65 1.65 0 1 0 -3.3 0M170.03 178.43a1.65 1.65 0 1 0 3.3 0a1.65 1.65 0 1 0 -3.3 0M170.15 178.24a1.65 1.65 0 1 0 3.3 0a1.65 1.65 0 1 0 -3.3 0M170.27 176.74a1.65 1.65 0 1 0 3.3 0a1.65 1.65 0 1 0 -3.3 0M170.39 179.33a1.65 1.65 0 1 0 3.3 0a1.65 1.65 0 1 0 -3.3 0M170.51 179.12a1.65 1.65 0 1 0 3.3 0a1.65 1.65 0 1 0 -3.3 0M170.62 179.54a1.65 1.65 0 1 0 3.3 0a1.65 1.65 0 1 0 -3.3 0M170.74 179.14a1.65 1.65 0 1 0 3.3 0a1.65 1.65 0 1 0 -3.3 0M170.85 178.34a1.65 1.65 0 1 0 3.3 0a1.65 1.65 0 1 0 -3.3 0M170.97 177.59a1.65 1.65 0 1 0 3.3 0a1.65 1.65 0 1 0 -3.3 0M171.08 179.79a1.65 1.65 0 1 0 3.3 0a1.65 1.65 0 1 0 -3.3 0M171.19 178.25a1.65 1.65 0 1 0 3.3 0a1.65 1.65 0 1 0 -3.3 0M171.3 180.79a1.65 1.65 0 1 0 3.3 0a1.65 1.65 0 1 0 -3.3 0M171.41 177.29a1.65 1.65 0 1 0 3.3 0a1.65 1.65 0 1 0 -3.3 0M171.52 180.33a1.65 1.65 0 1 0 3.3 0a1.65 1.65 0 1 0 -3.3 0M171.63 180.56a1.65 1.65 0 1 0 3.3 0a1.65 1.65 0 1 0 -3.3 0M171.74 179.93a1.65 1.65 0 1 0 3.3 0a1.65 1.65 0 1 0 -3.3 0M171.84 180.31a1.65 1.65 0 1 0 3.3 0a1.65 1.65 0 1 0 -3.3 0M171.95 180.78a1.65 1.65 0 1 0 3.3 0a1.65 1.65 0 1 0 -3.3 0M172.05 182.65a1.65 1.65 0 1 0 3.3 0a1.65 1.65 0 1 0 -3.3 0M172.16 180.02a1.65 1.65 0 1 0 3.3 0a1.65 1.65 0 1 0 -3.3 0M172.26 180.36a1.65 1.65 0 1 0 3.3 0a1.65 1.65 0 1 0 -3.3 0M172.36 181.76a1.65 1.65 0 1 0 3.3 0a1.65 1.65 0 1 0 -3.3 0M172.46 182.79a1.65 1.65 0 1 0 3.3 0a1.65 1.65 0 1 0 -3.3 0M172.56 181.38a1.65 1.65 0 1 0 3.3 0a1.65 1.65 0 1 0 -3.3 0M172.66 180.61a1.65 1.65 0 1 0 3.3 0a1.65 1.65 0 1 0 -3.3 0M172.76 183.95a1.65 1.65 0 1 0 3.3 0a1.65 1.65 0 1 0 -3.3 0M172.86 183.43a1.65 1.65 0 1 0 3.3 0a1.65 1.65 0 1 0 -3.3 0M172.96 182.26a1.65 1.65 0 1 0 3.3 0a1.65 1.65 0 1 0 -3.3 0M173.06 183.43a1.65 1.65 0 1 0 3.3 0a1.65 1.65 0 1 0 -3.3 0M173.16 183.08a1.65 1.65 0 1 0 3.3 0a1.65 1.65 0 1 0 -3.3 0M173.25 182.98a1.65 1.65 0 1 0 3.3 0a1.65 1.65 0 1 0 -3.3 0M173.35 182.17a1.65 1.65 0 1 0 3.3 0a1.65 1.65 0 1 0 -3.3 0M173.44 182.33a1.65 1.65 0 1 0 3.3 0a1.65 1.65 0 1 0 -3.3 0M173.54 182.26a1.65 1.65 0 1 0 3.3 0a1.65 1.65 0 1 0 -3.3 0M173.63 182.51a1.65 1.65 0 1 0 3.3 0a1.65 1.65 0 1 0 -3.3 0M173.72 184.36a1.65 1.65 0 1 0 3.3 0a1.65 1.65 0 1 0 -3.3 0M173.81 186.48a1.65 1.65 0 1 0 3.3 0a1.65 1.65 0 1 0 -3.3 0M173.9 183.63a1.65 1.65 0 1 0 3.3 0a1.65 1.65 0 1 0 -3.3 0M174 183.64a1.65 1.65 0 1 0 3.3 0a1.65 1.65 0 1 0 -3.3 0M174.09 183.8a1.65 1.65 0 1 0 3.3 0a1.65 1.65 0 1 0 -3.3 0M174.18 185.19a1.65 1.65 0 1 0 3.3 0a1.65 1.65 0 1 0 -3.3 0M174.26 182.48a1.65 1.65 0 1 0 3.3 0a1.65 1.65 0 1 0 -3.3 0M174.35 186.6a1.65 1.65 0 1 0 3.3 0a1.65 1.65 0 1 0 -3.3 0M174.44 184a1.65 1.65 0 1 0 3.3 0a1.65 1.65 0 1 0 -3.3 0M174.53 184.36a1.65 1.65 0 1 0 3.3 0a1.65 1.65 0 1 0 -3.3 0M174.62 184.18a1.65 1.65 0 1 0 3.3 0a1.65 1.65 0 1 0 -3.3 0M174.7 183.8a1.65 1.65 0 1 0 3.3 0a1.65 1.65 0 1 0 -3.3 0M174.79 184.94a1.65 1.65 0 1 0 3.3 0a1.65 1.65 0 1 0 -3.3 0M174.87 185.26a1.65 1.65 0 1 0 3.3 0a1.65 1.65 0 1 0 -3.3 0M174.96 186.1a1.65 1.65 0 1 0 3.3 0a1.65 1.65 0 1 0 -3.3 0M175.04 185.07a1.65 1.65 0 1 0 3.3 0a1.65 1.65 0 1 0 -3.3 0M175.13 185.64a1.65 1.65 0 1 0 3.3 0a1.65 1.65 0 1 0 -3.3 0M175.21 185.32a1.65 1.65 0 1 0 3.3 0a1.65 1.65 0 1 0 -3.3 0M175.29 187.61a1.65 1.65 0 1 0 3.3 0a1.65 1.65 0 1 0 -3.3 0M175.37 188.18a1.65 1.65 0 1 0 3.3 0a1.65 1.65 0 1 0 -3.3 0M175.46 186.56a1.65 1.65 0 1 0 3.3 0a1.65 1.65 0 1 0 -3.3 0M175.54 186.19a1.65 1.65 0 1 0 3.3 0a1.65 1.65 0 1 0 -3.3 0M175.62 188.6a1.65 1.65 0 1 0 3.3 0a1.65 1.65 0 1 0 -3.3 0M175.7 188.17a1.65 1.65 0 1 0 3.3 0a1.65 1.65 0 1 0 -3.3 0M175.78 187.57a1.65 1.65 0 1 0 3.3 0a1.65 1.65 0 1 0 -3.3 0M175.86 186.99a1.65 1.65 0 1 0 3.3 0a1.65 1.65 0 1 0 -3.3 0M175.94 187.1a1.65 1.65 0 1 0 3.3 0a1.65 1.65 0 1 0 -3.3 0M176.01 186.49a1.65 1.65 0 1 0 3.3 0a1.65 1.65 0 1 0 -3.3 0M176.09 187.9a1.65 1.65 0 1 0 3.3 0a1.65 1.65 0 1 0 -3.3 0M176.17 187.38a1.65 1.65 0 1 0 3.3 0a1.65 1.65 0 1 0 -3.3 0M176.25 186.56a1.65 1.65 0 1 0 3.3 0a1.65 1.65 0 1 0 -3.3 0M176.32 188.41a1.65 1.65 0 1 0 3.3 0a1.65 1.65 0 1 0 -3.3 0M176.4 185.73a1.65 1.65 0 1 0 3.3 0a1.65 1.65 0 1 0 -3.3 0M176.47 188.77a1.65 1.65 0 1 0 3.3 0a1.65 1.65 0 1 0 -3.3 0M176.55 188.35a1.65 1.65 0 1 0 3.3 0a1.65 1.65 0 1 0 -3.3 0M176.63 190.71a1.65 1.65 0 1 0 3.3 0a1.65 1.65 0 1 0 -3.3 0M176.7 188.84a1.65 1.65 0 1 0 3.3 0a1.65 1.65 0 1 0 -3.3 0M176.77 189.46a1.65 1.65 0 1 0 3.3 0a1.65 1.65 0 1 0 -3.3 0M176.85 189.71a1.65 1.65 0 1 0 3.3 0a1.65 1.65 0 1 0 -3.3 0M176.92 188.8a1.65 1.65 0 1 0 3.3 0a1.65 1.65 0 1 0 -3.3 0M176.99 190.46a1.65 1.65 0 1 0 3.3 0a1.65 1.65 0 1 0 -3.3 0M177.07 189.13a1.65 1.65 0 1 0 3.3 0a1.65 1.65 0 1 0 -3.3 0M177.14 191.7a1.65 1.65 0 1 0 3.3 0a1.65 1.65 0 1 0 -3.3 0M177.21 190.17a1.65 1.65 0 1 0 3.3 0a1.65 1.65 0 1 0 -3.3 0M177.28 188.24a1.65 1.65 0 1 0 3.3 0a1.65 1.65 0 1 0 -3.3 0M177.35 189.72a1.65 1.65 0 1 0 3.3 0a1.65 1.65 0 1 0 -3.3 0M177.42 189.32a1.65 1.65 0 1 0 3.3 0a1.65 1.65 0 1 0 -3.3 0M177.49 191.11a1.65 1.65 0 1 0 3.3 0a1.65 1.65 0 1 0 -3.3 0M177.56 191.67a1.65 1.65 0 1 0 3.3 0a1.65 1.65 0 1 0 -3.3 0M177.63 188.82a1.65 1.65 0 1 0 3.3 0a1.65 1.65 0 1 0 -3.3 0M177.7 189.34a1.65 1.65 0 1 0 3.3 0a1.65 1.65 0 1 0 -3.3 0M177.77 189.64a1.65 1.65 0 1 0 3.3 0a1.65 1.65 0 1 0 -3.3 0M177.84 190.71a1.65 1.65 0 1 0 3.3 0a1.65 1.65 0 1 0 -3.3 0M177.91 189.52a1.65 1.65 0 1 0 3.3 0a1.65 1.65 0 1 0 -3.3 0M177.98 191.4a1.65 1.65 0 1 0 3.3 0a1.65 1.65 0 1 0 -3.3 0M178.04 190.29a1.65 1.65 0 1 0 3.3 0a1.65 1.65 0 1 0 -3.3 0M178.11 190.44a1.65 1.65 0 1 0 3.3 0a1.65 1.65 0 1 0 -3.3 0M178.18 192.27a1.65 1.65 0 1 0 3.3 0a1.65 1.65 0 1 0 -3.3 0M178.24 189.83a1.65 1.65 0 1 0 3.3 0a1.65 1.65 0 1 0 -3.3 0M178.31 191.37a1.65 1.65 0 1 0 3.3 0a1.65 1.65 0 1 0 -3.3 0M178.38 190.72a1.65 1.65 0 1 0 3.3 0a1.65 1.65 0 1 0 -3.3 0M178.44 193.39a1.65 1.65 0 1 0 3.3 0a1.65 1.65 0 1 0 -3.3 0M178.51 193.16a1.65 1.65 0 1 0 3.3 0a1.65 1.65 0 1 0 -3.3 0M178.57 192.42a1.65 1.65 0 1 0 3.3 0a1.65 1.65 0 1 0 -3.3 0M178.64 191.5a1.65 1.65 0 1 0 3.3 0a1.65 1.65 0 1 0 -3.3 0M178.7 190.9a1.65 1.65 0 1 0 3.3 0a1.65 1.65 0 1 0 -3.3 0M178.77 191.87a1.65 1.65 0 1 0 3.3 0a1.65 1.65 0 1 0 -3.3 0M178.83 192.53a1.65 1.65 0 1 0 3.3 0a1.65 1.65 0 1 0 -3.3 0M178.89 191.87a1.65 1.65 0 1 0 3.3 0a1.65 1.65 0 1 0 -3.3 0M178.96 192.86a1.65 1.65 0 1 0 3.3 0a1.65 1.65 0 1 0 -3.3 0M179.02 192.54a1.65 1.65 0 1 0 3.3 0a1.65 1.65 0 1 0 -3.3 0M179.08 192.39a1.65 1.65 0 1 0 3.3 0a1.65 1.65 0 1 0 -3.3 0M179.14 193.69a1.65 1.65 0 1 0 3.3 0a1.65 1.65 0 1 0 -3.3 0M179.21 192.59a1.65 1.65 0 1 0 3.3 0a1.65 1.65 0 1 0 -3.3 0M179.27 194.75a1.65 1.65 0 1 0 3.3 0a1.65 1.65 0 1 0 -3.3 0M179.33 194.16a1.65 1.65 0 1 0 3.3 0a1.65 1.65 0 1 0 -3.3 0M179.39 192.63a1.65 1.65 0 1 0 3.3 0a1.65 1.65 0 1 0 -3.3 0M179.45 194.18a1.65 1.65 0 1 0 3.3 0a1.65 1.65 0 1 0 -3.3 0M179.51 193.04a1.65 1.65 0 1 0 3.3 0a1.65 1.65 0 1 0 -3.3 0M179.57 193.42a1.65 1.65 0 1 0 3.3 0a1.65 1.65 0 1 0 -3.3 0M179.63 194a1.65 1.65 0 1 0 3.3 0a1.65 1.65 0 1 0 -3.3 0M179.69 192.21a1.65 1.65 0 1 0 3.3 0a1.65 1.65 0 1 0 -3.3 0M179.75 193.46a1.65 1.65 0 1 0 3.3 0a1.65 1.65 0 1 0 -3.3 0M179.81 194.73a1.65 1.65 0 1 0 3.3 0a1.65 1.65 0 1 0 -3.3 0M179.87 194.75a1.65 1.65 0 1 0 3.3 0a1.65 1.65 0 1 0 -3.3 0M179.93 194.15a1.65 1.65 0 1 0 3.3 0a1.65 1.65 0 1 0 -3.3 0M179.99 196.04a1.65 1.65 0 1 0 3.3 0a1.65 1.65 0 1 0 -3.3 0M180.05 193.22a1.65 1.65 0 1 0 3.3 0a1.65 1.65 0 1 0 -3.3 0M180.1 194.67a1.65 1.65 0 1 0 3.3 0a1.65 1.65 0 1 0 -3.3 0M180.16 196.59a1.65 1.65 0 1 0 3.3 0a1.65 1.65 0 1 0 -3.3 0M180.22 195.88a1.65 1.65 0 1 0 3.3 0a1.65 1.65 0 1 0 -3.3 0M180.28 193.33a1.65 1.65 0 1 0 3.3 0a1.65 1.65 0 1 0 -3.3 0M180.33 194.74a1.65 1.65 0 1 0 3.3 0a1.65 1.65 0 1 0 -3.3 0M180.39 192.7a1.65 1.65 0 1 0 3.3 0a1.65 1.65 0 1 0 -3.3 0M180.45 195.16a1.65 1.65 0 1 0 3.3 0a1.65 1.65 0 1 0 -3.3 0M180.5 194.77a1.65 1.65 0 1 0 3.3 0a1.65 1.65 0 1 0 -3.3 0M180.56 193.22a1.65 1.65 0 1 0 3.3 0a1.65 1.65 0 1 0 -3.3 0M180.62 193.12a1.65 1.65 0 1 0 3.3 0a1.65 1.65 0 1 0 -3.3 0M180.67 196.6a1.65 1.65 0 1 0 3.3 0a1.65 1.65 0 1 0 -3.3 0M180.73 194.69a1.65 1.65 0 1 0 3.3 0a1.65 1.65 0 1 0 -3.3 0M180.78 196.93a1.65 1.65 0 1 0 3.3 0a1.65 1.65 0 1 0 -3.3 0M180.84 196.38a1.65 1.65 0 1 0 3.3 0a1.65 1.65 0 1 0 -3.3 0M180.89 197.88a1.65 1.65 0 1 0 3.3 0a1.65 1.65 0 1 0 -3.3 0M180.95 195.4a1.65 1.65 0 1 0 3.3 0a1.65 1.65 0 1 0 -3.3 0M181 197.27a1.65 1.65 0 1 0 3.3 0a1.65 1.65 0 1 0 -3.3 0M181.06 197.1a1.65 1.65 0 1 0 3.3 0a1.65 1.65 0 1 0 -3.3 0M181.11 194.2a1.65 1.65 0 1 0 3.3 0a1.65 1.65 0 1 0 -3.3 0M181.16 195.44a1.65 1.65 0 1 0 3.3 0a1.65 1.65 0 1 0 -3.3 0M181.22 196.7a1.65 1.65 0 1 0 3.3 0a1.65 1.65 0 1 0 -3.3 0" stroke="#c3193c" stroke-width="0.85" fill="none"/>
<path d="M107.01 78l1.9 3.3h-3.79zM116.49 87.93l1.9 3.3h-3.79zM122.04 93.26l1.9 3.3h-3.79zM125.97 101.74l1.9 3.3h-3.79zM129.03 104.6l1.9 3.3h-3.79zM131.52 106.51l1.9 3.3h-3.79zM133.63 109.47l1.9 3.3h-3.79zM135.46 112.91l1.9 3.3h-3.79zM137.07 114.58l1.9 3.3h-3.79zM138.51 117.44l1.9 3.3h-3.79zM139.81 120.47l1.9 3.3h-3.79zM141 121.39l1.9 3.3h-3.79zM142.1 121.17l1.9 3.3h-3.79zM143.11 124.68l1.9 3.3h-3.79zM144.05 125.73l1.9 3.3h-3.79zM144.94 126.81l1.9 3.3h-3.79zM145.77 130.23l1.9 3.3h-3.79zM146.55 131.03l1.9 3.3h-3.79zM147.29 132.77l1.9 3.3h-3.79zM147.99 131.73l1.9 3.3h-3.79zM148.66 133.56l1.9 3.3h-3.79zM149.29 135.51l1.9 3.3h-3.79zM149.9 136.49l1.9 3.3h-3.79zM150.48 135.19l1.9 3.3h-3.79zM151.04 135.94l1.9 3.3h-3.79zM151.58 137.24l1.9 3.3h-3.79zM152.1 138.47l1.9 3.3h-3.79zM152.59 138.72l1.9 3.3h-3.79zM153.07 140.02l1.9 3.3h-3.79zM153.54 140.36l1.9 3.3h-3.79zM153.99 141.92l1.9 3.3h-3.79zM154.42 143.28l1.9 3.3h-3.79zM154.84 143.64l1.9 3.3h-3.79zM155.25 143.16l1.9 3.3h-3.79zM155.65 142.21l1.9 3.3h-3.79zM156.03 145.63l1.9 3.3h-3.79zM156.41 146.5l1.9 3.3h-3.79zM156.77 145.05l1.9 3.3h-3.79zM157.13 145.6l1.9 3.3h-3.79zM157.47 147.76l1.9 3.3h-3.79zM157.81 148.14l1.9 3.3h-3.79zM158.14 148.68l1.9 3.3h-3.79zM158.46 148.17l1.9 3.3h-3.79zM158.78 145.63l1.9 3.3h-3.79zM159.08 150.32l1.9 3.3h-3.79zM159.38 149.66l1.9 3.3h-3.79zM159.68 151.01l1.9 3.3h-3.79zM159.97 150.75l1.9 3.3h-3.79zM160.25 150.91l1.9 3.3h-3.79zM160.53 151.49l1.9 3.3h-3.79zM160.8 153.35l1.9 3.3h-3.79zM161.06 153.76l1.9 3.3h-3.79zM161.32 152.04l1.9 3.3h-3.79zM161.58 153.18l1.9 3.3h-3.79zM161.83 153.67l1.9 3.3h-3.79zM162.08 153.64l1.9 3.3h-3.79zM162.32 155.5l1.9 3.3h-3.79zM162.56 153.71l1.9 3.3h-3.79zM162.79 156.33l1.9 3.3h-3.79zM163.02 156.98l1.9 3.3h-3.79zM163.25 157.25l1.9 3.3h-3.79zM163.47 156.65l1.9 3.3h-3.79zM163.69 153.94l1.9 3.3h-3.79zM163.9 157.16l1.9 3.3h-3.79zM164.11 157.23l1.9 3.3h-3.79zM164.32 156.18l1.9 3.3h-3.79zM164.53 158.63l1.9 3.3h-3.79zM164.73 160.11l1.9 3.3h-3.79zM164.93 159.57l1.9 3.3h-3.79zM165.13 159.6l1.9 3.3h-3.79zM165.32 161.32l1.9 3.3h-3.79zM165.51 160.11l1.9 3.3h-3.79zM165.7 160l1.9 3.3h-3.79zM165.89 158.15l1.9 3.3h-3.79zM166.07 159.82l1.9 3.3h-3.79zM166.25 160.85l1.9 3.3h-3.79zM166.43 161.86l1.9 3.3h-3.79zM166.61 162.38l1.9 3.3h-3.79zM166.78 163.86l1.9 3.3h-3.79zM166.96 162.29l1.9 3.3h-3.79zM167.13 164.91l1.9 3.3h-3.79zM167.29 162.84l1.9 3.3h-3.79zM167.46 161.11l1.9 3.3h-3.79zM167.62 163.63l1.9 3.3h-3.79zM167.78 163l1.9 3.3h-3.79zM167.94 164.69l1.9 3.3h-3.79zM168.1 166.06l1.9 3.3h-3.79zM168.26 163.94l1.9 3.3h-3.79zM168.41 164.75l1.9 3.3h-3.79zM168.57 164.2l1.9 3.3h-3.79zM168.72 164.82l1.9 3.3h-3.79zM168.87 164.53l1.9 3.3h-3.79zM169.02 165.96l1.9 3.3h-3.79zM169.16 165.07l1.9 3.3h-3.79zM169.31 164.78l1.9 3.3h-3.79zM169.45 166.72l1.9 3.3h-3.79zM169.59 166.72l1.9 3.3h-3.79zM169.73 165.4l1.9 3.3h-3.79zM169.87 166.25l1.9 3.3h-3.79zM170.01 167.26l1.9 3.3h-3.79zM170.14 168.94l1.9 3.3h-3.79zM170.28 167.75l1.9 3.3h-3.79zM170.41 166l1.9 3.3h-3.79zM170.54 168.36l1.9 3.3h-3.79zM170.68 168.28l1.9 3.3h-3.79zM170.81 169.28l1.9 3.3h-3.79zM170.93 168.61l1.9 3.3h-3.79zM171.06 168.7l1.9 3.3h-3.79zM171.19 168.58l1.9 3.3h-3.79zM171.31 169.82l1.9 3.3h-3.79zM171.44 170.53l1.9 3.3h-3.79zM171.56 167.18l1.9 3.3h-3.79zM171.68 169.52l1.9 3.3h-3.79zM171.8 170.83l1.9 3.3h-3.79zM171.92 170.26l1.9 3.3h-3.79zM172.04 169.74l1.9 3.3h-3.79zM172.16 169.25l1.9 3.3h-3.79zM172.27 170.31l1.9 3.3h-3.79zM172.39 171.19l1.9 3.3h-3.79zM172.5 170.44l1.9 3.3h-3.79zM172.62 172.72l1.9 3.3h-3.79zM172.73 172.41l1.9 3.3h-3.79zM172.84 170.17l1.9 3.3h-3.79zM172.95 171.49l1.9 3.3h-3.79zM173.06 171.96l1.9 3.3h-3.79zM173.17 172.77l1.9 3.3h-3.79zM173.28 173.53l1.9 3.3h-3.79zM173.39 172.14l1.9 3.3h-3.79zM173.49 172.54l1.9 3.3h-3.79zM173.6 170.85l1.9 3.3h-3.79zM173.7 173.86l1.9 3.3h-3.79zM173.81 173.08l1.9 3.3h-3.79zM173.91 173.65l1.9 3.3h-3.79zM174.01 174.42l1.9 3.3h-3.79zM174.11 171.58l1.9 3.3h-3.79zM174.21 172.24l1.9 3.3h-3.79zM174.31 173.76l1.9 3.3h-3.79zM174.41 175.62l1.9 3.3h-3.79zM174.51 173.89l1.9 3.3h-3.79zM174.61 173.85l1.9 3.3h-3.79zM174.71 175.23l1.9 3.3h-3.79zM174.81 176.48l1.9 3.3h-3.79zM174.9 172.88l1.9 3.3h-3.79zM175 176.54l1.9 3.3h-3.79zM175.09 173.98l1.9 3.3h-3.79zM175.19 176.07l1.9 3.3h-3.79zM175.28 175.92l1.9 3.3h-3.79zM175.37 174.51l1.9 3.3h-3.79zM175.46 177.04l1.9 3.3h-3.79zM175.55 176.3l1.9 3.3h-3.79zM175.65 176.13l1.9 3.3h-3.79zM175.74 174.92l1.9 3.3h-3.79zM175.83 175.25l1.9 3.3h-3.79zM175.91 176.35l1.9 3.3h-3.79zM176 178.02l1.9 3.3h-3.79zM176.09 175.47l1.9 3.3h-3.79zM176.18 177.39l1.9 3.3h-3.79zM176.27 176.75l1.9 3.3h-3.79zM176.35 179.26l1.9 3.3h-3.79zM176.44 177.54l1.9 3.3h-3.79zM176.52 176.91l1.9 3.3h-3.79zM176.61 178.01l1.9 3.3h-3.79zM176.69 177.07l1.9 3.3h-3.79zM176.78 176.45l1.9 3.3h-3.79zM176.86 176.26l1.9 3.3h-3.79zM176.94 178.77l1.9 3.3h-3.79zM177.02 179.98l1.9 3.3h-3.79zM177.11 181.14l1.9 3.3h-3.79zM177.19 178.91l1.9 3.3h-3.79zM177.27 180.49l1.9 3.3h-3.79zM177.35 178.3l1.9 3.3h-3.79zM177.43 181.27l1.9 3.3h-3.79zM177.51 177.88l1.9 3.3h-3.79zM177.59 179.14l1.9 3.3h-3.79zM177.66 181.11l1.9 3.3h-3.79zM177.74 179.15l1.9 3.3h-3.79zM177.82 178.95l1.9 3.3h-3.79zM177.9 179.09l1.9 3.3h-3.79zM177.97 179.86l1.9 3.3h-3.79zM178.05 179.28l1.9 3.3h-3.79zM178.12 179.51l1.9 3.3h-3.79zM178.2 180.6l1.9 3.3h-3.79zM178.28 180.24l1.9 3.3h-3.79zM178.35 181.91l1.9 3.3h-3.79zM178.42 179.73l1.9 3.3h-3.79zM178.5 182.14l1.9 3.3h-3.79zM178.57 181.03l1.9 3.3h-3.79zM178.64 182.25l1.9 3.3h-3.79zM178.72 180.02l1.9 3.3h-3.79zM178.79 181l1.9 3.3h-3.79zM178.86 182.46l1.9 3.3h-3.79zM178.93 181.13l1.9 3.3h-3.79zM179 181.78l1.9 3.3h-3.79zM179.07 180.92l1.9 3.3h-3.79zM179.14 181.73l1.9 3.3h-3.79zM179.21 181.95l1.9 3.3h-3.79zM179.28 182.27l1.9 3.3h-3.79zM179.35 183.96l1.9 3.3h-3.79zM179.42 181.71l1.9 3.3h-3.79zM179.49 181.52l1.9 3.3h-3.79zM179.56 183.54l1.9 3.3h-3.79zM179.63 182.01l1.9 3.3h-3.79zM179.69 181.38l1.9 3.3h-3.79zM179.76 181.77l1.9 3.3h-3.79zM179.83 181.44l1.9 3.3h-3.79zM179.89 181.97l1.9 3.3h-3.79zM179.96 183.53l1.9 3.3h-3.79zM180.03 180.75l1.9 3.3h-3.79zM180.09 183.18l1.9 3.3h-3.79zM180.16 184l1.9 3.3h-3.79zM180.22 181.82l1.9 3.3h-3.79zM180.29 184.31l1.9 3.3h-3.79zM180.35 182.68l1.9 3.3h-3.79zM180.42 184.61l1.9 3.3h-3.79zM180.48 182.53l1.9 3.3h-3.79zM180.54 182.49l1.9 3.3h-3.79zM180.61 184.52l1.9 3.3h-3.79zM180.67 183.47l1.9 3.3h-3.79zM180.73 183.41l1.9 3.3h-3.79zM180.79 184.4l1.9 3.3h-3.79zM180.86 183.84l1.9 3.3h-3.79zM180.92 184.62l1.9 3.3h-3.79zM180.98 185.32l1.9 3.3h-3.79zM181.04 185.8l1.9 3.3h-3.79zM181.1 184.48l1.9 3.3h-3.79zM181.16 184.28l1.9 3.3h-3.79zM181.22 184.06l1.9 3.3h-3.79zM181.28 184.53l1.9 3.3h-3.79zM181.34 184.4l1.9 3.3h-3.79zM181.4 185.64l1.9 3.3h-3.79zM181.46 183.41l1.9 3.3h-3.79zM181.52 186.34l1.9 3.3h-3.79zM181.58 184.66l1.9 3.3h-3.79zM181.64 185.78l1.9 3.3h-3.79zM181.7 186.01l1.9 3.3h-3.79zM181.75 183.51l1.9 3.3h-3.79zM181.81 185.28l1.9 3.3h-3.79zM181.87 187.22l1.9 3.3h-3.79zM181.93 185.63l1.9 3.3h-3.79zM181.98 186.62l1.9 3.3h-3.79zM182.04 184.15l1.9 3.3h-3.79zM182.1 187.21l1.9 3.3h-3.79zM182.15 186.33l1.9 3.3h-3.79zM182.21 187.07l1.9 3.3h-3.79zM182.27 187.23l1.9 3.3h-3.79zM182.32 185.88l1.9 3.3h-3.79zM182.38 185.52l1.9 3.3h-3.79zM182.43 185.48l1.9 3.3h-3.79zM182.49 187.08l1.9 3.3h-3.79zM182.54 187.67l1.9 3.3h-3.79zM182.6 186.52l1.9 3.3h-3.79zM182.65 187.65l1.9 3.3h-3.79zM182.71 185.56l1.9 3.3h-3.79zM182.76 188.92l1.9 3.3h-3.79zM182.81 186.97l1.9 3.3h-3.79zM182.87 188.92l1.9 3.3h-3.79z" stroke="#c3193c" stroke-width="0.85" fill="none"/>
<path d="M105.77 78.25h2.47v2.47h-2.47zM115.25 88.73h2.47v2.47h-2.47zM120.8 96.93h2.47v2.47h-2.47zM124.74 102.1h2.47v2.47h-2.47zM127.79 104.43h2.47v2.47h-2.47zM130.28 109.38h2.47v2.47h-2.47zM132.39 112.84h2.47v2.47h-2.47zM134.22 115.68h2.47v2.47h-2.47zM135.83 117.74h2.47v2.47h-2.47zM137.27 119.33h2.47v2.47h-2.47zM138.57 119.83h2.47v2.47h-2.47zM139.76 122.55h2.47v2.47h-2.47zM140.86 124.27h2.47v2.47h-2.47zM141.87 125.87h2.47v2.47h-2.47zM142.82 126.37h2.47v2.47h-2.47zM143.7 129.52h2.47v2.47h-2.47zM144.53 129.39h2.47v2.47h-2.47zM145.31 132.16h2.47v2.47h-2.47zM146.05 133.22h2.47v2.47h-2.47zM146.75 132.42h2.47v2.47h-2.47zM147.42 134.07h2.47v2.47h-2.47zM148.06 135.33h2.47v2.47h-2.47zM148.66 137.11h2.47v2.47h-2.47zM149.25 136.43h2.47v2.47h-2.47zM149.81 135.38h2.47v2.47h-2.47zM150.34 137.98h2.47v2.47h-2.47zM150.86 138.76h2.47v2.47h-2.47zM151.36 140.25h2.47v2.47h-2.47zM151.84 139.58h2.47v2.47h-2.47zM152.3 142.02h2.47v2.47h-2.47zM152.75 139.03h2.47v2.47h-2.47zM153.18 142.66h2.47v2.47h-2.47zM153.6 143.52h2.47v2.47h-2.47zM154.01 142.86h2.47v2.47h-2.47zM154.41 146.05h2.47v2.47h-2.47zM154.79 146.18h2.47v2.47h-2.47zM155.17 146.8h2.47v2.47h-2.47zM155.53 146.81h2.47v2.47h-2.47zM155.89 145.18h2.47v2.47h-2.47zM156.24 148.69h2.47v2.47h-2.47zM156.57 145.45h2.47v2.47h-2.47zM156.9 147.61h2.47v2.47h-2.47zM157.22 147.44h2.47v2.47h-2.47zM157.54 149.42h2.47v2.47h-2.47zM157.85 151.82h2.47v2.47h-2.47zM158.15 151.94h2.47v2.47h-2.47zM158.44 149.61h2.47v2.47h-2.47zM158.73 151.87h2.47v2.47h-2.47zM159.01 151.56h2.47v2.47h-2.47zM159.29 152.05h2.47v2.47h-2.47zM159.56 151.15h2.47v2.47h-2.47zM159.82 151.77h2.47v2.47h-2.47zM160.09 153.23h2.47v2.47h-2.47zM160.34 153.89h2.47v2.47h-2.47zM160.59 153.29h2.47v2.47h-2.47zM160.84 155.96h2.47v2.47h-2.47zM161.08 155.92h2.47v2.47h-2.47zM161.32 156.97h2.47v2.47h-2.47zM161.55 156.9h2.47v2.47h-2.47zM161.78 157.92h2.47v2.47h-2.47zM162.01 155.66h2.47v2.47h-2.47zM162.23 157.24h2.47v2.47h-2.47zM162.45 155.32h2.47v2.47h-2.47zM162.67 157.98h2.47v2.47h-2.47zM162.88 157.65h2.47v2.47h-2.47zM163.09 158.82h2.47v2.47h-2.47zM163.29 157.8h2.47v2.47h-2.47zM163.49 158.27h2.47v2.47h-2.47zM163.69 159.61h2.47v2.47h-2.47zM163.89 159.19h2.47v2.47h-2.47zM164.09 160.69h2.47v2.47h-2.47zM164.28 160.77h2.47v2.47h-2.47zM164.47 161.58h2.47v2.47h-2.47zM164.65 159.79h2.47v2.47h-2.47zM164.83 162.09h2.47v2.47h-2.47zM165.02 162.55h2.47v2.47h-2.47zM165.19 160.57h2.47v2.47h-2.47zM165.37 162.03h2.47v2.47h-2.47zM165.55 163.71h2.47v2.47h-2.47zM165.72 163.72h2.47v2.47h-2.47zM165.89 163.42h2.47v2.47h-2.47zM166.06 164.26h2.47v2.47h-2.47zM166.22 163.4h2.47v2.47h-2.47zM166.39 164.89h2.47v2.47h-2.47zM166.55 165.17h2.47v2.47h-2.47zM166.71 163.23h2.47v2.47h-2.47zM166.87 162.49h2.47v2.47h-2.47zM167.02 163.11h2.47v2.47h-2.47zM167.18 165.26h2.47v2.47h-2.47zM167.33 164.47h2.47v2.47h-2.47zM167.48 165.52h2.47v2.47h-2.47zM167.63 163.56h2.47v2.47h-2.47zM167.78 165.44h2.47v2.47h-2.47zM167.92 165.46h2.47v2.47h-2.47zM168.07 164.13h2.47v2.47h-2.47zM168.21 165.06h2.47v2.47h-2.47zM168.35 166.52h2.47v2.47h-2.47zM168.49 167.99h2.47v2.47h-2.47zM168.63 167.5h2.47v2.47h-2.47zM168.77 168.86h2.47v2.47h-2.47zM168.91 165.67h2.47v2.47h-2.47zM169.04 167.92h2.47v2.47h-2.47zM169.17 167.18h2.47v2.47h-2.47zM169.31 167.93h2.47v2.47h-2.47zM169.44 169.17h2.47v2.47h-2.47zM169.57 168.25h2.47v2.47h-2.47zM169.7 168.35h2.47v2.47h-2.47zM169.82 169.02h2.47v2.47h-2.47zM169.95 169.2h2.47v2.47h-2.47zM170.07 168.99h2.47v2.47h-2.47zM170.2 170.61h2.47v2.47h-2.47zM170.32 169.89h2.47v2.47h-2.47zM170.44 170.45h2.47v2.47h-2.47zM170.56 170.98h2.47v2.47h-2.47zM170.68 170.18h2.47v2.47h-2.47zM170.8 172.92h2.47v2.47h-2.47zM170.92 172.22h2.47v2.47h-2.47zM171.03 171.12h2.47v2.47h-2.47zM171.15 169.39h2.47v2.47h-2.47zM171.26 170.63h2.47v2.47h-2.47zM171.38 172.27h2.47v2.47h-2.47zM171.49 170.03h2.47v2.47h-2.47zM171.6 171.64h2.47v2.47h-2.47zM171.71 172.72h2.47v2.47h-2.47zM171.82 172.29h2.47v2.47h-2.47zM171.93 170.67h2.47v2.47h-2.47zM172.04 171.62h2.47v2.47h-2.47zM172.15 173.45h2.47v2.47h-2.47zM172.25 174h2.47v2.47h-2.47zM172.36 172.36h2.47v2.47h-2.47zM172.46 174.45h2.47v2.47h-2.47zM172.57 173.87h2.47v2.47h-2.47zM172.67 172.74h2.47v2.47h-2.47zM172.77 174.82h2.47v2.47h-2.47zM172.88 174.71h2.47v2.47h-2.47zM172.98 173.75h2.47v2.47h-2.47zM173.08 174.46h2.47v2.47h-2.47zM173.18 172.88h2.47v2.47h-2.47zM173.28 174.47h2.47v2.47h-2.47zM173.37 173.95h2.47v2.47h-2.47zM173.47 174.05h2.47v2.47h-2.47zM173.57 175.57h2.47v2.47h-2.47zM173.66 174.17h2.47v2.47h-2.47zM173.76 173.8h2.47v2.47h-2.47zM173.85 175.59h2.47v2.47h-2.47zM173.95 176.16h2.47v2.47h-2.47zM174.04 175.97h2.47v2.47h-2.47zM174.13 174.29h2.47v2.47h-2.47zM174.23 176h2.47v2.47h-2.47zM174.32 176.67h2.47v2.47h-2.47zM174.41 177.64h2.47v2.47h-2.47zM174.5 176.46h2.47v2.47h-2.47zM174.59 178.03h2.47v2.47h-2.47zM174.68 175.7h2.47v2.47h-2.47zM174.77 177.73h2.47v2.47h-2.47zM174.85 178.39h2.47v2.47h-2.47zM174.94 176.06h2.47v2.47h-2.47zM175.03 176.9h2.47v2.47h-2.47zM175.11 176.9h2.47v2.47h-2.47zM175.2 178.56h2.47v2.47h-2.47zM175.29 176.84h2.47v2.47h-2.47zM175.37 177.48h2.47v2.47h-2.47zM175.45 177.77h2.47v2.47h-2.47zM175.54 177.11h2.47v2.47h-2.47zM175.62 177.05h2.47v2.47h-2.47zM175.7 178.41h2.47v2.47h-2.47zM175.79 176.76h2.47v2.47h-2.47zM175.87 178.02h2.47v2.47h-2.47zM175.95 178.82h2.47v2.47h-2.47zM176.03 178.17h2.47v2.47h-2.47zM176.11 178.71h2.47v2.47h-2.47zM176.19 177.42h2.47v2.47h-2.47zM176.27 178.95h2.47v2.47h-2.47zM176.35 179.51h2.47v2.47h-2.47zM176.43 179.48h2.47v2.47h-2.47zM176.5 178.72h2.47v2.47h-2.47zM176.58 181.44h2.47v2.47h-2.47zM176.66 181.29h2.47v2.47h-2.47zM176.74 180.26h2.47v2.47h-2.47zM176.81 179.61h2.47v2.47h-2.47zM176.89 179.53h2.47v2.47h-2.47zM176.96 180.69h2.47v2.47h-2.47zM177.04 182.19h2.47v2.47h-2.47zM177.11 182.92h2.47v2.47h-2.47zM177.19 180.94h2.47v2.47h-2.47zM177.26 181.34h2.47v2.47h-2.47zM177.33 180.66h2.47v2.47h-2.47zM177.41 180.03h2.47v2.47h-2.47zM177.48 182.17h2.47v2.47h-2.47zM177.55 179.82h2.47v2.47h-2.47zM177.62 181.9h2.47v2.47h-2.47zM177.69 181.76h2.47v2.47h-2.47zM177.77 181.49h2.47v2.47h-2.47zM177.84 183.86h2.47v2.47h-2.47zM177.91 179.3h2.47v2.47h-2.47zM177.98 182.34h2.47v2.47h-2.47zM178.05 180.89h2.47v2.47h-2.47zM178.12 182.96h2.47v2.47h-2.47zM178.18 184.08h2.47v2.47h-2.47zM178.25 183.61h2.47v2.47h-2.47zM178.32 183.79h2.47v2.47h-2.47zM178.39 184.76h2.47v2.47h-2.47zM178.46 185.57h2.47v2.47h-2.47zM178.52 182.09h2.47v2.47h-2.47zM178.59 183.77h2.47v2.47h-2.47zM178.66 182.97h2.47v2.47h-2.47zM178.72 181.86h2.47v2.47h-2.47zM178.79 183.9h2.47v2.47h-2.47zM178.86 183.4h2.47v2.47h-2.47zM178.92 182.41h2.47v2.47h-2.47zM178.99 183.21h2.47v2.47h-2.47zM179.05 183.5h2.47v2.47h-2.47zM179.11 184.88h2.47v2.47h-2.47zM179.18 184.97h2.47v2.47h-2.47zM179.24 183.25h2.47v2.47h-2.47zM179.31 184.41h2.47v2.47h-2.47zM179.37 183.25h2.47v2.47h-2.47zM179.43 183.54h2.47v2.47h-2.47zM179.49 183.97h2.47v2.47h-2.47zM179.56 183.77h2.47v2.47h-2.47zM179.62 184.37h2.47v2.47h-2.47zM179.68 183.41h2.47v2.47h-2.47zM179.74 187.12h2.47v2.47h-2.47zM179.8 185.71h2.47v2.47h-2.47zM179.86 184.65h2.47v2.47h-2.47zM179.92 183.27h2.47v2.47h-2.47zM179.99 187.03h2.47v2.47h-2.47zM180.05 185.87h2.47v2.47h-2.47zM180.11 184.91h2.47v2.47h-2.47zM180.16 184.06h2.47v2.47h-2.47zM180.22 186.07h2.47v2.47h-2.47zM180.28 187.91h2.47v2.47h-2.47zM180.34 185.38h2.47v2.47h-2.47zM180.4 184.99h2.47v2.47h-2.47zM180.46 185.43h2.47v2.47h-2.47zM180.52 185.55h2.47v2.47h-2.47zM180.58 185.46h2.47v2.47h-2.47zM180.63 187.04h2.47v2.47h-2.47zM180.69 185.67h2.47v2.47h-2.47zM180.75 185.47h2.47v2.47h-2.47zM180.8 186.48h2.47v2.47h-2.47zM180.86 187.52h2.47v2.47h-2.47zM180.92 187.34h2.47v2.47h-2.47zM180.97 186h2.47v2.47h-2.47zM181.03 187.57h2.47v2.47h-2.47zM181.08 185.54h2.47v2.47h-2.47zM181.14 186.79h2.47v2.47h-2.47zM181.2 187.39h2.47v2.47h-2.47zM181.25 186.28h2.47v2.47h-2.47zM181.31 187.32h2.47v2.47h-2.47zM181.36 185.03h2.47v2.47h-2.47zM181.41 185.9h2.47v2.47h-2.47zM181.47 188.35h2.47v2.47h-2.47zM181.52 188.03h2.47v2.47h-2.47zM181.58 189.92h2.47v2.47h-2.47zM181.63 186.94h2.47v2.47h-2.47z" stroke="#1978c8" stroke-width="0.85" fill="none"/>
<path d="M129.2 55.7L160.6 109.5M135.2 65.3H154.2V98.6" stroke="#000" stroke-width="0.8" fill="none"/>
<text x="144.3" y="60" font-size="6.9" text-anchor="middle" stroke="#000" stroke-width="0.2">-5/3</text>
<rect x="223.3" y="70.4" width="57" height="120.4" fill="#fff" stroke="#333" stroke-width="0.7"/>
<path d="M240 76.6a3.3 3.3 0 1 0 6.6 0a3.3 3.3 0 1 0 -6.6 0" stroke="#1978c8" stroke-width="0.6" fill="none"/>
<text x="262.4" y="79.9" font-size="8.5" text-anchor="start">Jan</text>
<path d="M243.3 82.78l3.79 6.6h-7.59z" stroke="#1978c8" stroke-width="0.6" fill="none"/>
<text x="262.4" y="89.71" font-size="8.5" text-anchor="start">Feb</text>
<path d="M240.83 93.75h4.95v4.95h-4.95z" stroke="#78af32" stroke-width="0.6" fill="none"/>
<text x="262.4" y="99.52" font-size="8.5" text-anchor="start">Mar</text>
<path d="M240 106.03a3.3 3.3 0 1 0 6.6 0a3.3 3.3 0 1 0 -6.6 0" stroke="#78af32" stroke-width="0.6" fill="none"/>
<text x="262.4" y="109.33" font-size="8.5" text-anchor="start">Apr</text>
<path d="M243.3 112.21l3.79 6.6h-7.59z" stroke="#78af32" stroke-width="0.6" fill="none"/>
<text x="262.4" y="119.14" font-size="8.5" text-anchor="start">May</text>
<path d="M240.83 123.18h4.95v4.95h-4.95z" stroke="#f0af19" stroke-width="0.6" fill="none"/>
<text x="262.4" y="128.95" font-size="8.5" text-anchor="start">Jun</text>
<path d="M240 135.46a3.3 3.3 0 1 0 6.6 0a3.3 3.3 0 1 0 -6.6 0" stroke="#f0af19" stroke-width="0.6" fill="none"/>
<text x="262.4" y="138.76" font-size="8.5" text-anchor="start">Jul</text>
<path d="M243.3 141.64l3.79 6.6h-7.59z" stroke="#f0af19" stroke-width="0.6" fill="none"/>
<text x="262.4" y="148.57" font-size="8.5" text-anchor="start">Aug</text>
<path d="M240.83 152.6h4.95v4.95h-4.95z" stroke="#c3193c" stroke-width="0.6" fill="none"/>
<text x="262.4" y="158.38" font-size="8.5" text-anchor="start">Sep</text>
<path d="M240 164.89a3.3 3.3 0 1 0 6.6 0a3.3 3.3 0 1 0 -6.6 0" stroke="#c3193c" stroke-width="0.6" fill="none"/>
<text x="262.4" y="168.19" font-size="8.5" text-anchor="start">Oct</text>
<path d="M243.3 171.07l3.79 6.6h-7.59z" stroke="#c3193c" stroke-width="0.6" fill="none"/>
<text x="262.4" y="178" font-size="8.5" text-anchor="start">Nov</text>
<path d="M240.83 182.03h4.95v4.95h-4.95z" stroke="#1978c8" stroke-width="0.6" fill="none"/>
<text x="262.4" y="187.81" font-size="8.5" text-anchor="start">Dec</text>
<path d="M66.35 33.2V227.42H286.85" stroke="#262626" stroke-width="0.8" fill="none"/>
<path d="M66.35 227.42v-2.2M75.83 227.42v-1.1M81.38 227.42v-1.1M85.31 227.42v-1.1M88.37 227.42v-1.1M90.86 227.42v-1.1M92.97 227.42v-1.1M94.8 227.42v-1.1M96.41 227.42v-1.1M97.85 227.42v-2.2M107.33 227.42v-1.1M112.88 227.42v-1.1M116.81 227.42v-1.1M119.87 227.42v-1.1M122.36 227.42v-1.1M124.47 227.42v-1.1M126.3 227.42v-1.1M127.91 227.42v-1.1M129.35 227.42v-2.2M138.83 227.42v-1.1M144.38 227.42v-1.1M148.31 227.42v-1.1M151.37 227.42v-1.1M153.86 227.42v-1.1M155.97 227.42v-1.1M157.8 227.42v-1.1M159.41 227.42v-1.1M160.85 227.42v-2.2M170.33 227.42v-1.1M175.88 227.42v-1.1M179.81 227.42v-1.1M182.87 227.42v-1.1M185.36 227.42v-1.1M187.47 227.42v-1.1M189.3 227.42v-1.1M190.91 227.42v-1.1M192.35 227.42v-2.2M201.83 227.42v-1.1M207.38 227.42v-1.1M211.31 227.42v-1.1M214.37 227.42v-1.1M216.86 227.42v-1.1M218.97 227.42v-1.1M220.8 227.42v-1.1M222.41 227.42v-1.1M223.85 227.42v-2.2M233.33 227.42v-1.1M238.88 227.42v-1.1M242.81 227.42v-1.1M245.87 227.42v-1.1M248.36 227.42v-1.1M250.47 227.42v-1.1M252.3 227.42v-1.1M253.91 227.42v-1.1M255.35 227.42v-2.2M264.83 227.42v-1.1M270.38 227.42v-1.1M274.31 227.42v-1.1M277.37 227.42v-1.1M279.86 227.42v-1.1M281.97 227.42v-1.1M283.8 227.42v-1.1M285.41 227.42v-1.1M286.85 227.42v-2.2M66.35 227.42h2.2M66.35 217.68h1.1M66.35 211.98h1.1M66.35 207.93h1.1M66.35 204.79h1.1M66.35 202.23h1.1M66.35 200.06h1.1M66.35 198.19h1.1M66.35 196.53h1.1M66.35 195.05h2.2M66.35 185.31h1.1M66.35 179.61h1.1M66.35 175.56h1.1M66.35 172.42h1.1M66.35 169.86h1.1M66.35 167.69h1.1M66.35 165.82h1.1M66.35 164.16h1.1M66.35 162.68h2.2M66.35 152.94h1.1M66.35 147.24h1.1M66.35 143.19h1.1M66.35 140.05h1.1M66.35 137.49h1.1M66.35 135.32h1.1M66.35 133.45h1.1M66.35 131.79h1.1M66.35 130.31h2.2M66.35 120.57h1.1M66.35 114.87h1.1M66.35 110.82h1.1M66.35 107.68h1.1M66.35 105.12h1.1M66.35 102.95h1.1M66.35 101.08h1.1M66.35 99.42h1.1M66.35 97.94h2.2M66.35 88.2h1.1M66.35 82.5h1.1M66.35 78.45h1.1M66.35 75.31h1.1M66.35 72.75h1.1M66.35 70.58h1.1M66.35 68.71h1.1M66.35 67.05h1.1M66.35 65.57h2.2M66.35 55.83h1.1M66.35 50.13h1.1M66.35 46.08h1.1M66.35 42.94h1.1M66.35 40.38h1.1M66.35 38.21h1.1M66.35 36.34h1.1M66.35 34.68h1.1M66.35 33.2h2.2" stroke="#262626" stroke-width="0.6" fill="none"/>
<text x="64.4" y="232.72" font-size="9" text-anchor="end">10<tspan font-size="6.93" dx="0.3" dy="-5.04">-3</tspan></text>
<text x="64.4" y="200.35" font-size="9" text-anchor="end">10<tspan font-size="6.93" dx="0.3" dy="-5.04">-2</tspan></text>
<text x="64.4" y="167.98" font-size="9" text-anchor="end">10<tspan font-size="6.93" dx="0.3" dy="-5.04">-1</tspan></text>
<text x="64.4" y="135.61" font-size="9" text-anchor="end">10<tspan font-size="6.93" dx="0.3" dy="-5.04">0</tspan></text>
<text x="64.4" y="103.24" font-size="9" text-anchor="end">10<tspan font-size="6.93" dx="0.3" dy="-5.04">1</tspan></text>
<text x="64.4" y="70.87" font-size="9" text-anchor="end">10<tspan font-size="6.93" dx="0.3" dy="-5.04">2</tspan></text>
<text x="64.4" y="38.5" font-size="9" text-anchor="end">10<tspan font-size="6.93" dx="0.3" dy="-5.04">3</tspan></text>
<text x="66.45" y="241.2" font-size="9" text-anchor="middle">10<tspan font-size="6.93" dx="0.3" dy="-5.04">-4</tspan></text>
<text x="129.45" y="241.2" font-size="9" text-anchor="middle">10<tspan font-size="6.93" dx="0.3" dy="-5.04">-2</tspan></text>
<text x="192.45" y="241.2" font-size="9" text-anchor="middle">10<tspan font-size="6.93" dx="0.3" dy="-5.04">0</tspan></text>
<text x="255.45" y="241.2" font-size="9" text-anchor="middle">10<tspan font-size="6.93" dx="0.3" dy="-5.04">2</tspan></text>
<text x="165.2" y="250.7" font-size="10" font-style="italic">f</text><text x="173.66" y="251.1" font-size="11" fill="#555">[</text><text x="176.7" y="250.7" font-size="9.6" textLength="11.4" lengthAdjust="spacingAndGlyphs">Hz</text><text x="186.98" y="251.1" font-size="11" fill="#555">]</text>
<g transform="translate(44.2 130.6) rotate(-90)"><text x="-19.9" y="0" font-size="10" textLength="18.8" lengthAdjust="spacingAndGlyphs"><tspan font-style="italic">S</tspan>(<tspan font-style="italic">f</tspan>)</text><text x="3.39" y="1" font-size="12.5" fill="#666">[</text><text x="7.4" y="-3.8" font-size="7" textLength="5.4" lengthAdjust="spacingAndGlyphs">m</text><text x="13.7" y="-5.7" font-size="4.4">2</text><path d="M7.4 -2.1H15.7" stroke="#1a1a1a" stroke-width="0.55"/><text x="10" y="2.9" font-size="6.6" font-style="italic">s</text><text x="15.5" y="1" font-size="12.5" fill="#666">]</text></g>
<text x="322" y="254.5" font-size="10.9" text-anchor="middle">(<tspan font-weight="bold">a</tspan>)</text>
<path d="M426.7 16.3V58.5M435.9 16.3V58.5M445.1 16.3V58.5M454.3 16.3V58.5M463.5 16.3V58.5M472.7 16.3V58.5M481.9 16.3V58.5M491.1 16.3V58.5M500.3 16.3V58.5M509.5 16.3V58.5M518.7 16.3V58.5M417.5 37.4H518.7M417.5 16.3H518.7" stroke="#dcdcdc" stroke-width="0.7" fill="none"/>
<path d="M417.5 52.15H518.7M417.5 48.43H518.7M417.5 45.8H518.7M417.5 43.75H518.7M417.5 42.08H518.7M417.5 40.67H518.7M417.5 39.44H518.7M417.5 38.37H518.7M417.5 31.05H518.7M417.5 27.33H518.7M417.5 24.7H518.7M417.5 22.65H518.7M417.5 20.98H518.7M417.5 19.57H518.7M417.5 18.34H518.7M417.5 17.27H518.7" stroke="#e8e8e8" stroke-width="0.6" fill="none"/>
<path d="M415.1 43.7a2.4 2.4 0 1 0 4.8 0a2.4 2.4 0 1 0 -4.8 0" stroke="#1978c8" stroke-width="0.75" fill="none"/>
<path d="M426.7 26.96l2.76 4.8h-5.52z" stroke="#1978c8" stroke-width="0.75" fill="none"/>
<path d="M434.1 28.8h3.6v3.6h-3.6z" stroke="#78af32" stroke-width="0.75" fill="none"/>
<path d="M442.7 18.6a2.4 2.4 0 1 0 4.8 0a2.4 2.4 0 1 0 -4.8 0" stroke="#78af32" stroke-width="0.75" fill="none"/>
<path d="M454.3 13.16l2.76 4.8h-5.52z" stroke="#78af32" stroke-width="0.75" fill="none"/>
<path d="M461.7 17.1h3.6v3.6h-3.6z" stroke="#f0af19" stroke-width="0.75" fill="none"/>
<path d="M470.3 23.1a2.4 2.4 0 1 0 4.8 0a2.4 2.4 0 1 0 -4.8 0" stroke="#f0af19" stroke-width="0.75" fill="none"/>
<path d="M481.9 19.66l2.76 4.8h-5.52z" stroke="#f0af19" stroke-width="0.75" fill="none"/>
<path d="M489.3 22.3h3.6v3.6h-3.6z" stroke="#c3193c" stroke-width="0.75" fill="none"/>
<path d="M497.9 26.9a2.4 2.4 0 1 0 4.8 0a2.4 2.4 0 1 0 -4.8 0" stroke="#c3193c" stroke-width="0.75" fill="none"/>
<path d="M509.5 22.96l2.76 4.8h-5.52z" stroke="#c3193c" stroke-width="0.75" fill="none"/>
<path d="M516.9 23.5h3.6v3.6h-3.6z" stroke="#1978c8" stroke-width="0.75" fill="none"/>
<path d="M417.5 16.3V58.5H518.7" stroke="#262626" stroke-width="0.8" fill="none"/>
<path d="M417.5 58.5v-1.6M426.7 58.5v-1.6M435.9 58.5v-1.6M445.1 58.5v-1.6M454.3 58.5v-1.6M463.5 58.5v-1.6M472.7 58.5v-1.6M481.9 58.5v-1.6M491.1 58.5v-1.6M500.3 58.5v-1.6M509.5 58.5v-1.6M518.7 58.5v-1.6M417.5 58.5h1.6M417.5 37.4h1.6M417.5 16.3h1.6" stroke="#262626" stroke-width="0.6" fill="none"/>
<text transform="translate(421 61.5) rotate(-90)" font-size="8.7" text-anchor="end">Jan</text>
<text transform="translate(430.2 61.5) rotate(-90)" font-size="8.7" text-anchor="end">Feb</text>
<text transform="translate(439.4 61.5) rotate(-90)" font-size="8.7" text-anchor="end">Mar</text>
<text transform="translate(448.6 61.5) rotate(-90)" font-size="8.7" text-anchor="end">Apr</text>
<text transform="translate(457.8 61.5) rotate(-90)" font-size="8.7" text-anchor="end">May</text>
<text transform="translate(467 61.5) rotate(-90)" font-size="8.7" text-anchor="end">Jun</text>
<text transform="translate(476.2 61.5) rotate(-90)" font-size="8.7" text-anchor="end">Jul</text>
<text transform="translate(485.4 61.5) rotate(-90)" font-size="8.7" text-anchor="end">Aug</text>
<text transform="translate(494.6 61.5) rotate(-90)" font-size="8.7" text-anchor="end">Sep</text>
<text transform="translate(503.8 61.5) rotate(-90)" font-size="8.7" text-anchor="end">Oct</text>
<text transform="translate(513 61.5) rotate(-90)" font-size="8.7" text-anchor="end">Nov</text>
<text transform="translate(522.2 61.5) rotate(-90)" font-size="8.7" text-anchor="end">Dec</text>
<text x="415.8" y="63.3" font-size="9" text-anchor="end">10<tspan font-size="6.93" dx="0.3" dy="-5.04">0</tspan></text>
<text x="415.8" y="42.2" font-size="9" text-anchor="end">10<tspan font-size="6.93" dx="0.3" dy="-5.04">1</tspan></text>
<text x="415.8" y="21.1" font-size="9" text-anchor="end">10<tspan font-size="6.93" dx="0.3" dy="-5.04">2</tspan></text>
<text x="468.1" y="86.5" font-size="9.5" text-anchor="middle">Month</text>
<text x="538.8" y="88.4" font-size="10.9" text-anchor="middle">(<tspan font-weight="bold">b</tspan>)</text>
<g transform="translate(397.9 37.5) rotate(-90)"><text x="-24.9" y="0" font-size="10">max</text><text x="-6.9" y="0" font-size="10">(</text><text x="-4.1" y="0" font-size="10" font-style="italic" textLength="6.4" lengthAdjust="spacingAndGlyphs">S</text><text x="2.9" y="0" font-size="10">)</text><text x="9.39" y="1" font-size="12.5" fill="#666">[</text><text x="13.4" y="-3.8" font-size="7" textLength="5.4" lengthAdjust="spacingAndGlyphs">m</text><text x="19.7" y="-5.7" font-size="4.4">2</text><path d="M13.4 -2.1H21.7" stroke="#1a1a1a" stroke-width="0.55"/><text x="16" y="2.9" font-size="6.6" font-style="italic">s</text><text x="21.5" y="1" font-size="12.5" fill="#666">]</text></g>
<path d="M429.6 102.3V145M438.6 102.3V145M447.6 102.3V145M456.6 102.3V145M465.6 102.3V145M474.6 102.3V145M483.6 102.3V145M492.6 102.3V145M501.6 102.3V145M510.6 102.3V145M519.6 102.3V145M420.6 102.3H519.6" stroke="#dcdcdc" stroke-width="0.7" fill="none"/>
<path d="M420.6 132.15H519.6M420.6 124.63H519.6M420.6 119.29H519.6M420.6 115.15H519.6M420.6 111.77H519.6M420.6 108.91H519.6M420.6 106.44H519.6M420.6 104.25H519.6" stroke="#e8e8e8" stroke-width="0.6" fill="none"/>
<path d="M418.2 127.7a2.4 2.4 0 1 0 4.8 0a2.4 2.4 0 1 0 -4.8 0" stroke="#1978c8" stroke-width="0.75" fill="none"/>
<path d="M429.6 125.36l2.76 4.8h-5.52z" stroke="#1978c8" stroke-width="0.75" fill="none"/>
<path d="M436.8 119.5h3.6v3.6h-3.6z" stroke="#78af32" stroke-width="0.75" fill="none"/>
<path d="M445.2 107.3a2.4 2.4 0 1 0 4.8 0a2.4 2.4 0 1 0 -4.8 0" stroke="#78af32" stroke-width="0.75" fill="none"/>
<path d="M456.6 101.96l2.76 4.8h-5.52z" stroke="#78af32" stroke-width="0.75" fill="none"/>
<path d="M463.8 108.5h3.6v3.6h-3.6z" stroke="#f0af19" stroke-width="0.75" fill="none"/>
<path d="M472.2 111.8a2.4 2.4 0 1 0 4.8 0a2.4 2.4 0 1 0 -4.8 0" stroke="#f0af19" stroke-width="0.75" fill="none"/>
<path d="M483.6 100.16l2.76 4.8h-5.52z" stroke="#f0af19" stroke-width="0.75" fill="none"/>
<path d="M490.8 115.3h3.6v3.6h-3.6z" stroke="#c3193c" stroke-width="0.75" fill="none"/>
<path d="M499.2 124.7a2.4 2.4 0 1 0 4.8 0a2.4 2.4 0 1 0 -4.8 0" stroke="#c3193c" stroke-width="0.75" fill="none"/>
<path d="M510.6 111.16l2.76 4.8h-5.52z" stroke="#c3193c" stroke-width="0.75" fill="none"/>
<path d="M517.8 111.1h3.6v3.6h-3.6z" stroke="#1978c8" stroke-width="0.75" fill="none"/>
<path d="M420.6 102.3V145H519.6" stroke="#262626" stroke-width="0.8" fill="none"/>
<path d="M420.6 145v-1.6M429.6 145v-1.6M438.6 145v-1.6M447.6 145v-1.6M456.6 145v-1.6M465.6 145v-1.6M474.6 145v-1.6M483.6 145v-1.6M492.6 145v-1.6M501.6 145v-1.6M510.6 145v-1.6M519.6 145v-1.6M420.6 145h1.6M420.6 102.3h1.6" stroke="#262626" stroke-width="0.6" fill="none"/>
<text transform="translate(424.1 148) rotate(-90)" font-size="8.7" text-anchor="end">Jan</text>
<text transform="translate(433.1 148) rotate(-90)" font-size="8.7" text-anchor="end">Feb</text>
<text transform="translate(442.1 148) rotate(-90)" font-size="8.7" text-anchor="end">Mar</text>
<text transform="translate(451.1 148) rotate(-90)" font-size="8.7" text-anchor="end">Apr</text>
<text transform="translate(460.1 148) rotate(-90)" font-size="8.7" text-anchor="end">May</text>
<text transform="translate(469.1 148) rotate(-90)" font-size="8.7" text-anchor="end">Jun</text>
<text transform="translate(478.1 148) rotate(-90)" font-size="8.7" text-anchor="end">Jul</text>
<text transform="translate(487.1 148) rotate(-90)" font-size="8.7" text-anchor="end">Aug</text>
<text transform="translate(496.1 148) rotate(-90)" font-size="8.7" text-anchor="end">Sep</text>
<text transform="translate(505.1 148) rotate(-90)" font-size="8.7" text-anchor="end">Oct</text>
<text transform="translate(514.1 148) rotate(-90)" font-size="8.7" text-anchor="end">Nov</text>
<text transform="translate(523.1 148) rotate(-90)" font-size="8.7" text-anchor="end">Dec</text>
<text x="418.9" y="150.9" font-size="9" text-anchor="end">10<tspan font-size="6.93" dx="0.3" dy="-5.04">-3</tspan></text>
<text x="418.9" y="108.2" font-size="9" text-anchor="end">10<tspan font-size="6.93" dx="0.3" dy="-5.04">-2</tspan></text>
<text x="470.1" y="173.8" font-size="9.5" text-anchor="middle">Month</text>
<text x="538.8" y="175.1" font-size="10.9" text-anchor="middle">(<tspan font-weight="bold">c</tspan>)</text>
<g transform="translate(399.3 124) rotate(-90)"><text x="-6.9" y="0" font-size="10" font-style="italic" text-anchor="end">α</text><text x="-3.51" y="1" font-size="12.5" fill="#666">[</text><text x="0.5" y="-3.8" font-size="7" textLength="5.4" lengthAdjust="spacingAndGlyphs">m</text><text x="6.8" y="-5.7" font-size="4.4">2</text><path d="M0.5 -2.1H8.8" stroke="#1a1a1a" stroke-width="0.55"/><text x="3.1" y="2.9" font-size="6.6" font-style="italic">s</text><text x="8.6" y="1" font-size="12.5" fill="#666">]</text></g>
<path d="M426.68 187.7V231.5M435.86 187.7V231.5M445.05 187.7V231.5M454.23 187.7V231.5M463.41 187.7V231.5M472.59 187.7V231.5M481.77 187.7V231.5M490.95 187.7V231.5M500.14 187.7V231.5M509.32 187.7V231.5M518.5 187.7V231.5M417.5 187.7H518.5M417.5 196.46H518.5M417.5 205.22H518.5M417.5 213.98H518.5M417.5 222.74H518.5" stroke="#dcdcdc" stroke-width="0.7" fill="none"/>
<path d="M415.1 191.4a2.4 2.4 0 1 0 4.8 0a2.4 2.4 0 1 0 -4.8 0" stroke="#1978c8" stroke-width="0.75" fill="none"/>
<path d="M426.68 216.36l2.76 4.8h-5.52z" stroke="#1978c8" stroke-width="0.75" fill="none"/>
<path d="M434.06 215.2h3.6v3.6h-3.6z" stroke="#78af32" stroke-width="0.75" fill="none"/>
<path d="M442.65 220.2a2.4 2.4 0 1 0 4.8 0a2.4 2.4 0 1 0 -4.8 0" stroke="#78af32" stroke-width="0.75" fill="none"/>
<path d="M454.23 217.06l2.76 4.8h-5.52z" stroke="#78af32" stroke-width="0.75" fill="none"/>
<path d="M461.61 219.4h3.6v3.6h-3.6z" stroke="#f0af19" stroke-width="0.75" fill="none"/>
<path d="M470.19 220.6a2.4 2.4 0 1 0 4.8 0a2.4 2.4 0 1 0 -4.8 0" stroke="#f0af19" stroke-width="0.75" fill="none"/>
<path d="M481.77 206.46l2.76 4.8h-5.52z" stroke="#f0af19" stroke-width="0.75" fill="none"/>
<path d="M489.15 220.6h3.6v3.6h-3.6z" stroke="#c3193c" stroke-width="0.75" fill="none"/>
<path d="M497.74 223a2.4 2.4 0 1 0 4.8 0a2.4 2.4 0 1 0 -4.8 0" stroke="#c3193c" stroke-width="0.75" fill="none"/>
<path d="M509.32 213.56l2.76 4.8h-5.52z" stroke="#c3193c" stroke-width="0.75" fill="none"/>
<path d="M516.7 212.3h3.6v3.6h-3.6z" stroke="#1978c8" stroke-width="0.75" fill="none"/>
<path d="M417.5 187.7V231.5H518.5" stroke="#262626" stroke-width="0.8" fill="none"/>
<path d="M417.5 231.5v-1.6M426.68 231.5v-1.6M435.86 231.5v-1.6M445.05 231.5v-1.6M454.23 231.5v-1.6M463.41 231.5v-1.6M472.59 231.5v-1.6M481.77 231.5v-1.6M490.95 231.5v-1.6M500.14 231.5v-1.6M509.32 231.5v-1.6M518.5 231.5v-1.6M417.5 187.7h1.6M417.5 196.46h1.6M417.5 205.22h1.6M417.5 213.98h1.6M417.5 222.74h1.6M417.5 231.5h1.6" stroke="#262626" stroke-width="0.6" fill="none"/>
<text transform="translate(421 234.5) rotate(-90)" font-size="8.7" text-anchor="end">Jan</text>
<text transform="translate(430.18 234.5) rotate(-90)" font-size="8.7" text-anchor="end">Feb</text>
<text transform="translate(439.36 234.5) rotate(-90)" font-size="8.7" text-anchor="end">Mar</text>
<text transform="translate(448.55 234.5) rotate(-90)" font-size="8.7" text-anchor="end">Apr</text>
<text transform="translate(457.73 234.5) rotate(-90)" font-size="8.7" text-anchor="end">May</text>
<text transform="translate(466.91 234.5) rotate(-90)" font-size="8.7" text-anchor="end">Jun</text>
<text transform="translate(476.09 234.5) rotate(-90)" font-size="8.7" text-anchor="end">Jul</text>
<text transform="translate(485.27 234.5) rotate(-90)" font-size="8.7" text-anchor="end">Aug</text>
<text transform="translate(494.45 234.5) rotate(-90)" font-size="8.7" text-anchor="end">Sep</text>
<text transform="translate(503.64 234.5) rotate(-90)" font-size="8.7" text-anchor="end">Oct</text>
<text transform="translate(512.82 234.5) rotate(-90)" font-size="8.7" text-anchor="end">Nov</text>
<text transform="translate(522 234.5) rotate(-90)" font-size="8.7" text-anchor="end">Dec</text>
<text x="415.1" y="191.7" font-size="8.7" text-anchor="end">-1.3</text>
<text x="415.1" y="200.46" font-size="8.7" text-anchor="end">-1.4</text>
<text x="415.1" y="209.22" font-size="8.7" text-anchor="end">-1.5</text>
<text x="415.1" y="217.98" font-size="8.7" text-anchor="end">-1.6</text>
<text x="415.1" y="226.74" font-size="8.7" text-anchor="end">-1.7</text>
<text x="415.1" y="235.5" font-size="8.7" text-anchor="end">-1.8</text>
<text x="468" y="259.7" font-size="9.5" text-anchor="middle">Month</text>
<text x="539.2" y="261.3" font-size="10.9" text-anchor="middle">(<tspan font-weight="bold">d</tspan>)</text>
<g transform="translate(397 209.6) rotate(-90)"><text x="-3.4" y="0" font-size="10" font-style="italic" text-anchor="end">p</text><text x="-0.11" y="1" font-size="12.5" fill="#666">[</text><text x="3.8" y="0" font-size="10" text-anchor="middle">-</text><text x="3.85" y="1" font-size="12.5" fill="#666">]</text></g>
<path d="M424.24 274.3V318.1M433.67 274.3V318.1M443.11 274.3V318.1M452.55 274.3V318.1M461.98 274.3V318.1M471.42 274.3V318.1M480.85 274.3V318.1M490.29 274.3V318.1M499.73 274.3V318.1M509.16 274.3V318.1M518.6 274.3V318.1M414.8 303.5H518.6M414.8 288.9H518.6M414.8 274.3H518.6" stroke="#dcdcdc" stroke-width="0.7" fill="none"/>
<path d="M412.4 292.9a2.4 2.4 0 1 0 4.8 0a2.4 2.4 0 1 0 -4.8 0" stroke="#1978c8" stroke-width="0.75" fill="none"/>
<path d="M424.24 306.36l2.76 4.8h-5.52z" stroke="#1978c8" stroke-width="0.75" fill="none"/>
<path d="M431.87 308.1h3.6v3.6h-3.6z" stroke="#78af32" stroke-width="0.75" fill="none"/>
<path d="M440.71 303a2.4 2.4 0 1 0 4.8 0a2.4 2.4 0 1 0 -4.8 0" stroke="#78af32" stroke-width="0.75" fill="none"/>
<path d="M452.55 304.26l2.76 4.8h-5.52z" stroke="#78af32" stroke-width="0.75" fill="none"/>
<path d="M460.18 299.7h3.6v3.6h-3.6z" stroke="#f0af19" stroke-width="0.75" fill="none"/>
<path d="M469.02 278.3a2.4 2.4 0 1 0 4.8 0a2.4 2.4 0 1 0 -4.8 0" stroke="#f0af19" stroke-width="0.75" fill="none"/>
<path d="M480.85 292.86l2.76 4.8h-5.52z" stroke="#f0af19" stroke-width="0.75" fill="none"/>
<path d="M488.49 307.2h3.6v3.6h-3.6z" stroke="#c3193c" stroke-width="0.75" fill="none"/>
<path d="M497.33 303.9a2.4 2.4 0 1 0 4.8 0a2.4 2.4 0 1 0 -4.8 0" stroke="#c3193c" stroke-width="0.75" fill="none"/>
<path d="M509.16 310.26l2.76 4.8h-5.52z" stroke="#c3193c" stroke-width="0.75" fill="none"/>
<path d="M516.8 293.7h3.6v3.6h-3.6z" stroke="#1978c8" stroke-width="0.75" fill="none"/>
<path d="M414.8 274.3V318.1H518.6" stroke="#262626" stroke-width="0.8" fill="none"/>
<path d="M414.8 318.1v-1.6M424.24 318.1v-1.6M433.67 318.1v-1.6M443.11 318.1v-1.6M452.55 318.1v-1.6M461.98 318.1v-1.6M471.42 318.1v-1.6M480.85 318.1v-1.6M490.29 318.1v-1.6M499.73 318.1v-1.6M509.16 318.1v-1.6M518.6 318.1v-1.6M414.8 318.1h1.6M414.8 303.5h1.6M414.8 288.9h1.6M414.8 274.3h1.6" stroke="#262626" stroke-width="0.6" fill="none"/>
<text transform="translate(418.3 321.1) rotate(-90)" font-size="8.7" text-anchor="end">Jan</text>
<text transform="translate(427.74 321.1) rotate(-90)" font-size="8.7" text-anchor="end">Feb</text>
<text transform="translate(437.17 321.1) rotate(-90)" font-size="8.7" text-anchor="end">Mar</text>
<text transform="translate(446.61 321.1) rotate(-90)" font-size="8.7" text-anchor="end">Apr</text>
<text transform="translate(456.05 321.1) rotate(-90)" font-size="8.7" text-anchor="end">May</text>
<text transform="translate(465.48 321.1) rotate(-90)" font-size="8.7" text-anchor="end">Jun</text>
<text transform="translate(474.92 321.1) rotate(-90)" font-size="8.7" text-anchor="end">Jul</text>
<text transform="translate(484.35 321.1) rotate(-90)" font-size="8.7" text-anchor="end">Aug</text>
<text transform="translate(493.79 321.1) rotate(-90)" font-size="8.7" text-anchor="end">Sep</text>
<text transform="translate(503.23 321.1) rotate(-90)" font-size="8.7" text-anchor="end">Oct</text>
<text transform="translate(512.66 321.1) rotate(-90)" font-size="8.7" text-anchor="end">Nov</text>
<text transform="translate(522.1 321.1) rotate(-90)" font-size="8.7" text-anchor="end">Dec</text>
<text x="412.4" y="322.8" font-size="8.7" text-anchor="end">2</text>
<text x="412.4" y="308.2" font-size="8.7" text-anchor="end">2.5</text>
<text x="412.4" y="293.6" font-size="8.7" text-anchor="end">3</text>
<text x="412.4" y="279" font-size="8.7" text-anchor="end">3.5</text>
<text x="466.7" y="346.5" font-size="9.5" text-anchor="middle">Month</text>
<text x="538.8" y="348" font-size="10.9" text-anchor="middle">(g)</text>
<g transform="translate(397.7 296) rotate(-90)"><text x="-2.2" y="0" font-size="10" font-style="italic" text-anchor="end">B</text><text x="0.99" y="1" font-size="12.5" fill="#666">[</text><text x="5.4" y="0" font-size="10" text-anchor="middle">-</text><text x="5.65" y="1" font-size="12.5" fill="#666">]</text></g>
<path d="M35.94 281.6V318.3M45.57 281.6V318.3M55.21 281.6V318.3M64.85 281.6V318.3M74.48 281.6V318.3M84.12 281.6V318.3M93.75 281.6V318.3M103.39 281.6V318.3M113.03 281.6V318.3M122.66 281.6V318.3M132.3 281.6V318.3M26.3 312.2H132.3M26.3 299.25H132.3M26.3 286.3H132.3" stroke="#dcdcdc" stroke-width="0.7" fill="none"/>
<path d="M23.9 312a2.4 2.4 0 1 0 4.8 0a2.4 2.4 0 1 0 -4.8 0" stroke="#1978c8" stroke-width="0.75" fill="none"/>
<path d="M35.94 310.06l2.76 4.8h-5.52z" stroke="#1978c8" stroke-width="0.75" fill="none"/>
<path d="M43.77 310.2h3.6v3.6h-3.6z" stroke="#78af32" stroke-width="0.75" fill="none"/>
<path d="M52.81 310.3a2.4 2.4 0 1 0 4.8 0a2.4 2.4 0 1 0 -4.8 0" stroke="#78af32" stroke-width="0.75" fill="none"/>
<path d="M64.85 307.96l2.76 4.8h-5.52z" stroke="#78af32" stroke-width="0.75" fill="none"/>
<path d="M72.68 311.2h3.6v3.6h-3.6z" stroke="#f0af19" stroke-width="0.75" fill="none"/>
<path d="M81.72 281.7a2.4 2.4 0 1 0 4.8 0a2.4 2.4 0 1 0 -4.8 0" stroke="#f0af19" stroke-width="0.75" fill="none"/>
<path d="M93.75 308.66l2.76 4.8h-5.52z" stroke="#f0af19" stroke-width="0.75" fill="none"/>
<path d="M101.59 307.4h3.6v3.6h-3.6z" stroke="#c3193c" stroke-width="0.75" fill="none"/>
<path d="M110.63 314.8a2.4 2.4 0 1 0 4.8 0a2.4 2.4 0 1 0 -4.8 0" stroke="#c3193c" stroke-width="0.75" fill="none"/>
<path d="M122.66 315.36l2.76 4.8h-5.52z" stroke="#c3193c" stroke-width="0.75" fill="none"/>
<path d="M130.5 310.5h3.6v3.6h-3.6z" stroke="#1978c8" stroke-width="0.75" fill="none"/>
<path d="M26.3 281.6V318.3H132.3" stroke="#262626" stroke-width="0.8" fill="none"/>
<path d="M26.3 318.3v-1.6M35.94 318.3v-1.6M45.57 318.3v-1.6M55.21 318.3v-1.6M64.85 318.3v-1.6M74.48 318.3v-1.6M84.12 318.3v-1.6M93.75 318.3v-1.6M103.39 318.3v-1.6M113.03 318.3v-1.6M122.66 318.3v-1.6M132.3 318.3v-1.6M26.3 312.2h1.6M26.3 299.25h1.6M26.3 286.3h1.6" stroke="#262626" stroke-width="0.6" fill="none"/>
<text transform="translate(29.8 321.3) rotate(-90)" font-size="8.7" text-anchor="end">Jan</text>
<text transform="translate(39.44 321.3) rotate(-90)" font-size="8.7" text-anchor="end">Feb</text>
<text transform="translate(49.07 321.3) rotate(-90)" font-size="8.7" text-anchor="end">Mar</text>
<text transform="translate(58.71 321.3) rotate(-90)" font-size="8.7" text-anchor="end">Apr</text>
<text transform="translate(68.35 321.3) rotate(-90)" font-size="8.7" text-anchor="end">May</text>
<text transform="translate(77.98 321.3) rotate(-90)" font-size="8.7" text-anchor="end">Jun</text>
<text transform="translate(87.62 321.3) rotate(-90)" font-size="8.7" text-anchor="end">Jul</text>
<text transform="translate(97.25 321.3) rotate(-90)" font-size="8.7" text-anchor="end">Aug</text>
<text transform="translate(106.89 321.3) rotate(-90)" font-size="8.7" text-anchor="end">Sep</text>
<text transform="translate(116.53 321.3) rotate(-90)" font-size="8.7" text-anchor="end">Oct</text>
<text transform="translate(126.16 321.3) rotate(-90)" font-size="8.7" text-anchor="end">Nov</text>
<text transform="translate(135.8 321.3) rotate(-90)" font-size="8.7" text-anchor="end">Dec</text>
<text x="23.9" y="315.8" font-size="8.7" text-anchor="end">0</text>
<text x="23.9" y="302.85" font-size="8.7" text-anchor="end">10</text>
<text x="23.9" y="289.9" font-size="8.7" text-anchor="end">20</text>
<text x="79.3" y="345.5" font-size="9.5" text-anchor="middle">Month</text>
<text x="152" y="348" font-size="10.9" text-anchor="middle">(<tspan font-weight="bold">e</tspan>)</text>
<g transform="translate(11 300) rotate(-90)"><text x="-10.1" y="0" font-size="10" font-style="italic" text-anchor="end">μ</text><text x="-6.61" y="1" font-size="12.5" fill="#666">[</text><text x="-3.6" y="0" font-size="10" textLength="14.4" lengthAdjust="spacingAndGlyphs">m/s</text><text x="12.25" y="1" font-size="12.5" fill="#666">]</text></g>
<text x="27.5" y="279.5" font-size="8.7">×10<tspan font-size="6.2" dy="-3.6">-3</tspan></text>
<path d="M230.13 274.6V318.3M239.55 274.6V318.3M248.98 274.6V318.3M258.41 274.6V318.3M267.84 274.6V318.3M277.26 274.6V318.3M286.69 274.6V318.3M296.12 274.6V318.3M305.55 274.6V318.3M314.97 274.6V318.3M324.4 274.6V318.3M220.7 303.73H324.4M220.7 289.17H324.4M220.7 274.6H324.4" stroke="#dcdcdc" stroke-width="0.7" fill="none"/>
<path d="M218.3 308.9a2.4 2.4 0 1 0 4.8 0a2.4 2.4 0 1 0 -4.8 0" stroke="#1978c8" stroke-width="0.75" fill="none"/>
<path d="M230.13 310.36l2.76 4.8h-5.52z" stroke="#1978c8" stroke-width="0.75" fill="none"/>
<path d="M237.75 295.8h3.6v3.6h-3.6z" stroke="#78af32" stroke-width="0.75" fill="none"/>
<path d="M246.58 315.5a2.4 2.4 0 1 0 4.8 0a2.4 2.4 0 1 0 -4.8 0" stroke="#78af32" stroke-width="0.75" fill="none"/>
<path d="M258.41 300.86l2.76 4.8h-5.52z" stroke="#78af32" stroke-width="0.75" fill="none"/>
<path d="M266.04 277.2h3.6v3.6h-3.6z" stroke="#f0af19" stroke-width="0.75" fill="none"/>
<path d="M274.86 302.4a2.4 2.4 0 1 0 4.8 0a2.4 2.4 0 1 0 -4.8 0" stroke="#f0af19" stroke-width="0.75" fill="none"/>
<path d="M286.69 277.66l2.76 4.8h-5.52z" stroke="#f0af19" stroke-width="0.75" fill="none"/>
<path d="M294.32 312.7h3.6v3.6h-3.6z" stroke="#c3193c" stroke-width="0.75" fill="none"/>
<path d="M303.15 301.7a2.4 2.4 0 1 0 4.8 0a2.4 2.4 0 1 0 -4.8 0" stroke="#c3193c" stroke-width="0.75" fill="none"/>
<path d="M314.97 309.56l2.76 4.8h-5.52z" stroke="#c3193c" stroke-width="0.75" fill="none"/>
<path d="M322.6 286.6h3.6v3.6h-3.6z" stroke="#1978c8" stroke-width="0.75" fill="none"/>
<path d="M220.7 274.6V318.3H324.4" stroke="#262626" stroke-width="0.8" fill="none"/>
<path d="M220.7 318.3v-1.6M230.13 318.3v-1.6M239.55 318.3v-1.6M248.98 318.3v-1.6M258.41 318.3v-1.6M267.84 318.3v-1.6M277.26 318.3v-1.6M286.69 318.3v-1.6M296.12 318.3v-1.6M305.55 318.3v-1.6M314.97 318.3v-1.6M324.4 318.3v-1.6M220.7 318.3h1.6M220.7 303.73h1.6M220.7 289.17h1.6M220.7 274.6h1.6" stroke="#262626" stroke-width="0.6" fill="none"/>
<text transform="translate(224.2 321.3) rotate(-90)" font-size="8.7" text-anchor="end">Jan</text>
<text transform="translate(233.63 321.3) rotate(-90)" font-size="8.7" text-anchor="end">Feb</text>
<text transform="translate(243.05 321.3) rotate(-90)" font-size="8.7" text-anchor="end">Mar</text>
<text transform="translate(252.48 321.3) rotate(-90)" font-size="8.7" text-anchor="end">Apr</text>
<text transform="translate(261.91 321.3) rotate(-90)" font-size="8.7" text-anchor="end">May</text>
<text transform="translate(271.34 321.3) rotate(-90)" font-size="8.7" text-anchor="end">Jun</text>
<text transform="translate(280.76 321.3) rotate(-90)" font-size="8.7" text-anchor="end">Jul</text>
<text transform="translate(290.19 321.3) rotate(-90)" font-size="8.7" text-anchor="end">Aug</text>
<text transform="translate(299.62 321.3) rotate(-90)" font-size="8.7" text-anchor="end">Sep</text>
<text transform="translate(309.05 321.3) rotate(-90)" font-size="8.7" text-anchor="end">Oct</text>
<text transform="translate(318.47 321.3) rotate(-90)" font-size="8.7" text-anchor="end">Nov</text>
<text transform="translate(327.9 321.3) rotate(-90)" font-size="8.7" text-anchor="end">Dec</text>
<text x="218.3" y="322.1" font-size="8.7" text-anchor="end">0</text>
<text x="218.3" y="307.53" font-size="8.7" text-anchor="end">0.4</text>
<text x="218.3" y="292.97" font-size="8.7" text-anchor="end">0.8</text>
<text x="218.3" y="278.4" font-size="8.7" text-anchor="end">1.2</text>
<text x="272.55" y="345.6" font-size="9.5" text-anchor="middle">Month</text>
<text x="343.6" y="348" font-size="10.9" text-anchor="middle">(<tspan font-weight="bold">f</tspan>)</text>
<g transform="translate(203 296.1) rotate(-90)"><text x="-10.1" y="0" font-size="10" font-style="italic" text-anchor="end">σ</text><text x="-6.61" y="1" font-size="12.5" fill="#666">[</text><text x="-3.6" y="0" font-size="10" textLength="14.4" lengthAdjust="spacingAndGlyphs">m/s</text><text x="12.25" y="1" font-size="12.5" fill="#666">]</text></g>
</svg></body></html>
